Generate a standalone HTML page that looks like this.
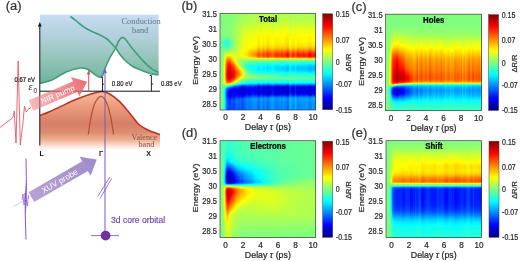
<!DOCTYPE html>
<html><head><meta charset="utf-8"><title>Figure</title>
<style>
html,body{margin:0;padding:0;background:#fff;width:520px;height:261px;overflow:hidden;position:relative}
.hm{position:absolute;overflow:hidden}
.hm i{position:absolute;left:0;width:100%;height:1px;display:block}
svg{position:absolute;left:0;top:0;display:block}
</style></head>
<body>
<div class="hm" style="left:220px;top:13px;width:96px;height:97px;filter:blur(0.45px)"><i style="top:0px;background:linear-gradient(90deg,#80ff7f 0.5px,#b1ff4e 38.5px,#acff53 95.5px)"></i><i style="top:1px;background:linear-gradient(90deg,#80ff7f 0.5px,#b2ff4d 38.5px,#adff52 95.5px)"></i><i style="top:2px;background:linear-gradient(90deg,#80ff7f 0.5px,#b3ff4c 38.5px,#aeff51 95.5px)"></i><i style="top:3px;background:linear-gradient(90deg,#80ff7f 0.5px,#86ff79 11.5px,#a4ff5b 23.5px,#b4ff4b 38.5px,#b0ff4f 95.5px)"></i><i style="top:4px;background:linear-gradient(90deg,#80ff7f 0.5px,#86ff79 11.5px,#a5ff5a 23.5px,#b6ff49 38.5px,#adff52 41.5px,#b8ff47 47.5px,#adff52 52.5px,#b9ff46 67.5px,#abff54 70.5px,#b2ff4d 95.5px)"></i><i style="top:5px;background:linear-gradient(90deg,#80ff7f 0.5px,#86ff79 11.5px,#a7ff58 23.5px,#b9ff46 38.5px,#afff50 41.5px,#baff45 47.5px,#afff50 52.5px,#bbff44 67.5px,#adff52 70.5px,#b6ff49 73.5px,#adff52 75.5px,#b4ff4b 95.5px)"></i><i style="top:6px;background:linear-gradient(90deg,#80ff7f 0.5px,#87ff78 11.5px,#a9ff56 23.5px,#bcff43 38.5px,#b1ff4e 41.5px,#bdff42 47.5px,#b1ff4e 52.5px,#beff41 67.5px,#afff50 70.5px,#b9ff46 73.5px,#afff50 75.5px,#b6ff49 95.5px)"></i><i style="top:7px;background:linear-gradient(90deg,#80ff7f 0.5px,#87ff78 11.5px,#abff54 23.5px,#bfff40 38.5px,#b4ff4b 41.5px,#c0ff3f 47.5px,#b4ff4b 52.5px,#c2ff3d 67.5px,#b1ff4e 70.5px,#bcff43 73.5px,#b2ff4d 75.5px,#bcff43 77.5px,#b9ff46 95.5px)"></i><i style="top:8px;background:linear-gradient(90deg,#80ff7f 0.5px,#88ff77 11.5px,#aeff51 23.5px,#c3ff3c 38.5px,#b7ff48 41.5px,#c4ff3b 47.5px,#b7ff48 52.5px,#c6ff39 67.5px,#b4ff4b 70.5px,#c0ff3f 73.5px,#b5ff4a 75.5px,#bfff40 77.5px,#bdff42 95.5px)"></i><i style="top:9px;background:linear-gradient(90deg,#80ff7f 0.5px,#88ff77 11.5px,#b1ff4e 23.5px,#bbff44 36.5px,#c7ff38 38.5px,#bbff44 41.5px,#c9ff36 47.5px,#bbff44 52.5px,#cbff34 67.5px,#b8ff47 70.5px,#c4ff3b 73.5px,#b8ff47 75.5px,#c3ff3c 77.5px,#c1ff3e 95.5px)"></i><i style="top:10px;background:linear-gradient(90deg,#80ff7f 0.5px,#89ff76 11.5px,#b4ff4b 23.5px,#bfff40 36.5px,#ccff33 38.5px,#bfff40 41.5px,#ceff31 47.5px,#bfff40 52.5px,#d0ff2f 67.5px,#bcff43 70.5px,#c9ff36 73.5px,#bcff43 75.5px,#c8ff37 77.5px,#c6ff39 95.5px)"></i><i style="top:11px;background:linear-gradient(90deg,#80ff7f 0.5px,#89ff76 11.5px,#b8ff47 23.5px,#c3ff3c 36.5px,#d1ff2e 38.5px,#c3ff3c 41.5px,#d3ff2c 47.5px,#c3ff3c 52.5px,#d5ff2a 67.5px,#c0ff3f 70.5px,#ceff31 73.5px,#c0ff3f 75.5px,#cdff32 77.5px,#caff35 95.5px)"></i><i style="top:12px;background:linear-gradient(90deg,#80ff7f 0.5px,#8aff75 11.5px,#bcff43 23.5px,#c8ff37 36.5px,#d7ff28 38.5px,#c8ff37 41.5px,#d9ff26 47.5px,#c8ff37 52.5px,#dbff24 67.5px,#c4ff3b 70.5px,#d3ff2c 73.5px,#c5ff3a 75.5px,#d2ff2d 77.5px,#cfff30 95.5px)"></i><i style="top:13px;background:linear-gradient(90deg,#80ff7f 0.5px,#8bff74 11.5px,#c0ff3f 23.5px,#cdff32 36.5px,#ddff22 38.5px,#cdff32 41.5px,#dfff20 47.5px,#ccff33 52.5px,#e1ff1e 67.5px,#c9ff36 70.5px,#d9ff26 73.5px,#c9ff36 75.5px,#d8ff27 77.5px,#d5ff2a 95.5px)"></i><i style="top:14px;background:linear-gradient(90deg,#80ff7f 0.5px,#8bff74 11.5px,#c4ff3b 23.5px,#d2ff2d 36.5px,#e3ff1c 38.5px,#d2ff2d 41.5px,#e5ff1a 47.5px,#d1ff2e 52.5px,#e0ff1f 56.5px,#d9ff26 63.5px,#e7ff18 67.5px,#cdff32 70.5px,#dfff20 73.5px,#ceff31 75.5px,#ddff22 77.5px,#daff25 95.5px)"></i><i style="top:15px;background:linear-gradient(90deg,#80ff7f 0.5px,#8cff73 11.5px,#c8ff37 23.5px,#d6ff29 36.5px,#e8ff17 38.5px,#d7ff28 41.5px,#e6ff19 43.5px,#dbff24 45.5px,#ebff14 47.5px,#d6ff29 52.5px,#e6ff19 56.5px,#deff21 63.5px,#eeff11 67.5px,#d2ff2d 70.5px,#e4ff1b 73.5px,#d2ff2d 75.5px,#e3ff1c 77.5px,#e0ff1f 95.5px)"></i><i style="top:16px;background:linear-gradient(90deg,#7fff80 0.5px,#8dff72 11.5px,#ccff33 23.5px,#dbff24 36.5px,#eeff11 38.5px,#dbff24 41.5px,#ecff13 43.5px,#e0ff1f 45.5px,#f1ff0e 47.5px,#dbff24 52.5px,#ecff13 56.5px,#e4ff1b 63.5px,#f4ff0b 67.5px,#d7ff28 70.5px,#eaff15 73.5px,#d7ff28 75.5px,#e8ff17 77.5px,#e5ff1a 95.5px)"></i><i style="top:17px;background:linear-gradient(90deg,#7fff80 0.5px,#8dff72 11.5px,#cfff30 23.5px,#e0ff1f 29.5px,#e0ff1f 36.5px,#f4ff0b 38.5px,#e0ff1f 41.5px,#f1ff0e 43.5px,#e5ff1a 45.5px,#f6ff09 47.5px,#dfff20 52.5px,#f1ff0e 56.5px,#e9ff16 63.5px,#f9ff06 67.5px,#dbff24 70.5px,#efff10 73.5px,#dbff24 75.5px,#eeff11 77.5px,#eaff15 95.5px)"></i><i style="top:18px;background:linear-gradient(90deg,#7fff80 0.5px,#8eff71 11.5px,#d3ff2c 23.5px,#e4ff1b 29.5px,#e4ff1b 36.5px,#f9ff06 38.5px,#e4ff1b 41.5px,#f6ff09 43.5px,#e9ff16 45.5px,#fcff03 47.5px,#e4ff1b 52.5px,#f6ff09 56.5px,#edff12 63.5px,#ffff00 67.5px,#dfff20 70.5px,#f4ff0b 73.5px,#dfff20 75.5px,#f2ff0d 77.5px,#eeff11 95.5px)"></i><i style="top:19px;background:linear-gradient(90deg,#7fff80 0.5px,#8eff71 11.5px,#d6ff29 23.5px,#e8ff17 29.5px,#e8ff17 36.5px,#feff01 38.5px,#e8ff17 41.5px,#fbff04 43.5px,#edff12 45.5px,#fffd00 47.5px,#e8ff17 52.5px,#fbff04 56.5px,#f2ff0d 63.5px,#fffd00 68.5px,#e3ff1c 70.5px,#f9ff06 73.5px,#e3ff1c 75.5px,#f7ff08 77.5px,#f3ff0c 95.5px)"></i><i style="top:20px;background:linear-gradient(90deg,#7fff80 0.5px,#8eff71 11.5px,#d9ff26 23.5px,#ecff13 29.5px,#ebff14 36.5px,#fffc00 38.5px,#ecff13 41.5px,#ffff00 43.5px,#f1ff0e 45.5px,#fff900 47.5px,#ebff14 52.5px,#ffff00 56.5px,#f5ff0a 60.5px,#fff900 68.5px,#e6ff19 70.5px,#fdff02 73.5px,#e6ff19 75.5px,#fbff04 77.5px,#f7ff08 95.5px)"></i><i style="top:21px;background:linear-gradient(90deg,#7fff80 0.5px,#82ff7d 8.5px,#acff53 17.5px,#e0ff1f 24.5px,#eeff11 36.5px,#fff900 38.5px,#efff10 41.5px,#fffb00 43.5px,#f4ff0b 45.5px,#fff500 47.5px,#fffe00 48.5px,#eeff11 52.5px,#feff01 55.5px,#fff500 68.5px,#e9ff16 70.5px,#fffe00 73.5px,#e9ff16 75.5px,#feff01 77.5px,#faff05 95.5px)"></i><i style="top:22px;background:linear-gradient(90deg,#7fff80 0.5px,#7eff81 8.5px,#adff52 17.5px,#e2ff1d 24.5px,#f1ff0e 36.5px,#fff500 38.5px,#f1ff0e 41.5px,#fffe00 46.5px,#fff200 47.5px,#feff01 50.5px,#f1ff0e 52.5px,#fffd00 55.5px,#ffff00 65.5px,#fff200 68.5px,#ebff14 70.5px,#fffb00 73.5px,#ecff13 75.5px,#fffd00 77.5px,#fdff02 95.5px)"></i><i style="top:23px;background:linear-gradient(90deg,#7eff81 0.5px,#73ff8c 7.5px,#aeff51 17.5px,#e0ff1f 23.5px,#f3ff0c 29.5px,#f3ff0c 36.5px,#ffff00 37.5px,#fff300 38.5px,#f9ff06 45.5px,#ffef00 47.5px,#f3ff0c 52.5px,#fffa00 55.5px,#feff01 63.5px,#ffec00 67.5px,#f5ff0a 69.5px,#edff12 70.5px,#fff800 73.5px,#eeff11 75.5px,#fffa00 77.5px,#ffff00 87.5px,#fff400 90.5px,#ffff00 95.5px)"></i><i style="top:24px;background:linear-gradient(90deg,#7dff82 0.5px,#69ff96 7.5px,#dcff23 22.5px,#f5ff0a 29.5px,#f5ff0a 36.5px,#fff100 38.5px,#fdff02 40.5px,#fff300 43.5px,#fbff04 45.5px,#ffed00 47.5px,#fbff04 51.5px,#fff400 56.5px,#fffe00 63.5px,#ffea00 67.5px,#f7ff08 69.5px,#fcff03 86.5px,#fff100 90.5px,#fbff04 92.5px,#fffd00 95.5px)"></i><i style="top:25px;background:linear-gradient(90deg,#7cff83 0.5px,#5bffa4 7.5px,#ddff22 22.5px,#f7ff08 29.5px,#f7ff08 36.5px,#ffef00 38.5px,#feff01 40.5px,#fff200 43.5px,#fdff02 45.5px,#ffeb00 47.5px,#fcff03 51.5px,#fff200 56.5px,#fffc00 63.5px,#ffe800 67.5px,#f8ff07 69.5px,#f1ff0e 70.5px,#fff400 73.5px,#f1ff0e 75.5px,#fff600 77.5px,#fdff02 86.5px,#ffef00 90.5px,#fdff02 92.5px,#fffb00 95.5px)"></i><i style="top:26px;background:linear-gradient(90deg,#7aff85 0.5px,#4bffb4 7.5px,#9cff63 14.5px,#deff21 22.5px,#f8ff07 29.5px,#f8ff07 36.5px,#ffed00 38.5px,#fffe00 40.5px,#feff01 42.5px,#fff000 43.5px,#feff01 45.5px,#ffea00 47.5px,#feff01 51.5px,#fff000 56.5px,#fffb00 63.5px,#ffe600 67.5px,#ffe900 68.5px,#faff05 69.5px,#fff300 73.5px,#f3ff0c 75.5px,#fff500 77.5px,#ffff00 86.5px,#ffee00 90.5px,#ffff00 92.5px,#fff900 95.5px)"></i><i style="top:27px;background:linear-gradient(90deg,#79ff86 0.5px,#42ffbd 5.5px,#3bffc4 7.5px,#9cff63 14.5px,#dfff20 22.5px,#f9ff06 29.5px,#f9ff06 36.5px,#ffeb00 38.5px,#fffd00 40.5px,#fffe00 42.5px,#ffee00 43.5px,#ffff00 45.5px,#ffe800 47.5px,#ffff00 51.5px,#ffef00 56.5px,#fff900 63.5px,#ffe400 67.5px,#ffe700 68.5px,#fbff04 69.5px,#fff100 73.5px,#f4ff0b 75.5px,#fff300 77.5px,#fffe00 86.5px,#ffec00 90.5px,#fffe00 92.5px,#fff800 95.5px)"></i><i style="top:28px;background:linear-gradient(90deg,#77ff88 0.5px,#35ffca 5.5px,#2bffd4 7.5px,#9bff64 14.5px,#e0ff1f 22.5px,#faff05 29.5px,#faff05 36.5px,#ffea00 38.5px,#fbff04 41.5px,#ffed00 43.5px,#fffd00 45.5px,#ffe600 47.5px,#fbff04 52.5px,#ffed00 56.5px,#fff800 63.5px,#ffe200 67.5px,#ffe500 68.5px,#fdff02 69.5px,#ffef00 73.5px,#f5ff0a 75.5px,#fff100 77.5px,#fffc00 86.5px,#ffea00 90.5px,#fffc00 92.5px,#fff600 95.5px)"></i><i style="top:29px;background:linear-gradient(90deg,#76ff89 0.5px,#2bffd4 5.5px,#20ffdf 7.5px,#9bff64 14.5px,#e1ff1e 22.5px,#fcff03 29.5px,#fcff03 36.5px,#ffe800 38.5px,#fdff02 41.5px,#ffea00 43.5px,#fffb00 45.5px,#ffe400 47.5px,#fcff03 52.5px,#ffeb00 56.5px,#fff200 65.5px,#ffdf00 67.5px,#ffe300 68.5px,#ffff00 69.5px,#ffed00 73.5px,#f7ff08 75.5px,#ffef00 77.5px,#fffa00 86.5px,#ffe700 90.5px,#fffa00 92.5px,#fff300 95.5px)"></i><i style="top:30px;background:linear-gradient(90deg,#76ff89 0.5px,#27ffd8 5.5px,#1bffe4 7.5px,#9bff64 14.5px,#e2ff1d 22.5px,#fdff02 29.5px,#feff01 36.5px,#ffe500 38.5px,#ffff00 41.5px,#ffe800 43.5px,#fff800 45.5px,#ffe100 47.5px,#ffff00 52.5px,#ffe700 56.5px,#fff200 63.5px,#ffdc00 67.5px,#ffdf00 68.5px,#fffc00 69.5px,#faff05 70.5px,#ffe900 73.5px,#faff05 75.5px,#ffeb00 77.5px,#fff600 86.5px,#ffe300 90.5px,#fff600 92.5px,#fff000 95.5px)"></i><i style="top:31px;background:linear-gradient(90deg,#76ff89 0.5px,#28ffd7 5.5px,#1cffe3 7.5px,#9bff64 14.5px,#e3ff1c 22.5px,#ffff00 29.5px,#fffd00 36.5px,#ffe100 38.5px,#fffb00 41.5px,#ffe300 43.5px,#fff500 45.5px,#ffdc00 47.5px,#fffb00 52.5px,#ffe300 56.5px,#ffee00 63.5px,#ffd600 67.5px,#ffda00 68.5px,#fff800 69.5px,#feff01 70.5px,#ffe400 73.5px,#ffff00 75.5px,#ffe600 77.5px,#fff100 86.5px,#ffde00 90.5px,#fff100 92.5px,#ffea00 95.5px)"></i><i style="top:32px;background:linear-gradient(90deg,#77ff88 0.5px,#2fffd0 5.5px,#25ffda 7.5px,#9cff63 14.5px,#e4ff1b 22.5px,#fffc00 29.5px,#fff800 36.5px,#ffdb00 38.5px,#fff600 41.5px,#ffdd00 43.5px,#ffef00 45.5px,#ffd500 47.5px,#fff500 52.5px,#ffdc00 56.5px,#ffe700 63.5px,#ffce00 67.5px,#ffd200 68.5px,#fff200 69.5px,#fffa00 70.5px,#ffdd00 73.5px,#fff900 75.5px,#ffde00 77.5px,#ffea00 86.5px,#ffd500 90.5px,#ffe900 92.5px,#ffe200 95.5px)"></i><i style="top:33px;background:linear-gradient(90deg,#78ff87 0.5px,#3bffc4 5.5px,#33ffcc 7.5px,#9fff60 14.5px,#e7ff18 22.5px,#fff800 29.5px,#fff100 36.5px,#ffd300 38.5px,#ffef00 41.5px,#ffd400 43.5px,#ffe700 45.5px,#ffcb00 47.5px,#ffed00 52.5px,#ffd200 56.5px,#ffdf00 60.5px,#ffd300 61.5px,#ffd900 65.5px,#ffc300 67.5px,#ffc700 68.5px,#ffe800 69.5px,#fff100 70.5px,#ffd200 73.5px,#fff000 75.5px,#ffd400 77.5px,#ffdf00 86.5px,#ffc900 90.5px,#ffdf00 92.5px,#ffd600 95.5px)"></i><i style="top:34px;background:linear-gradient(90deg,#79ff86 0.5px,#4affb5 5.5px,#45ffba 7.5px,#a1ff5e 14.5px,#eaff15 22.5px,#fffd00 28.5px,#ffe900 36.5px,#ffc700 38.5px,#ffe500 41.5px,#ffc800 43.5px,#ffdc00 45.5px,#ffbe00 47.5px,#ffe200 52.5px,#ffc400 56.5px,#ffd200 60.5px,#ffc500 61.5px,#ffcb00 65.5px,#ffb400 67.5px,#ffb800 68.5px,#ffdc00 69.5px,#ffe600 70.5px,#ffc300 73.5px,#ffe400 75.5px,#ffc500 77.5px,#ffd100 86.5px,#ffb800 90.5px,#ffd000 92.5px,#ffc700 95.5px)"></i><i style="top:35px;background:linear-gradient(90deg,#7bff84 0.5px,#5affa5 5.5px,#5affa5 7.5px,#edff12 22.5px,#fff700 28.5px,#ffdd00 36.5px,#ffb800 38.5px,#ffd700 41.5px,#ffb800 43.5px,#ffcd00 45.5px,#ffad00 47.5px,#ffd400 52.5px,#ffb300 56.5px,#ffc100 60.5px,#ffb300 61.5px,#ffbf00 63.5px,#ffba00 65.5px,#ff9f00 67.5px,#ffa400 68.5px,#ffcb00 69.5px,#ffd600 70.5px,#ffb000 73.5px,#ffd400 75.5px,#ffb100 77.5px,#ffbe00 86.5px,#ffa200 90.5px,#ffbc00 92.5px,#ffb200 95.5px)"></i><i style="top:36px;background:linear-gradient(90deg,#7cff83 0.5px,#6fff90 7.5px,#feff01 24.5px,#ffcf00 36.5px,#ffa600 38.5px,#ffc700 41.5px,#ffa400 43.5px,#ffbc00 45.5px,#ff9800 47.5px,#ffc200 52.5px,#ff9d00 56.5px,#ffad00 60.5px,#ff9d00 61.5px,#ffaa00 63.5px,#ffa400 65.5px,#ff8600 67.5px,#ff8b00 68.5px,#ffb700 69.5px,#ffc300 70.5px,#ff9800 73.5px,#ffc000 75.5px,#ff9900 77.5px,#ffa700 86.5px,#ff8700 90.5px,#ffa400 92.5px,#ff9800 95.5px)"></i><i style="top:37px;background:linear-gradient(90deg,#7eff81 0.5px,#78ff87 4.5px,#8bff74 8.5px,#c2ff3d 17.5px,#f8ff07 22.5px,#fffa00 24.5px,#fff500 27.5px,#ffda00 29.5px,#ffbf00 36.5px,#ff9100 38.5px,#ffb500 41.5px,#ff8e00 43.5px,#ffa700 45.5px,#ff7f00 47.5px,#ffad00 52.5px,#ff8400 56.5px,#ff9500 60.5px,#ff8300 61.5px,#ff9200 63.5px,#ff8b00 65.5px,#ff6a00 67.5px,#ff6f00 68.5px,#ffa000 69.5px,#ffad00 70.5px,#ff7d00 73.5px,#ffa900 75.5px,#ff7e00 77.5px,#ff8b00 81.5px,#ff7e00 83.5px,#ff8c00 86.5px,#ff6800 90.5px,#ff8900 92.5px,#ff7b00 95.5px)"></i><i style="top:38px;background:linear-gradient(90deg,#7fff80 0.5px,#7fff80 3.5px,#9dff62 7.5px,#bbff44 15.5px,#fffb00 23.5px,#ffee00 27.5px,#ffd000 29.5px,#ffae00 36.5px,#ff7b00 38.5px,#ffa100 41.5px,#ff9500 42.5px,#ff7600 43.5px,#ff9100 45.5px,#ff6500 47.5px,#ff9700 52.5px,#ff6900 56.5px,#ff7c00 60.5px,#ff6800 61.5px,#ff7800 63.5px,#ff7000 65.5px,#ff4b00 67.5px,#ff5000 68.5px,#ff8700 69.5px,#ff9600 70.5px,#ff6000 73.5px,#ff9100 75.5px,#ff6000 77.5px,#ff6e00 81.5px,#ff6000 83.5px,#ff6f00 86.5px,#ff4700 90.5px,#ff6b00 92.5px,#ff5b00 95.5px)"></i><i style="top:39px;background:linear-gradient(90deg,#7fff80 0.5px,#85ff7a 3.5px,#bbff44 8.5px,#ccff33 17.5px,#fffb00 22.5px,#ffe700 27.5px,#ffc600 29.5px,#ff9d00 36.5px,#ff6500 38.5px,#ff8e00 41.5px,#ff8000 42.5px,#ff5e00 43.5px,#ff7c00 45.5px,#ff4b00 47.5px,#ff8200 52.5px,#ff4f00 56.5px,#ff6300 60.5px,#ff4d00 61.5px,#ff5f00 63.5px,#ff5500 65.5px,#ff2d00 67.5px,#ff3300 68.5px,#ff6e00 69.5px,#ff7e00 70.5px,#ff4300 73.5px,#ff7900 75.5px,#ff4300 77.5px,#ff5200 81.5px,#ff4200 83.5px,#ff5300 86.5px,#ff2600 90.5px,#ff4e00 92.5px,#ff3c00 95.5px)"></i><i style="top:40px;background:linear-gradient(90deg,#80ff7f 0.5px,#8bff74 3.5px,#d1ff2e 7.5px,#caff35 15.5px,#fff800 22.5px,#ffe200 27.5px,#ffbf00 29.5px,#ff8f00 36.5px,#ff5300 38.5px,#ff7d00 41.5px,#ff6e00 42.5px,#ff4a00 43.5px,#ff6a00 45.5px,#ff3600 47.5px,#ff7000 52.5px,#ff3900 56.5px,#ff4e00 60.5px,#ff3600 61.5px,#ff4900 63.5px,#ff3f00 65.5px,#ff1300 67.5px,#ff1900 68.5px,#ff5900 69.5px,#ff6b00 70.5px,#ff2a00 73.5px,#ff6500 75.5px,#ff2a00 77.5px,#ff2800 79.5px,#ff3a00 81.5px,#ff2800 83.5px,#ff3b00 86.5px,#ff0c00 89.5px,#ff0900 90.5px,#ff3400 92.5px,#ff2100 95.5px)"></i><i style="top:41px;background:linear-gradient(90deg,#80ff7f 0.5px,#90ff6f 3.5px,#deff21 6.5px,#f4ff0b 8.5px,#d1ff2e 15.5px,#eaff15 20.5px,#fcff03 21.5px,#ffec00 25.5px,#ffe000 27.5px,#ffbc00 29.5px,#ff8600 36.5px,#ff4700 38.5px,#ff7300 41.5px,#ff6300 42.5px,#ff3d00 43.5px,#ff5e00 45.5px,#ff2700 47.5px,#ff6300 52.5px,#ff2a00 56.5px,#ff4000 60.5px,#ff2700 61.5px,#ff3b00 63.5px,#ff2f00 65.5px,#ff0100 67.5px,#ff0800 68.5px,#ff4b00 69.5px,#ff5d00 70.5px,#ff1a00 73.5px,#ff5700 75.5px,#ff1900 77.5px,#ff1700 79.5px,#ff2a00 81.5px,#ff1700 83.5px,#ff2a00 86.5px,#f80000 89.5px,#f50000 90.5px,#ff2300 92.5px,#ff0f00 95.5px)"></i><i style="top:42px;background:linear-gradient(90deg,#81ff7e 0.5px,#96ff69 3.5px,#f8ff07 6.5px,#fff200 7.5px,#fff600 10.5px,#d7ff28 16.5px,#e8ff17 20.5px,#fff900 22.5px,#fff000 25.5px,#ffe300 27.5px,#ffbe00 29.5px,#ff8500 36.5px,#ff4600 38.5px,#ff7100 41.5px,#ff6100 42.5px,#ff3b00 43.5px,#ff5c00 45.5px,#ff2400 47.5px,#ff6100 52.5px,#ff2700 56.5px,#ff3d00 60.5px,#ff2300 61.5px,#ff3700 63.5px,#ff2c00 65.5px,#fc0000 67.5px,#ff0400 68.5px,#ff4800 69.5px,#ff5a00 70.5px,#ff1500 73.5px,#ff2b00 74.5px,#ff5300 75.5px,#ff1500 77.5px,#ff1300 79.5px,#ff2500 81.5px,#ff1200 83.5px,#ff2500 86.5px,#f20000 89.5px,#ef0000 90.5px,#ff0900 91.5px,#ff1e00 92.5px,#ff0900 95.5px)"></i><i style="top:43px;background:linear-gradient(90deg,#81ff7e 0.5px,#9bff64 3.5px,#e6ff19 5.5px,#ffec00 6.5px,#ffce00 8.5px,#ffdc00 10.5px,#feff01 12.5px,#ddff22 15.5px,#d7ff28 17.5px,#e3ff1c 20.5px,#fcff03 22.5px,#fffa00 25.5px,#ffee00 27.5px,#ffca00 29.5px,#ff9000 36.5px,#ff5200 38.5px,#ff7b00 41.5px,#ff6c00 42.5px,#ff4700 43.5px,#ff6700 45.5px,#ff3100 47.5px,#ff6b00 52.5px,#ff3300 56.5px,#ff4800 60.5px,#ff2f00 61.5px,#ff4200 63.5px,#ff3700 65.5px,#ff0a00 67.5px,#ff1000 68.5px,#ff5200 69.5px,#ff6400 70.5px,#ff2100 73.5px,#ff5d00 75.5px,#ff2100 77.5px,#ff1f00 79.5px,#ff3000 81.5px,#ff1e00 83.5px,#ff3000 86.5px,#ff0000 89.5px,#fc0000 90.5px,#ff2900 92.5px,#ff1500 95.5px)"></i><i style="top:44px;background:linear-gradient(90deg,#82ff7d 0.5px,#a0ff5f 3.5px,#f8ff07 5.5px,#ffd300 6.5px,#ffb800 7.5px,#ffb100 8.5px,#ffc200 10.5px,#fffe00 13.5px,#d3ff2c 17.5px,#f5ff0a 27.5px,#ffc000 36.5px,#ff8e00 38.5px,#ffaf00 41.5px,#ff8600 43.5px,#ff9f00 45.5px,#ff7500 47.5px,#ffa300 52.5px,#ff7600 56.5px,#ff8700 60.5px,#ff7400 61.5px,#ff8300 63.5px,#ff7a00 65.5px,#ff5600 67.5px,#ff5c00 68.5px,#ff9000 69.5px,#ff9e00 70.5px,#ff6900 73.5px,#ff9900 75.5px,#ff6900 77.5px,#ff7500 81.5px,#ff6700 83.5px,#ff7600 86.5px,#ff4d00 90.5px,#ff7000 92.5px,#ff6000 95.5px)"></i><i style="top:45px;background:linear-gradient(90deg,#82ff7d 0.5px,#8fff70 2.5px,#a4ff5b 3.5px,#fff600 5.5px,#ffbc00 6.5px,#ff9d00 7.5px,#ff9500 8.5px,#ffa900 10.5px,#ffdf00 12.5px,#fbff04 14.5px,#cdff32 17.5px,#c5ff3a 20.5px,#ccff33 27.5px,#ffff00 37.5px,#fff000 38.5px,#fffd00 42.5px,#ffec00 43.5px,#fffb00 45.5px,#ffe200 47.5px,#fffe00 52.5px,#ffe500 56.5px,#ffe800 65.5px,#ffd400 67.5px,#ffd700 68.5px,#fff500 69.5px,#fffd00 70.5px,#ffdf00 73.5px,#fffb00 75.5px,#ffe000 77.5px,#ffe800 86.5px,#ffd100 90.5px,#ffe600 92.5px,#ffdd00 95.5px)"></i><i style="top:46px;background:linear-gradient(90deg,#82ff7d 0.5px,#90ff6f 2.5px,#a8ff57 3.5px,#d5ff2a 4.5px,#ffe700 5.5px,#ffa700 6.5px,#ff8400 7.5px,#ff7b00 8.5px,#ff9100 10.5px,#ffb500 11.5px,#fffa00 14.5px,#e6ff19 15.5px,#c6ff39 17.5px,#b3ff4c 20.5px,#a5ff5a 27.5px,#bcff43 47.5px,#b0ff4f 52.5px,#bdff42 67.5px,#aeff51 70.5px,#b8ff47 73.5px,#aeff51 75.5px,#b5ff4a 95.5px)"></i><i style="top:47px;background:linear-gradient(90deg,#82ff7d 0.5px,#92ff6d 2.5px,#abff54 3.5px,#dcff23 4.5px,#ffdb00 5.5px,#ff9500 6.5px,#ff6e00 7.5px,#ff6300 8.5px,#ff7800 10.5px,#ff9f00 11.5px,#ffee00 14.5px,#ecff13 15.5px,#c3ff3c 17.5px,#a3ff5c 20.5px,#84ff7b 28.5px,#70ff8f 95.5px)"></i><i style="top:48px;background:linear-gradient(90deg,#82ff7d 0.5px,#93ff6c 2.5px,#aeff51 3.5px,#e2ff1d 4.5px,#ffd000 5.5px,#ff8500 6.5px,#ff5a00 7.5px,#ff4d00 8.5px,#ff6000 10.5px,#f9ff06 15.5px,#c5ff3a 17.5px,#98ff67 20.5px,#66ff99 29.5px,#49ffb6 67.5px,#56ffa9 70.5px,#44ffbb 95.5px)"></i><i style="top:49px;background:linear-gradient(90deg,#83ff7c 0.5px,#94ff6b 2.5px,#b0ff4f 3.5px,#e7ff18 4.5px,#ffc700 5.5px,#ff7700 6.5px,#ff4900 7.5px,#ff3900 8.5px,#ff4800 10.5px,#ffc500 14.5px,#fff300 15.5px,#eaff15 16.5px,#a4ff5b 19.5px,#79ff86 22.5px,#50ffaf 29.5px,#3dffc2 38.5px,#42ffbd 45.5px,#36ffc9 47.5px,#42ffbd 52.5px,#27ffd8 67.5px,#3cffc3 70.5px,#2bffd4 73.5px,#39ffc6 75.5px,#2affd5 77.5px,#23ffdc 95.5px)"></i><i style="top:50px;background:linear-gradient(90deg,#83ff7c 0.5px,#95ff6a 2.5px,#b2ff4d 3.5px,#ebff14 4.5px,#ffbf00 5.5px,#ff6b00 6.5px,#ff3a00 7.5px,#ff2800 8.5px,#ff2800 9.5px,#ff3300 10.5px,#ff5a00 11.5px,#ffaa00 14.5px,#feff01 16.5px,#a9ff56 19.5px,#71ff8e 22.5px,#3dffc2 29.5px,#36ffc9 36.5px,#25ffda 38.5px,#33ffcc 41.5px,#23ffdc 43.5px,#2dffd2 45.5px,#1cffe3 47.5px,#2cffd3 52.5px,#1affe5 56.5px,#19ffe6 65.5px,#0afff5 67.5px,#26ffd9 70.5px,#10ffef 73.5px,#22ffdd 75.5px,#0efff1 77.5px,#06fff9 95.5px)"></i><i style="top:51px;background:linear-gradient(90deg,#83ff7c 0.5px,#95ff6a 2.5px,#b3ff4c 3.5px,#efff10 4.5px,#ff6200 6.5px,#ff2e00 7.5px,#ff1900 8.5px,#ff1700 9.5px,#ff2000 10.5px,#ff4500 11.5px,#ff8d00 14.5px,#ffe700 16.5px,#f2ff0d 17.5px,#9aff65 20.5px,#50ffaf 24.5px,#2dffd2 29.5px,#25ffda 36.5px,#10ffef 38.5px,#21ffde 41.5px,#0efff1 43.5px,#1affe5 45.5px,#06fff9 47.5px,#1affe5 52.5px,#03fffc 56.5px,#0afff5 60.5px,#00ffff 61.5px,#02fffd 65.5px,#00efff 67.5px,#12ffed 70.5px,#00fdff 72.5px,#00feff 74.5px,#0efff1 75.5px,#00f4ff 77.5px,#00f8ff 86.5px,#00e2ff 90.5px,#00f3ff 92.5px,#00eaff 95.5px)"></i><i style="top:52px;background:linear-gradient(90deg,#83ff7c 0.5px,#96ff69 2.5px,#b5ff4a 3.5px,#f2ff0d 4.5px,#ff5a00 6.5px,#ff2400 7.5px,#ff0d00 8.5px,#ff0900 9.5px,#ff1000 10.5px,#ff3400 11.5px,#ff7200 14.5px,#fff100 17.5px,#eeff11 18.5px,#a9ff56 20.5px,#4dffb2 24.5px,#20ffdf 29.5px,#17ffe8 36.5px,#00feff 38.5px,#12ffed 41.5px,#00fbff 43.5px,#0afff5 45.5px,#00feff 46.5px,#00f2ff 47.5px,#0afff5 52.5px,#00efff 56.5px,#00f3ff 63.5px,#00d9ff 67.5px,#00dbff 68.5px,#00f8ff 69.5px,#01fffe 70.5px,#00e1ff 73.5px,#00fbff 75.5px,#00dfff 77.5px,#00e3ff 86.5px,#00caff 90.5px,#00deff 92.5px,#00d4ff 95.5px)"></i><i style="top:53px;background:linear-gradient(90deg,#83ff7c 0.5px,#96ff69 2.5px,#b6ff49 3.5px,#f4ff0b 4.5px,#ff5300 6.5px,#ff1b00 7.5px,#ff0300 8.5px,#fc0000 9.5px,#ff0200 10.5px,#ff2600 11.5px,#ff5b00 14.5px,#ff8d00 15.5px,#ffd500 17.5px,#fff300 18.5px,#e7ff18 19.5px,#82ff7d 22.5px,#50ffaf 24.5px,#18ffe7 29.5px,#00feff 37.5px,#00f0ff 38.5px,#00ffff 42.5px,#00eeff 43.5px,#00fcff 45.5px,#00e3ff 47.5px,#00fdff 52.5px,#00e0ff 56.5px,#00e9ff 60.5px,#00dcff 61.5px,#00dfff 65.5px,#00c8ff 67.5px,#00caff 68.5px,#00eaff 69.5px,#00f3ff 70.5px,#00d1ff 73.5px,#00eeff 75.5px,#00cfff 77.5px,#00d3ff 86.5px,#00b8ff 90.5px,#00ceff 92.5px,#00c2ff 95.5px)"></i><i style="top:54px;background:linear-gradient(90deg,#83ff7c 0.5px,#97ff68 2.5px,#b7ff48 3.5px,#f6ff09 4.5px,#ff4c00 6.5px,#ff1300 7.5px,#f80000 8.5px,#f60000 10.5px,#ff4800 14.5px,#ff7900 15.5px,#fff900 19.5px,#dbff24 20.5px,#5cffa3 24.5px,#15ffea 29.5px,#05fffa 36.5px,#00e8ff 38.5px,#00ffff 41.5px,#00e5ff 43.5px,#00f5ff 45.5px,#00daff 47.5px,#00f5ff 52.5px,#00d7ff 56.5px,#00e0ff 60.5px,#00d3ff 61.5px,#00d6ff 65.5px,#00bdff 67.5px,#00c0ff 68.5px,#00e2ff 69.5px,#00ebff 70.5px,#00c7ff 73.5px,#00e5ff 75.5px,#00c5ff 77.5px,#00caff 86.5px,#00acff 90.5px,#00c4ff 92.5px,#00b7ff 95.5px)"></i><i style="top:55px;background:linear-gradient(90deg,#83ff7c 0.5px,#97ff68 2.5px,#b8ff47 3.5px,#f9ff06 4.5px,#ff4600 6.5px,#ff0b00 7.5px,#f00000 8.5px,#ec0000 10.5px,#ff1000 11.5px,#ff3900 14.5px,#ff6800 15.5px,#f7ff08 20.5px,#6fff90 24.5px,#43ffbc 26.5px,#17ffe8 29.5px,#02fffd 35.5px,#00e6ff 38.5px,#00fdff 41.5px,#00e3ff 43.5px,#00f2ff 45.5px,#00d7ff 47.5px,#00f3ff 52.5px,#00d4ff 56.5px,#00ddff 60.5px,#00d0ff 61.5px,#00d3ff 65.5px,#00baff 67.5px,#00bdff 68.5px,#00dfff 69.5px,#00e8ff 70.5px,#00c4ff 73.5px,#00e3ff 75.5px,#00c1ff 77.5px,#00c7ff 86.5px,#00a9ff 90.5px,#00c0ff 92.5px,#00b4ff 95.5px)"></i><i style="top:56px;background:linear-gradient(90deg,#83ff7c 0.5px,#97ff68 2.5px,#b9ff46 3.5px,#fbff04 4.5px,#ff4000 6.5px,#ff0300 7.5px,#e80000 8.5px,#e30000 10.5px,#ff0700 11.5px,#ff2d00 14.5px,#ff5b00 15.5px,#ffc500 19.5px,#ffee00 20.5px,#f7ff08 21.5px,#69ff96 25.5px,#2fffd0 28.5px,#1fffe0 29.5px,#05fffa 35.5px,#00e9ff 38.5px,#01fffe 41.5px,#00e6ff 43.5px,#00f6ff 45.5px,#00dbff 47.5px,#00f6ff 52.5px,#00d8ff 56.5px,#00e1ff 60.5px,#00d4ff 61.5px,#00d6ff 65.5px,#00beff 67.5px,#00c1ff 68.5px,#00e3ff 69.5px,#00ebff 70.5px,#00c8ff 73.5px,#00e6ff 75.5px,#00c6ff 77.5px,#00cbff 86.5px,#00adff 90.5px,#00c5ff 92.5px,#00b9ff 95.5px)"></i><i style="top:57px;background:linear-gradient(90deg,#83ff7c 0.5px,#98ff67 2.5px,#baff45 3.5px,#fdff02 4.5px,#ff3900 6.5px,#fb0000 7.5px,#e00000 8.5px,#d80000 9.5px,#da0000 10.5px,#fd0000 11.5px,#ff2200 14.5px,#ff5000 15.5px,#ffed00 21.5px,#edff12 22.5px,#7eff81 25.5px,#2cffd3 29.5px,#02fffd 37.5px,#00f3ff 38.5px,#01fffe 42.5px,#00f0ff 43.5px,#00feff 45.5px,#00e5ff 47.5px,#00feff 52.5px,#00e2ff 56.5px,#00e1ff 65.5px,#00caff 67.5px,#00ccff 68.5px,#00ecff 69.5px,#00f4ff 70.5px,#00d3ff 73.5px,#00efff 75.5px,#00d1ff 77.5px,#00d5ff 86.5px,#00baff 90.5px,#00d0ff 92.5px,#00c4ff 95.5px)"></i><i style="top:58px;background:linear-gradient(90deg,#83ff7c 0.5px,#98ff67 2.5px,#bbff44 3.5px,#fffe00 4.5px,#ff3400 6.5px,#f40000 7.5px,#d80000 8.5px,#d00000 9.5px,#d20000 10.5px,#f60000 11.5px,#ff1900 14.5px,#ff4700 15.5px,#ffa200 19.5px,#ffc900 20.5px,#fffb00 22.5px,#dbff24 23.5px,#76ff89 26.5px,#3bffc4 29.5px,#1bffe4 36.5px,#02fffd 38.5px,#15ffea 41.5px,#00feff 43.5px,#0cfff3 45.5px,#00f4ff 47.5px,#0cfff3 52.5px,#00f1ff 56.5px,#00f5ff 63.5px,#00dbff 67.5px,#00ddff 68.5px,#00faff 69.5px,#02fffd 70.5px,#00e3ff 73.5px,#00fdff 75.5px,#00e1ff 77.5px,#00e5ff 86.5px,#00cdff 90.5px,#00e0ff 92.5px,#00d6ff 95.5px)"></i><i style="top:59px;background:linear-gradient(90deg,#83ff7c 0.5px,#99ff66 2.5px,#bcff43 3.5px,#fffc00 4.5px,#ff2f00 6.5px,#ee0000 7.5px,#d10000 8.5px,#cb0000 10.5px,#ef0000 11.5px,#fc0000 12.5px,#ff1100 14.5px,#ff3f00 15.5px,#ff9700 19.5px,#ffbd00 20.5px,#ffcb00 21.5px,#ffeb00 22.5px,#ebff14 23.5px,#86ff79 26.5px,#4cffb3 29.5px,#16ffe9 38.5px,#25ffda 41.5px,#12ffed 43.5px,#1dffe2 45.5px,#09fff6 47.5px,#1cffe3 52.5px,#06fff9 56.5px,#02fffd 61.5px,#00f3ff 68.5px,#13ffec 70.5px,#00feff 72.5px,#00ffff 74.5px,#0ffff0 75.5px,#00f6ff 77.5px,#00f9ff 86.5px,#00e4ff 90.5px,#00f5ff 92.5px,#00ecff 95.5px)"></i><i style="top:60px;background:linear-gradient(90deg,#83ff7c 0.5px,#99ff66 2.5px,#bdff42 3.5px,#fffb00 4.5px,#ff2a00 6.5px,#e90000 7.5px,#cc0000 8.5px,#c50000 10.5px,#e90000 11.5px,#ff0b00 14.5px,#ff3900 15.5px,#ff9000 19.5px,#ffb600 20.5px,#ffc300 21.5px,#f5ff0a 23.5px,#93ff6c 26.5px,#5effa1 29.5px,#2effd1 38.5px,#38ffc7 41.5px,#21ffde 47.5px,#2fffd0 52.5px,#1cffe3 56.5px,#19ffe6 65.5px,#0afff5 67.5px,#25ffda 70.5px,#0ffff0 73.5px,#21ffde 75.5px,#0dfff2 77.5px,#05fffa 95.5px)"></i><i style="top:61px;background:linear-gradient(90deg,#84ff7b 0.5px,#9aff65 2.5px,#beff41 3.5px,#fff900 4.5px,#ff2800 6.5px,#e60000 7.5px,#c80000 8.5px,#c10000 10.5px,#e60000 11.5px,#ff0800 14.5px,#ff3600 15.5px,#ff8e00 19.5px,#ffb400 20.5px,#ffc200 21.5px,#f8ff07 23.5px,#9dff62 26.5px,#70ff8f 29.5px,#48ffb7 38.5px,#4fffb0 41.5px,#3bffc4 47.5px,#43ffbc 52.5px,#22ffdd 67.5px,#37ffc8 70.5px,#25ffda 73.5px,#34ffcb 75.5px,#24ffdb 77.5px,#1cffe3 95.5px)"></i><i style="top:62px;background:linear-gradient(90deg,#84ff7b 0.5px,#9aff65 2.5px,#beff41 3.5px,#fff900 4.5px,#ff2700 6.5px,#e50000 7.5px,#c80000 8.5px,#c10000 10.5px,#e50000 11.5px,#ff0900 14.5px,#ff3800 15.5px,#ffe900 22.5px,#f2ff0d 23.5px,#b6ff49 25.5px,#94ff6b 27.5px,#72ff8d 32.5px,#39ffc6 67.5px,#48ffb7 70.5px,#3affc5 73.5px,#45ffba 75.5px,#39ffc6 77.5px,#32ffcd 95.5px)"></i><i style="top:63px;background:linear-gradient(90deg,#84ff7b 0.5px,#9aff65 2.5px,#bdff42 3.5px,#fffa00 4.5px,#ff2900 6.5px,#e70000 7.5px,#cb0000 8.5px,#c50000 10.5px,#e90000 11.5px,#f80000 12.5px,#ff1000 14.5px,#ff4100 15.5px,#fffd00 22.5px,#a3ff5c 26.5px,#80ff7f 32.5px,#4affb5 67.5px,#56ffa9 70.5px,#44ffbb 95.5px)"></i><i style="top:64px;background:linear-gradient(90deg,#84ff7b 0.5px,#99ff66 2.5px,#bdff42 3.5px,#fffc00 4.5px,#ff2f00 6.5px,#ef0000 7.5px,#d30000 8.5px,#cb0000 9.5px,#cf0000 10.5px,#f40000 11.5px,#ff0500 12.5px,#ff2200 14.5px,#ff5400 15.5px,#ff9500 17.5px,#ffef00 20.5px,#fdff02 21.5px,#a4ff5b 25.5px,#83ff7c 31.5px,#54ffab 67.5px,#5dffa2 70.5px,#4fffb0 95.5px)"></i><i style="top:65px;background:linear-gradient(90deg,#83ff7c 0.5px,#98ff67 2.5px,#bbff44 3.5px,#feff01 4.5px,#ff3900 6.5px,#fb0000 7.5px,#e10000 8.5px,#db0000 9.5px,#e00000 10.5px,#ff0800 11.5px,#ff2900 13.5px,#ff3f00 14.5px,#ff7300 15.5px,#ffba00 17.5px,#fff400 19.5px,#e6ff19 20.5px,#9aff65 24.5px,#7aff85 29.5px,#50ffaf 67.5px,#5affa5 70.5px,#4effb1 95.5px)"></i><i style="top:66px;background:linear-gradient(90deg,#83ff7c 0.5px,#97ff68 2.5px,#b8ff47 3.5px,#f9ff06 4.5px,#ff4800 6.5px,#ff0f00 7.5px,#f70000 8.5px,#fa0000 10.5px,#ff2300 11.5px,#ff4c00 13.5px,#ff6600 14.5px,#ff9b00 15.5px,#ffe700 17.5px,#faff05 18.5px,#bcff43 20.5px,#86ff79 23.5px,#60ff9f 29.5px,#3effc1 67.5px,#4effb1 70.5px,#42ffbd 73.5px,#4dffb2 75.5px,#42ffbd 77.5px,#42ffbd 95.5px)"></i><i style="top:67px;background:linear-gradient(90deg,#83ff7c 0.5px,#96ff69 2.5px,#b4ff4b 3.5px,#f1ff0e 4.5px,#ff5d00 6.5px,#ff2900 7.5px,#ff1500 8.5px,#ff1400 9.5px,#ff1e00 10.5px,#ff4600 11.5px,#ff9500 14.5px,#fff000 16.5px,#eaff15 17.5px,#98ff67 20.5px,#74ff8b 22.5px,#5dffa2 24.5px,#45ffba 29.5px,#42ffbd 36.5px,#35ffca 38.5px,#3dffc2 45.5px,#30ffcf 47.5px,#3effc1 52.5px,#29ffd6 67.5px,#3effc1 70.5px,#2fffd0 73.5px,#3dffc2 75.5px,#30ffcf 77.5px,#31ffce 95.5px)"></i><i style="top:68px;background:linear-gradient(90deg,#83ff7c 0.5px,#94ff6b 2.5px,#b0ff4f 3.5px,#e7ff18 4.5px,#ffc800 5.5px,#ff7800 6.5px,#ff4b00 7.5px,#ff3b00 8.5px,#ff4a00 10.5px,#ffc800 14.5px,#fff900 15.5px,#e1ff1e 16.5px,#8fff70 19.5px,#59ffa6 22.5px,#31ffce 29.5px,#2fffd0 36.5px,#1effe1 38.5px,#2effd1 41.5px,#1fffe0 43.5px,#29ffd6 45.5px,#1affe5 47.5px,#2dffd2 52.5px,#1dffe2 56.5px,#23ffdc 63.5px,#14ffeb 67.5px,#2fffd0 70.5px,#1dffe2 73.5px,#2effd1 75.5px,#1effe1 77.5px,#21ffde 95.5px)"></i><i style="top:69px;background:linear-gradient(90deg,#82ff7d 0.5px,#91ff6e 2.5px,#a9ff56 3.5px,#d9ff26 4.5px,#ffe000 5.5px,#ff9d00 6.5px,#ff7800 7.5px,#ff6e00 8.5px,#ff8500 10.5px,#f8ff07 14.5px,#93ff6c 17.5px,#47ffb8 21.5px,#2bffd4 24.5px,#19ffe6 29.5px,#17ffe8 36.5px,#01fffe 38.5px,#16ffe9 41.5px,#02fffd 43.5px,#10ffef 45.5px,#00fbff 47.5px,#15ffea 52.5px,#00ffff 56.5px,#0afff5 60.5px,#00f8ff 68.5px,#19ffe6 70.5px,#02fffd 73.5px,#18ffe7 75.5px,#03fffc 77.5px,#07fff8 95.5px)"></i><i style="top:70px;background:linear-gradient(90deg,#82ff7d 0.5px,#a1ff5e 3.5px,#fcff03 5.5px,#ffd100 6.5px,#ffb900 7.5px,#ffb700 8.5px,#ffd700 10.5px,#fffb00 11.5px,#69ff96 16.5px,#2cffd3 19.5px,#02fffd 22.5px,#00faff 27.5px,#00e8ff 29.5px,#00e9ff 36.5px,#00caff 38.5px,#00e7ff 41.5px,#00cbff 43.5px,#00dfff 45.5px,#00c2ff 47.5px,#00e6ff 52.5px,#00c9ff 56.5px,#00d6ff 63.5px,#00d1ff 65.5px,#00bbff 67.5px,#00bfff 68.5px,#00e2ff 69.5px,#00ebff 70.5px,#00cbff 73.5px,#00ebff 75.5px,#00cdff 77.5px,#00dbff 86.5px,#00c4ff 90.5px,#00dbff 92.5px,#00d3ff 95.5px)"></i><i style="top:71px;background:linear-gradient(90deg,#81ff7e 0.5px,#94ff6b 3.5px,#e5ff1a 6.5px,#ebff14 7.5px,#d1ff2e 9.5px,#3dffc2 14.5px,#00fdff 17.5px,#00afff 22.5px,#00b7ff 27.5px,#00a0ff 29.5px,#00aeff 33.5px,#00a7ff 36.5px,#0079ff 38.5px,#00a5ff 41.5px,#007dff 43.5px,#0099ff 45.5px,#0070ff 47.5px,#00a3ff 52.5px,#007aff 56.5px,#008eff 60.5px,#007cff 61.5px,#008dff 63.5px,#0086ff 65.5px,#0066ff 67.5px,#006cff 68.5px,#009eff 69.5px,#00acff 70.5px,#007dff 73.5px,#00abff 75.5px,#0081ff 77.5px,#0090ff 81.5px,#0084ff 83.5px,#0094ff 86.5px,#0074ff 90.5px,#0094ff 92.5px,#0089ff 95.5px)"></i><i style="top:72px;background:linear-gradient(90deg,#80ff7f 0.5px,#8cff73 6.5px,#6cff93 8.5px,#0bfff4 12.5px,#00ebff 13.5px,#00ccff 14.5px,#007eff 19.5px,#0081ff 20.5px,#0061ff 21.5px,#0055ff 22.5px,#0056ff 24.5px,#0069ff 25.5px,#006fff 27.5px,#0053ff 29.5px,#0069ff 33.5px,#005aff 35.5px,#0061ff 36.5px,#0026ff 38.5px,#0061ff 41.5px,#0052ff 42.5px,#002dff 43.5px,#0053ff 45.5px,#001dff 47.5px,#0060ff 52.5px,#002bff 56.5px,#0045ff 60.5px,#002eff 61.5px,#0043ff 63.5px,#003bff 65.5px,#0011ff 67.5px,#0019ff 68.5px,#005aff 69.5px,#006cff 70.5px,#002fff 73.5px,#006bff 75.5px,#0034ff 77.5px,#0035ff 79.5px,#0048ff 81.5px,#0039ff 83.5px,#004dff 86.5px,#0025ff 89.5px,#0023ff 90.5px,#004eff 92.5px,#003fff 95.5px)"></i><i style="top:73px;background:linear-gradient(90deg,#7fff80 0.5px,#66ff99 4.5px,#00f7ff 8.5px,#00a4ff 12.5px,#006cff 14.5px,#0058ff 17.5px,#0034ff 19.5px,#003dff 20.5px,#0019ff 21.5px,#000dff 22.5px,#0013ff 24.5px,#002cff 25.5px,#0036ff 27.5px,#0018ff 29.5px,#0029ff 30.5px,#0035ff 33.5px,#0024ff 35.5px,#002dff 36.5px,#000cff 37.5px,#0000e7 38.5px,#0000f8 39.5px,#002eff 41.5px,#0000f1 43.5px,#001eff 45.5px,#0002ff 46.5px,#0000df 47.5px,#0000f9 48.5px,#0000ff 49.5px,#002fff 52.5px,#0000fd 55.5px,#0000f0 56.5px,#0000fe 59.5px,#0010ff 60.5px,#0000f4 61.5px,#000eff 63.5px,#0005ff 65.5px,#0000d2 67.5px,#0000db 68.5px,#0029ff 69.5px,#003eff 70.5px,#0008ff 72.5px,#0000f6 73.5px,#0010ff 74.5px,#003dff 75.5px,#0000fc 77.5px,#0000fc 79.5px,#0013ff 81.5px,#0002ff 83.5px,#001aff 86.5px,#0000ff 88.5px,#0000ea 89.5px,#0000e8 90.5px,#0004ff 91.5px,#001bff 92.5px,#001dff 93.5px,#0009ff 94.5px,#000aff 95.5px)"></i><i style="top:74px;background:linear-gradient(90deg,#7eff81 0.5px,#65ff9a 3.5px,#19ffe6 5.5px,#00e0ff 6.5px,#0097ff 8.5px,#006bff 10.5px,#006aff 11.5px,#0028ff 14.5px,#0032ff 15.5px,#0026ff 17.5px,#0005ff 19.5px,#0012ff 20.5px,#0000eb 21.5px,#0000df 22.5px,#0000ea 24.5px,#0007ff 25.5px,#0015ff 27.5px,#0000f4 29.5px,#0017ff 33.5px,#0005ff 35.5px,#0010ff 36.5px,#0000eb 37.5px,#0000c5 38.5px,#0000fa 40.5px,#0012ff 41.5px,#0000ff 42.5px,#0000d0 43.5px,#0002ff 45.5px,#0000bd 47.5px,#0000da 48.5px,#0000e9 50.5px,#0003ff 51.5px,#0015ff 52.5px,#0000f6 54.5px,#0000d2 56.5px,#0000e0 59.5px,#0000f3 60.5px,#0000d6 61.5px,#0000f1 63.5px,#0000e7 65.5px,#0000b2 67.5px,#0000bc 68.5px,#000fff 69.5px,#0026ff 70.5px,#000aff 71.5px,#0000d9 73.5px,#0000f3 74.5px,#0024ff 75.5px,#0004ff 76.5px,#0000de 77.5px,#0000df 79.5px,#0000f7 81.5px,#0000e5 83.5px,#0000fe 86.5px,#0000cb 89.5px,#0000ca 90.5px,#0000ff 92.5px,#0000ec 95.5px)"></i><i style="top:75px;background:linear-gradient(90deg,#7dff82 0.5px,#70ff8f 2.5px,#5affa5 3.5px,#00eeff 5.5px,#00a6ff 6.5px,#0073ff 7.5px,#0054ff 8.5px,#002eff 10.5px,#0035ff 11.5px,#0029ff 12.5px,#0000ff 14.5px,#0010ff 15.5px,#000cff 17.5px,#0000ed 19.5px,#0000fc 20.5px,#0000d5 21.5px,#0000ca 22.5px,#0000d7 24.5px,#0000f6 25.5px,#0000fb 26.5px,#0006ff 27.5px,#0000e5 29.5px,#0000ff 31.5px,#0004ff 36.5px,#0000b7 38.5px,#0007ff 41.5px,#0000f4 42.5px,#0000c4 43.5px,#0000f6 45.5px,#0000b1 47.5px,#0000ce 48.5px,#000bff 52.5px,#0000fc 53.5px,#0000c6 56.5px,#0000d5 59.5px,#0000e9 60.5px,#0000ca 61.5px,#0000e7 63.5px,#0000dc 65.5px,#0000a6 67.5px,#0000b0 68.5px,#0005ff 69.5px,#001dff 70.5px,#0000ff 71.5px,#0000ce 73.5px,#0000e9 74.5px,#001bff 75.5px,#0000f9 76.5px,#0000d3 77.5px,#0000d4 79.5px,#0000ed 81.5px,#0000da 83.5px,#0000f4 86.5px,#0000c0 89.5px,#0000bf 90.5px,#0000f5 92.5px,#0000e2 95.5px)"></i><i style="top:76px;background:linear-gradient(90deg,#7dff82 0.5px,#6dff92 2.5px,#53ffac 3.5px,#20ffdf 4.5px,#00d3ff 5.5px,#0081ff 6.5px,#004aff 7.5px,#002aff 8.5px,#000aff 10.5px,#0018ff 11.5px,#0000fc 13.5px,#0000eb 14.5px,#0001ff 15.5px,#0001ff 17.5px,#0000e4 19.5px,#0000f5 20.5px,#0000cd 21.5px,#0000c3 22.5px,#0000d2 24.5px,#0000f1 25.5px,#0002ff 27.5px,#0000e1 29.5px,#0000fb 31.5px,#0000f5 35.5px,#0001ff 36.5px,#0000b4 38.5px,#0005ff 41.5px,#0000f2 42.5px,#0000c1 43.5px,#0000f4 45.5px,#0000ae 47.5px,#0000cc 48.5px,#0000dc 50.5px,#0009ff 52.5px,#0000fa 53.5px,#0000c4 56.5px,#0000d3 59.5px,#0000e7 60.5px,#0000c8 61.5px,#0000e5 63.5px,#0000da 65.5px,#0000a3 67.5px,#0000ad 68.5px,#0003ff 69.5px,#001bff 70.5px,#0000fd 71.5px,#0000cc 73.5px,#0000e7 74.5px,#0019ff 75.5px,#0000f7 76.5px,#0000d1 77.5px,#0000d2 79.5px,#0000eb 81.5px,#0000d8 83.5px,#0000f2 86.5px,#0000be 89.5px,#0000bc 90.5px,#0000f3 92.5px,#0000e0 95.5px)"></i><i style="top:77px;background:linear-gradient(90deg,#7cff83 0.5px,#6bff94 2.5px,#4fffb0 3.5px,#17ffe8 4.5px,#00c3ff 5.5px,#006cff 6.5px,#0033ff 7.5px,#0014ff 8.5px,#0000f7 10.5px,#0002ff 12.5px,#0000e3 14.5px,#0000fa 15.5px,#0000fc 17.5px,#0000e1 19.5px,#0000f3 20.5px,#0000cc 21.5px,#0000c2 22.5px,#0000d1 24.5px,#0000f0 25.5px,#0001ff 27.5px,#0000e0 29.5px,#0000fb 31.5px,#0000f5 35.5px,#0001ff 36.5px,#0000b4 38.5px,#0005ff 41.5px,#0000f2 42.5px,#0000c1 43.5px,#0000f3 45.5px,#0000ae 47.5px,#0000cc 48.5px,#0000dc 50.5px,#0009ff 52.5px,#0000fa 53.5px,#0000c4 56.5px,#0000d3 59.5px,#0000e7 60.5px,#0000c8 61.5px,#0000e5 63.5px,#0000da 65.5px,#0000a3 67.5px,#0000ad 68.5px,#0003ff 69.5px,#001bff 70.5px,#0000fd 71.5px,#0000cb 73.5px,#0000e7 74.5px,#0019ff 75.5px,#0000f7 76.5px,#0000d1 77.5px,#0000d2 79.5px,#0000eb 81.5px,#0000d8 83.5px,#0000f2 86.5px,#0000be 89.5px,#0000bc 90.5px,#0000f3 92.5px,#0000e0 95.5px)"></i><i style="top:78px;background:linear-gradient(90deg,#7cff83 0.5px,#6aff95 2.5px,#4dffb2 3.5px,#12ffed 4.5px,#00bbff 5.5px,#0061ff 6.5px,#0027ff 7.5px,#0009ff 8.5px,#0000f8 9.5px,#0000ee 10.5px,#0001ff 11.5px,#0000fb 12.5px,#0000df 14.5px,#0000f7 15.5px,#0000fb 17.5px,#0000e1 19.5px,#0000f3 20.5px,#0000cc 21.5px,#0000c2 22.5px,#0000d1 24.5px,#0000f0 25.5px,#0001ff 27.5px,#0000e0 29.5px,#0000fb 31.5px,#0000f5 35.5px,#0001ff 36.5px,#0000b4 38.5px,#0005ff 41.5px,#0000f2 42.5px,#0000c1 43.5px,#0000f4 45.5px,#0000ae 47.5px,#0000cc 48.5px,#0000dc 50.5px,#0009ff 52.5px,#0000fa 53.5px,#0000c4 56.5px,#0000d3 59.5px,#0000e7 60.5px,#0000c8 61.5px,#0000e5 63.5px,#0000da 65.5px,#0000a4 67.5px,#0000ae 68.5px,#0004ff 69.5px,#001bff 70.5px,#0000fd 71.5px,#0000cc 73.5px,#0000e8 74.5px,#001aff 75.5px,#0000f8 76.5px,#0000d2 77.5px,#0000d3 79.5px,#0000eb 81.5px,#0000d8 83.5px,#0000f3 86.5px,#0000be 89.5px,#0000bd 90.5px,#0000f3 92.5px,#0000e0 95.5px)"></i><i style="top:79px;background:linear-gradient(90deg,#7cff83 0.5px,#6aff95 2.5px,#4cffb3 3.5px,#10ffef 4.5px,#00b7ff 5.5px,#005cff 6.5px,#0021ff 7.5px,#0003ff 8.5px,#0000e8 10.5px,#0000fc 11.5px,#0000f8 12.5px,#0000dd 14.5px,#0000f6 15.5px,#0000fb 17.5px,#0000e1 19.5px,#0000f3 20.5px,#0000cc 21.5px,#0000c3 22.5px,#0000d1 24.5px,#0000f1 25.5px,#0002ff 27.5px,#0000e2 29.5px,#0000fd 31.5px,#0003ff 36.5px,#0000b6 38.5px,#0007ff 41.5px,#0000f4 42.5px,#0000c4 43.5px,#0000f6 45.5px,#0000b2 47.5px,#0000cf 48.5px,#0000df 50.5px,#0000f9 51.5px,#000cff 52.5px,#0000fd 53.5px,#0000c7 56.5px,#0000d7 59.5px,#0000ea 60.5px,#0000cc 61.5px,#0000e8 63.5px,#0000de 65.5px,#0000a8 67.5px,#0000b2 68.5px,#0007ff 69.5px,#001eff 70.5px,#0002ff 71.5px,#0000d0 73.5px,#0000eb 74.5px,#001dff 75.5px,#0000fb 76.5px,#0000d5 77.5px,#0000d6 79.5px,#0000ef 81.5px,#0000dc 83.5px,#0000f6 86.5px,#0000c2 89.5px,#0000c1 90.5px,#0000f7 92.5px,#0000e4 95.5px)"></i><i style="top:80px;background:linear-gradient(90deg,#7cff83 0.5px,#6aff95 2.5px,#4bffb4 3.5px,#0ffff0 4.5px,#00b5ff 5.5px,#0059ff 6.5px,#001eff 7.5px,#0000fe 8.5px,#0000e6 10.5px,#0000fa 11.5px,#0000f6 12.5px,#0000dd 14.5px,#0000f7 15.5px,#0000fc 17.5px,#0000e3 19.5px,#0000f6 20.5px,#0000d0 21.5px,#0000c7 22.5px,#0000d6 24.5px,#0000f6 25.5px,#0000fc 26.5px,#0008ff 27.5px,#0000e8 29.5px,#0000fe 30.5px,#0010ff 33.5px,#0000ff 35.5px,#000bff 36.5px,#0000c0 38.5px,#0000f7 40.5px,#0010ff 41.5px,#0000fe 42.5px,#0000ce 43.5px,#0001ff 45.5px,#0000bd 47.5px,#0000da 48.5px,#0004ff 51.5px,#0016ff 52.5px,#0000f7 54.5px,#0000d4 56.5px,#0000e3 59.5px,#0000f6 60.5px,#0000d8 61.5px,#0000f4 63.5px,#0000ea 65.5px,#0000b6 67.5px,#0000bf 68.5px,#0012ff 69.5px,#0029ff 70.5px,#000dff 71.5px,#0000dc 73.5px,#0000f7 74.5px,#0027ff 75.5px,#0008ff 76.5px,#0000e2 77.5px,#0000e3 79.5px,#0000fb 81.5px,#0000e9 83.5px,#0003ff 86.5px,#0000d0 89.5px,#0000ce 90.5px,#0004ff 92.5px,#0000f1 95.5px)"></i><i style="top:81px;background:linear-gradient(90deg,#7cff83 0.5px,#69ff96 2.5px,#4bffb4 3.5px,#0efff1 4.5px,#0058ff 6.5px,#001dff 7.5px,#0000fe 8.5px,#0000e7 10.5px,#0000fc 11.5px,#0000f9 12.5px,#0000e1 14.5px,#0000fb 15.5px,#0004ff 17.5px,#0000ec 19.5px,#0000ff 20.5px,#0000da 21.5px,#0000d3 22.5px,#0000e3 24.5px,#0004ff 25.5px,#0015ff 27.5px,#0000f8 29.5px,#0020ff 33.5px,#0012ff 35.5px,#001dff 36.5px,#0000fa 37.5px,#0000d7 38.5px,#000dff 40.5px,#0023ff 41.5px,#0013ff 42.5px,#0000e6 43.5px,#0000ff 44.5px,#0017ff 45.5px,#0000fa 46.5px,#0000d7 47.5px,#0000f3 48.5px,#0003ff 50.5px,#002cff 52.5px,#0000fa 55.5px,#0000ee 56.5px,#0000fd 59.5px,#000fff 60.5px,#0000f3 61.5px,#000eff 63.5px,#0005ff 65.5px,#0000d3 67.5px,#0000dc 68.5px,#002aff 69.5px,#003fff 70.5px,#0009ff 72.5px,#0000f7 73.5px,#0011ff 74.5px,#003eff 75.5px,#0000fd 77.5px,#0000fe 79.5px,#0015ff 81.5px,#0004ff 83.5px,#001cff 86.5px,#0003ff 88.5px,#0000ec 89.5px,#0000eb 90.5px,#0006ff 91.5px,#001dff 92.5px,#001fff 93.5px,#000bff 94.5px,#000cff 95.5px)"></i><i style="top:82px;background:linear-gradient(90deg,#7cff83 0.5px,#6aff95 2.5px,#4bffb4 3.5px,#0ffff0 4.5px,#005aff 6.5px,#0020ff 7.5px,#0002ff 8.5px,#0000f4 9.5px,#0000ed 10.5px,#0003ff 11.5px,#0002ff 12.5px,#0000ec 14.5px,#0008ff 15.5px,#0012ff 17.5px,#0000fd 19.5px,#0011ff 20.5px,#0000e9 22.5px,#0000fb 24.5px,#001bff 25.5px,#002dff 27.5px,#0014ff 29.5px,#0029ff 30.5px,#003cff 33.5px,#002fff 35.5px,#003aff 36.5px,#0000fb 38.5px,#000dff 39.5px,#0043ff 41.5px,#0034ff 42.5px,#000dff 43.5px,#0038ff 45.5px,#0000ff 47.5px,#001aff 48.5px,#0028ff 50.5px,#004dff 52.5px,#0017ff 56.5px,#0035ff 60.5px,#001dff 61.5px,#0034ff 63.5px,#002cff 65.5px,#0001ff 67.5px,#0009ff 68.5px,#004eff 69.5px,#0060ff 70.5px,#0022ff 73.5px,#0060ff 75.5px,#0027ff 77.5px,#0028ff 79.5px,#003cff 81.5px,#002dff 83.5px,#0042ff 86.5px,#0019ff 89.5px,#0017ff 90.5px,#0043ff 92.5px,#0034ff 95.5px)"></i><i style="top:83px;background:linear-gradient(90deg,#7cff83 0.5px,#6aff95 2.5px,#4cffb3 3.5px,#10ffef 4.5px,#005eff 6.5px,#0026ff 7.5px,#0000fe 9.5px,#0010ff 12.5px,#0000ff 14.5px,#001bff 15.5px,#0027ff 17.5px,#0018ff 19.5px,#002bff 20.5px,#000dff 21.5px,#0009ff 22.5px,#004cff 27.5px,#0038ff 29.5px,#004bff 30.5px,#005eff 33.5px,#0054ff 35.5px,#005eff 36.5px,#0028ff 38.5px,#0068ff 41.5px,#005cff 42.5px,#0039ff 43.5px,#0061ff 45.5px,#0030ff 47.5px,#0075ff 52.5px,#0046ff 56.5px,#0061ff 60.5px,#004cff 61.5px,#0060ff 63.5px,#005aff 65.5px,#0034ff 67.5px,#003bff 68.5px,#0077ff 69.5px,#0087ff 70.5px,#0051ff 73.5px,#0087ff 75.5px,#0056ff 77.5px,#0068ff 81.5px,#005bff 83.5px,#006eff 86.5px,#0049ff 90.5px,#006eff 92.5px,#0062ff 95.5px)"></i><i style="top:84px;background:linear-gradient(90deg,#7cff83 0.5px,#6aff95 2.5px,#4dffb2 3.5px,#12ffed 4.5px,#00bbff 5.5px,#0065ff 6.5px,#0030ff 7.5px,#0017ff 8.5px,#000aff 10.5px,#0022ff 11.5px,#0017ff 14.5px,#0033ff 15.5px,#0041ff 17.5px,#0035ff 19.5px,#0048ff 20.5px,#002eff 21.5px,#002bff 22.5px,#006cff 27.5px,#005bff 29.5px,#007fff 33.5px,#0080ff 36.5px,#0051ff 38.5px,#008aff 41.5px,#007fff 42.5px,#0061ff 43.5px,#0084ff 45.5px,#005aff 47.5px,#0096ff 52.5px,#006eff 56.5px,#0086ff 60.5px,#0073ff 61.5px,#0086ff 63.5px,#0080ff 65.5px,#005fff 67.5px,#0066ff 68.5px,#0099ff 69.5px,#00a8ff 70.5px,#0079ff 73.5px,#00a8ff 75.5px,#007dff 77.5px,#008dff 81.5px,#0082ff 83.5px,#0092ff 86.5px,#0072ff 90.5px,#0093ff 92.5px,#0088ff 95.5px)"></i><i style="top:85px;background:linear-gradient(90deg,#7cff83 0.5px,#6bff94 2.5px,#4effb1 3.5px,#15ffea 4.5px,#00c0ff 5.5px,#006dff 6.5px,#003cff 7.5px,#0026ff 8.5px,#001dff 10.5px,#0035ff 11.5px,#002fff 14.5px,#004aff 15.5px,#0058ff 17.5px,#004fff 19.5px,#0061ff 20.5px,#004aff 21.5px,#0047ff 22.5px,#0083ff 27.5px,#0074ff 29.5px,#0095ff 33.5px,#0096ff 36.5px,#006bff 38.5px,#009fff 41.5px,#0079ff 43.5px,#0099ff 45.5px,#0072ff 47.5px,#00aaff 52.5px,#0085ff 56.5px,#009aff 60.5px,#008aff 61.5px,#009aff 63.5px,#0095ff 65.5px,#0077ff 67.5px,#007dff 68.5px,#00acff 69.5px,#00b9ff 70.5px,#008fff 73.5px,#00b9ff 75.5px,#0092ff 77.5px,#00a5ff 86.5px,#0088ff 90.5px,#00a6ff 92.5px,#009cff 95.5px)"></i><i style="top:86px;background:linear-gradient(90deg,#7cff83 0.5px,#6bff94 2.5px,#50ffaf 3.5px,#18ffe7 4.5px,#00c6ff 5.5px,#0077ff 6.5px,#0048ff 7.5px,#002eff 9.5px,#002eff 10.5px,#0045ff 11.5px,#0042ff 14.5px,#005bff 15.5px,#0068ff 17.5px,#005fff 19.5px,#0070ff 20.5px,#0059ff 21.5px,#0057ff 22.5px,#008eff 27.5px,#007fff 29.5px,#009dff 33.5px,#009dff 36.5px,#0073ff 38.5px,#00a5ff 41.5px,#0080ff 43.5px,#009fff 45.5px,#0079ff 47.5px,#00afff 52.5px,#008aff 56.5px,#009fff 60.5px,#008eff 61.5px,#009fff 63.5px,#0099ff 65.5px,#007cff 67.5px,#0082ff 68.5px,#00b0ff 69.5px,#00bdff 70.5px,#0093ff 73.5px,#00bdff 75.5px,#0097ff 77.5px,#00a9ff 86.5px,#008dff 90.5px,#00aaff 92.5px,#00a0ff 95.5px)"></i><i style="top:87px;background:linear-gradient(90deg,#7cff83 0.5px,#6cff93 2.5px,#51ffae 3.5px,#1bffe4 4.5px,#00cbff 5.5px,#007fff 6.5px,#0052ff 7.5px,#003aff 9.5px,#003aff 10.5px,#0050ff 11.5px,#004bff 14.5px,#0063ff 15.5px,#006fff 17.5px,#0065ff 19.5px,#0074ff 20.5px,#005eff 21.5px,#005aff 22.5px,#008fff 27.5px,#007fff 29.5px,#009cff 33.5px,#009cff 36.5px,#0071ff 38.5px,#00a3ff 41.5px,#007eff 43.5px,#009cff 45.5px,#0076ff 47.5px,#00acff 52.5px,#0087ff 56.5px,#009cff 60.5px,#008bff 61.5px,#009bff 63.5px,#0096ff 65.5px,#0078ff 67.5px,#007eff 68.5px,#00adff 69.5px,#00baff 70.5px,#008fff 73.5px,#00baff 75.5px,#0093ff 77.5px,#00a6ff 86.5px,#0089ff 90.5px,#00a6ff 92.5px,#009cff 95.5px)"></i><i style="top:88px;background:linear-gradient(90deg,#7cff83 0.5px,#6cff93 2.5px,#52ffad 3.5px,#1dffe2 4.5px,#00cfff 5.5px,#0084ff 6.5px,#0058ff 7.5px,#003fff 9.5px,#003eff 10.5px,#0054ff 11.5px,#004cff 14.5px,#0063ff 15.5px,#006fff 17.5px,#0063ff 19.5px,#0073ff 20.5px,#005bff 21.5px,#0058ff 22.5px,#008cff 27.5px,#007bff 29.5px,#0098ff 33.5px,#0098ff 36.5px,#006cff 38.5px,#009fff 41.5px,#0095ff 42.5px,#0079ff 43.5px,#0098ff 45.5px,#0071ff 47.5px,#00a7ff 52.5px,#0082ff 56.5px,#0097ff 60.5px,#0086ff 61.5px,#0097ff 63.5px,#0091ff 65.5px,#0073ff 67.5px,#0079ff 68.5px,#00a9ff 69.5px,#00b6ff 70.5px,#008aff 73.5px,#00b6ff 75.5px,#008eff 77.5px,#00a1ff 86.5px,#0083ff 90.5px,#00a2ff 92.5px,#0098ff 95.5px)"></i><i style="top:89px;background:linear-gradient(90deg,#7dff82 0.5px,#6cff93 2.5px,#52ffad 3.5px,#1effe1 4.5px,#00d0ff 5.5px,#0086ff 6.5px,#005aff 7.5px,#0046ff 8.5px,#003eff 10.5px,#0053ff 11.5px,#004aff 14.5px,#0061ff 15.5px,#006cff 17.5px,#0060ff 19.5px,#006fff 20.5px,#0058ff 21.5px,#0054ff 22.5px,#0088ff 27.5px,#0077ff 29.5px,#0095ff 33.5px,#0094ff 36.5px,#0068ff 38.5px,#009bff 41.5px,#0091ff 42.5px,#0075ff 43.5px,#0094ff 45.5px,#006cff 47.5px,#00a4ff 52.5px,#007eff 56.5px,#0093ff 60.5px,#0082ff 61.5px,#0093ff 63.5px,#008dff 65.5px,#006eff 67.5px,#0074ff 68.5px,#00a5ff 69.5px,#00b3ff 70.5px,#0087ff 73.5px,#00b3ff 75.5px,#008aff 77.5px,#009eff 86.5px,#007fff 90.5px,#009eff 92.5px,#0094ff 95.5px)"></i><i style="top:90px;background:linear-gradient(90deg,#7dff82 0.5px,#6cff93 2.5px,#52ffad 3.5px,#1effe1 4.5px,#00d0ff 5.5px,#0085ff 6.5px,#0059ff 7.5px,#0045ff 8.5px,#003cff 10.5px,#0051ff 11.5px,#0047ff 14.5px,#005eff 15.5px,#0069ff 17.5px,#005dff 19.5px,#006dff 20.5px,#0055ff 21.5px,#0051ff 22.5px,#0086ff 27.5px,#0074ff 29.5px,#0092ff 33.5px,#0092ff 36.5px,#0065ff 38.5px,#0099ff 41.5px,#008fff 42.5px,#0072ff 43.5px,#0092ff 45.5px,#006aff 47.5px,#00a2ff 52.5px,#007bff 56.5px,#0091ff 60.5px,#007fff 61.5px,#0091ff 63.5px,#008bff 65.5px,#006cff 67.5px,#0072ff 68.5px,#00a3ff 69.5px,#00b1ff 70.5px,#0084ff 73.5px,#00b1ff 75.5px,#0088ff 77.5px,#009cff 86.5px,#007dff 90.5px,#009cff 92.5px,#0092ff 95.5px)"></i><i style="top:91px;background:linear-gradient(90deg,#7dff82 0.5px,#6cff93 2.5px,#52ffad 3.5px,#1dffe2 4.5px,#00cfff 5.5px,#0084ff 6.5px,#0057ff 7.5px,#0043ff 8.5px,#003aff 10.5px,#004fff 11.5px,#0045ff 14.5px,#005cff 15.5px,#0067ff 17.5px,#005bff 19.5px,#006bff 20.5px,#0052ff 21.5px,#004fff 22.5px,#0084ff 27.5px,#0072ff 29.5px,#0091ff 33.5px,#0090ff 36.5px,#0063ff 38.5px,#0097ff 41.5px,#008dff 42.5px,#0070ff 43.5px,#0090ff 45.5px,#0068ff 47.5px,#00a0ff 52.5px,#0079ff 56.5px,#008fff 60.5px,#007eff 61.5px,#008fff 63.5px,#0089ff 65.5px,#006aff 67.5px,#0070ff 68.5px,#00a2ff 69.5px,#00afff 70.5px,#0082ff 73.5px,#00afff 75.5px,#0086ff 77.5px,#009aff 86.5px,#007bff 90.5px,#009bff 92.5px,#0090ff 95.5px)"></i><i style="top:92px;background:linear-gradient(90deg,#7cff83 0.5px,#6cff93 2.5px,#52ffad 3.5px,#1dffe2 4.5px,#00cfff 5.5px,#0083ff 6.5px,#0056ff 7.5px,#0042ff 8.5px,#0038ff 10.5px,#004dff 11.5px,#0044ff 14.5px,#005bff 15.5px,#0066ff 17.5px,#005aff 19.5px,#0069ff 20.5px,#0051ff 21.5px,#004dff 22.5px,#0083ff 27.5px,#0071ff 29.5px,#0090ff 33.5px,#008fff 36.5px,#0062ff 38.5px,#0096ff 41.5px,#008cff 42.5px,#006fff 43.5px,#008fff 45.5px,#0066ff 47.5px,#009fff 52.5px,#0078ff 56.5px,#008eff 60.5px,#007cff 61.5px,#008eff 63.5px,#0088ff 65.5px,#0068ff 67.5px,#006fff 68.5px,#00a1ff 69.5px,#00aeff 70.5px,#0081ff 73.5px,#00aeff 75.5px,#0085ff 77.5px,#0099ff 86.5px,#007aff 90.5px,#0099ff 92.5px,#008fff 95.5px)"></i><i style="top:93px;background:linear-gradient(90deg,#7cff83 0.5px,#6cff93 2.5px,#52ffad 3.5px,#1dffe2 4.5px,#00ceff 5.5px,#0082ff 6.5px,#0055ff 7.5px,#0041ff 8.5px,#0037ff 10.5px,#004cff 11.5px,#0043ff 14.5px,#005aff 15.5px,#0065ff 17.5px,#0059ff 19.5px,#0069ff 20.5px,#0050ff 21.5px,#004cff 22.5px,#0082ff 27.5px,#0070ff 29.5px,#008fff 33.5px,#008eff 36.5px,#0061ff 38.5px,#0095ff 41.5px,#008bff 42.5px,#006eff 43.5px,#008eff 45.5px,#0066ff 47.5px,#009fff 52.5px,#0077ff 56.5px,#008dff 60.5px,#007cff 61.5px,#008dff 63.5px,#0087ff 65.5px,#0068ff 67.5px,#006eff 68.5px,#00a0ff 69.5px,#00aeff 70.5px,#0080ff 73.5px,#00adff 75.5px,#0084ff 77.5px,#0098ff 86.5px,#0079ff 90.5px,#0099ff 92.5px,#008eff 95.5px)"></i><i style="top:94px;background:linear-gradient(90deg,#7cff83 0.5px,#6cff93 2.5px,#52ffad 3.5px,#1dffe2 4.5px,#00ceff 5.5px,#0082ff 6.5px,#0054ff 7.5px,#0040ff 8.5px,#0037ff 10.5px,#004cff 11.5px,#0042ff 14.5px,#005aff 15.5px,#0064ff 17.5px,#0058ff 19.5px,#0068ff 20.5px,#0050ff 21.5px,#004cff 22.5px,#0081ff 27.5px,#0070ff 29.5px,#008eff 33.5px,#008eff 36.5px,#0060ff 38.5px,#0095ff 41.5px,#008bff 42.5px,#006dff 43.5px,#008eff 45.5px,#0065ff 47.5px,#009eff 52.5px,#0077ff 56.5px,#008dff 60.5px,#007bff 61.5px,#008dff 63.5px,#0087ff 65.5px,#0067ff 67.5px,#006dff 68.5px,#009fff 69.5px,#00adff 70.5px,#0080ff 73.5px,#00adff 75.5px,#0084ff 77.5px,#0098ff 86.5px,#0078ff 90.5px,#0098ff 92.5px,#008eff 95.5px)"></i><i style="top:95px;background:linear-gradient(90deg,#7cff83 0.5px,#6cff93 2.5px,#51ffae 3.5px,#1cffe3 4.5px,#00cdff 5.5px,#0081ff 6.5px,#0054ff 7.5px,#0040ff 8.5px,#0036ff 10.5px,#004bff 11.5px,#0042ff 14.5px,#0059ff 15.5px,#0064ff 17.5px,#0058ff 19.5px,#0068ff 20.5px,#004fff 21.5px,#004bff 22.5px,#0081ff 27.5px,#0070ff 29.5px,#008eff 33.5px,#008eff 36.5px,#0060ff 38.5px,#0095ff 41.5px,#008aff 42.5px,#006dff 43.5px,#008eff 45.5px,#0065ff 47.5px,#009eff 52.5px,#0076ff 56.5px,#008dff 60.5px,#007bff 61.5px,#008cff 63.5px,#0086ff 65.5px,#0067ff 67.5px,#006dff 68.5px,#009fff 69.5px,#00adff 70.5px,#007fff 73.5px,#00adff 75.5px,#0083ff 77.5px,#0097ff 86.5px,#0078ff 90.5px,#0098ff 92.5px,#008dff 95.5px)"></i><i style="top:96px;background:linear-gradient(90deg,#7cff83 0.5px,#6cff93 2.5px,#51ffae 3.5px,#1cffe3 4.5px,#00cdff 5.5px,#0081ff 6.5px,#0054ff 7.5px,#003fff 8.5px,#0036ff 10.5px,#004bff 11.5px,#0042ff 14.5px,#0059ff 15.5px,#0064ff 17.5px,#0058ff 19.5px,#0067ff 20.5px,#004fff 21.5px,#004bff 22.5px,#0081ff 27.5px,#006fff 29.5px,#008eff 33.5px,#008dff 36.5px,#0060ff 38.5px,#0094ff 41.5px,#008aff 42.5px,#006dff 43.5px,#008dff 45.5px,#0064ff 47.5px,#009eff 52.5px,#0076ff 56.5px,#008cff 60.5px,#007bff 61.5px,#008cff 63.5px,#0086ff 65.5px,#0066ff 67.5px,#006dff 68.5px,#009fff 69.5px,#00adff 70.5px,#007fff 73.5px,#00adff 75.5px,#0083ff 77.5px,#0097ff 86.5px,#0078ff 90.5px,#0098ff 92.5px,#008dff 95.5px)"></i></div><div class="hm" style="left:386px;top:14px;width:96px;height:97px;filter:blur(0.45px)"><i style="top:0px;background:linear-gradient(90deg,#80ff7f 0.5px,#80ff7f 95.5px)"></i><i style="top:1px;background:linear-gradient(90deg,#80ff7f 0.5px,#80ff7f 95.5px)"></i><i style="top:2px;background:linear-gradient(90deg,#80ff7f 0.5px,#80ff7f 95.5px)"></i><i style="top:3px;background:linear-gradient(90deg,#80ff7f 0.5px,#80ff7f 95.5px)"></i><i style="top:4px;background:linear-gradient(90deg,#80ff7f 0.5px,#80ff7f 95.5px)"></i><i style="top:5px;background:linear-gradient(90deg,#80ff7f 0.5px,#80ff7f 95.5px)"></i><i style="top:6px;background:linear-gradient(90deg,#80ff7f 0.5px,#80ff7f 95.5px)"></i><i style="top:7px;background:linear-gradient(90deg,#80ff7f 0.5px,#80ff7f 95.5px)"></i><i style="top:8px;background:linear-gradient(90deg,#80ff7f 0.5px,#81ff7e 95.5px)"></i><i style="top:9px;background:linear-gradient(90deg,#80ff7f 0.5px,#81ff7e 95.5px)"></i><i style="top:10px;background:linear-gradient(90deg,#80ff7f 0.5px,#82ff7d 95.5px)"></i><i style="top:11px;background:linear-gradient(90deg,#80ff7f 0.5px,#82ff7d 95.5px)"></i><i style="top:12px;background:linear-gradient(90deg,#80ff7f 0.5px,#83ff7c 95.5px)"></i><i style="top:13px;background:linear-gradient(90deg,#80ff7f 0.5px,#89ff76 7.5px,#84ff7b 95.5px)"></i><i style="top:14px;background:linear-gradient(90deg,#80ff7f 0.5px,#8cff73 8.5px,#86ff79 95.5px)"></i><i style="top:15px;background:linear-gradient(90deg,#80ff7f 0.5px,#8fff70 8.5px,#88ff77 95.5px)"></i><i style="top:16px;background:linear-gradient(90deg,#80ff7f 0.5px,#93ff6c 8.5px,#8aff75 95.5px)"></i><i style="top:17px;background:linear-gradient(90deg,#80ff7f 0.5px,#99ff66 11.5px,#8dff72 95.5px)"></i><i style="top:18px;background:linear-gradient(90deg,#80ff7f 0.5px,#9bff64 6.5px,#9fff60 11.5px,#92ff6d 28.5px,#91ff6e 95.5px)"></i><i style="top:19px;background:linear-gradient(90deg,#80ff7f 0.5px,#87ff78 3.5px,#a1ff5e 6.5px,#a6ff59 11.5px,#96ff69 28.5px,#95ff6a 95.5px)"></i><i style="top:20px;background:linear-gradient(90deg,#80ff7f 0.5px,#89ff76 3.5px,#a7ff58 6.5px,#aeff51 11.5px,#9bff64 28.5px,#9aff65 95.5px)"></i><i style="top:21px;background:linear-gradient(90deg,#80ff7f 0.5px,#8aff75 3.5px,#aeff51 6.5px,#b6ff49 11.5px,#a1ff5e 28.5px,#a0ff5f 95.5px)"></i><i style="top:22px;background:linear-gradient(90deg,#80ff7f 0.5px,#8cff73 3.5px,#b5ff4a 6.5px,#bfff40 11.5px,#a8ff57 28.5px,#a7ff58 95.5px)"></i><i style="top:23px;background:linear-gradient(90deg,#80ff7f 0.5px,#8eff71 3.5px,#bcff43 6.5px,#c8ff37 11.5px,#afff50 28.5px,#b8ff47 31.5px,#aeff51 32.5px,#b6ff49 44.5px,#a9ff56 59.5px,#afff50 95.5px)"></i><i style="top:24px;background:linear-gradient(90deg,#81ff7e 0.5px,#8fff70 3.5px,#caff35 7.5px,#d2ff2d 11.5px,#b6ff49 28.5px,#c1ff3e 31.5px,#b5ff4a 32.5px,#bfff40 44.5px,#b0ff4f 59.5px,#b7ff48 95.5px)"></i><i style="top:25px;background:linear-gradient(90deg,#81ff7e 0.5px,#91ff6e 3.5px,#d2ff2d 7.5px,#dbff24 11.5px,#bdff42 28.5px,#c9ff36 31.5px,#bdff42 32.5px,#c9ff36 35.5px,#bdff42 42.5px,#c8ff37 44.5px,#b7ff48 59.5px,#bfff40 95.5px)"></i><i style="top:26px;background:linear-gradient(90deg,#81ff7e 0.5px,#92ff6d 3.5px,#daff25 7.5px,#e4ff1b 11.5px,#c4ff3b 28.5px,#d2ff2d 31.5px,#c4ff3b 32.5px,#d2ff2d 35.5px,#c4ff3b 42.5px,#d1ff2e 44.5px,#c4ff3b 48.5px,#ccff33 55.5px,#beff41 59.5px,#c8ff37 95.5px)"></i><i style="top:27px;background:linear-gradient(90deg,#81ff7e 0.5px,#94ff6b 3.5px,#d8ff27 6.5px,#e2ff1d 7.5px,#eeff11 11.5px,#e0ff1f 13.5px,#cbff34 28.5px,#daff25 31.5px,#cbff34 32.5px,#dbff24 35.5px,#cbff34 42.5px,#daff25 44.5px,#ccff33 48.5px,#d5ff2a 55.5px,#c5ff3a 59.5px,#d1ff2e 69.5px,#cfff30 75.5px,#c3ff3c 76.5px,#d4ff2b 83.5px,#c8ff37 85.5px,#d5ff2a 87.5px,#d0ff2f 95.5px)"></i><i style="top:28px;background:linear-gradient(90deg,#81ff7e 0.5px,#96ff69 3.5px,#dfff20 6.5px,#eaff15 7.5px,#f7ff08 11.5px,#e8ff17 13.5px,#d1ff2e 28.5px,#e2ff1d 31.5px,#d1ff2e 32.5px,#e3ff1c 35.5px,#d2ff2d 42.5px,#e2ff1d 44.5px,#d3ff2c 48.5px,#ddff22 55.5px,#ccff33 59.5px,#d9ff26 69.5px,#d7ff28 75.5px,#caff35 76.5px,#ddff22 83.5px,#d0ff2f 85.5px,#ddff22 87.5px,#d7ff28 95.5px)"></i><i style="top:29px;background:linear-gradient(90deg,#81ff7e 0.5px,#98ff67 3.5px,#e7ff18 6.5px,#f3ff0c 7.5px,#fffd00 11.5px,#f1ff0e 13.5px,#d8ff27 28.5px,#eaff15 31.5px,#d8ff27 32.5px,#ebff14 35.5px,#dcff23 37.5px,#d9ff26 42.5px,#eaff15 44.5px,#daff25 48.5px,#e5ff1a 55.5px,#d2ff2d 59.5px,#ddff22 62.5px,#d4ff2b 67.5px,#e1ff1e 69.5px,#dfff20 75.5px,#d0ff2f 76.5px,#e4ff1b 83.5px,#d6ff29 85.5px,#e5ff1a 87.5px,#dfff20 95.5px)"></i><i style="top:30px;background:linear-gradient(90deg,#81ff7e 0.5px,#9aff65 3.5px,#f0ff0f 6.5px,#fffd00 8.5px,#fff200 11.5px,#fbff04 17.5px,#deff21 28.5px,#f1ff0e 31.5px,#deff21 32.5px,#f2ff0d 35.5px,#e3ff1c 37.5px,#e0ff1f 42.5px,#f2ff0d 44.5px,#e0ff1f 48.5px,#ecff13 55.5px,#d8ff27 59.5px,#e4ff1b 62.5px,#dbff24 67.5px,#e8ff17 69.5px,#e6ff19 75.5px,#d6ff29 76.5px,#ecff13 83.5px,#ddff22 85.5px,#edff12 87.5px,#e9ff16 93.5px,#deff21 94.5px,#e6ff19 95.5px)"></i><i style="top:31px;background:linear-gradient(90deg,#81ff7e 0.5px,#9cff63 3.5px,#faff05 6.5px,#fff600 7.5px,#ffe700 11.5px,#fffe00 15.5px,#e4ff1b 28.5px,#f9ff06 31.5px,#e4ff1b 32.5px,#faff05 35.5px,#e9ff16 37.5px,#e6ff19 42.5px,#f9ff06 44.5px,#e7ff18 48.5px,#f3ff0c 55.5px,#deff21 59.5px,#ebff14 62.5px,#e1ff1e 67.5px,#efff10 69.5px,#edff12 75.5px,#dcff23 76.5px,#f3ff0c 83.5px,#e3ff1c 85.5px,#f4ff0b 87.5px,#f0ff0f 93.5px,#e4ff1b 94.5px,#edff12 95.5px)"></i><i style="top:32px;background:linear-gradient(90deg,#82ff7d 0.5px,#9eff61 3.5px,#fffa00 6.5px,#ffeb00 7.5px,#ffda00 11.5px,#fff000 13.5px,#fff100 17.5px,#feff01 19.5px,#eaff15 28.5px,#fffe00 31.5px,#eaff15 32.5px,#fffd00 35.5px,#f0ff0f 37.5px,#f7ff08 39.5px,#ecff13 42.5px,#ffff00 43.5px,#edff12 48.5px,#fbff04 55.5px,#e4ff1b 59.5px,#f2ff0d 62.5px,#e4ff1b 64.5px,#f6ff09 69.5px,#f3ff0c 75.5px,#e2ff1d 76.5px,#fbff04 83.5px,#e9ff16 85.5px,#fcff03 87.5px,#f1ff0e 88.5px,#f7ff08 93.5px,#eaff15 94.5px,#f4ff0b 95.5px)"></i><i style="top:33px;background:linear-gradient(90deg,#82ff7d 0.5px,#a1ff5e 3.5px,#edff12 5.5px,#ffee00 6.5px,#ffdd00 7.5px,#ffcd00 11.5px,#ffe500 13.5px,#ffe700 17.5px,#fffe00 20.5px,#f0ff0f 28.5px,#fff600 31.5px,#f0ff0f 32.5px,#fffb00 34.5px,#f3ff0c 42.5px,#fff800 43.5px,#f4ff0b 48.5px,#fffc00 55.5px,#eaff15 59.5px,#f9ff06 62.5px,#eaff15 64.5px,#edff12 67.5px,#fdff02 69.5px,#faff05 75.5px,#e8ff17 76.5px,#f8ff07 78.5px,#eaff15 79.5px,#fffd00 82.5px,#f0ff0f 85.5px,#fffd00 86.5px,#feff01 93.5px,#f1ff0e 94.5px,#fbff04 95.5px)"></i><i style="top:34px;background:linear-gradient(90deg,#82ff7d 0.5px,#8fff70 2.5px,#a4ff5b 3.5px,#f7ff08 5.5px,#ffe100 6.5px,#ffcf00 7.5px,#ffbd00 11.5px,#ffd800 13.5px,#ffff00 26.5px,#fffe00 29.5px,#ffee00 31.5px,#ffff00 33.5px,#ffed00 35.5px,#fdff02 37.5px,#f9ff06 42.5px,#ffed00 44.5px,#faff05 48.5px,#fffb00 57.5px,#f0ff0f 59.5px,#fffe00 62.5px,#f0ff0f 64.5px,#fffd00 68.5px,#fffc00 75.5px,#eeff11 76.5px,#ffff00 78.5px,#f0ff0f 79.5px,#fffe00 81.5px,#fff300 87.5px,#ffff00 88.5px,#fffc00 95.5px)"></i><i style="top:35px;background:linear-gradient(90deg,#82ff7d 0.5px,#91ff6e 2.5px,#a7ff58 3.5px,#fffd00 5.5px,#ffd400 6.5px,#ffc000 7.5px,#ffad00 11.5px,#ffcb00 13.5px,#ffd100 17.5px,#ffec00 20.5px,#ffff00 27.5px,#ffe600 31.5px,#feff01 32.5px,#ffe500 35.5px,#fff900 37.5px,#fff000 39.5px,#fffe00 42.5px,#ffe800 43.5px,#ffe500 44.5px,#fffc00 48.5px,#ffef00 50.5px,#fffb00 52.5px,#ffed00 55.5px,#f7ff08 59.5px,#faff05 67.5px,#fff200 69.5px,#fff500 75.5px,#f4ff0b 76.5px,#ffff00 80.5px,#ffec00 83.5px,#fdff02 85.5px,#ffeb00 87.5px,#fff700 88.5px,#fff100 93.5px,#feff01 94.5px,#fff400 95.5px)"></i><i style="top:36px;background:linear-gradient(90deg,#82ff7d 0.5px,#92ff6d 2.5px,#abff54 3.5px,#fff200 5.5px,#ffc500 6.5px,#ffaf00 7.5px,#ff9b00 11.5px,#ffbc00 13.5px,#fff800 27.5px,#ffdd00 31.5px,#fff900 32.5px,#ffdc00 35.5px,#fff200 37.5px,#ffe800 39.5px,#fff600 42.5px,#ffdf00 43.5px,#ffdc00 44.5px,#fff500 48.5px,#ffe600 50.5px,#fff300 52.5px,#ffe400 55.5px,#feff01 59.5px,#ffef00 62.5px,#feff01 64.5px,#fffd00 67.5px,#ffea00 69.5px,#ffed00 75.5px,#fbff04 76.5px,#fff000 78.5px,#feff01 79.5px,#ffe400 83.5px,#fff900 85.5px,#ffe500 86.5px,#ffe300 87.5px,#fff000 88.5px,#ffe800 93.5px,#fff800 94.5px,#ffec00 95.5px)"></i><i style="top:37px;background:linear-gradient(90deg,#83ff7c 0.5px,#94ff6b 2.5px,#aeff51 3.5px,#ddff22 4.5px,#ffe700 5.5px,#ffb600 6.5px,#ff9f00 7.5px,#ff8900 11.5px,#ffad00 13.5px,#ffb800 17.5px,#ffd900 20.5px,#fff000 27.5px,#ffd400 31.5px,#fff100 32.5px,#ffd300 35.5px,#ffea00 37.5px,#ffe000 39.5px,#ffee00 42.5px,#ffd600 43.5px,#ffd300 44.5px,#ffed00 48.5px,#ffde00 50.5px,#ffeb00 52.5px,#ffdb00 55.5px,#fff900 59.5px,#ffe700 62.5px,#fff900 64.5px,#fff500 67.5px,#ffe100 69.5px,#ffe500 75.5px,#fffc00 76.5px,#ffe800 78.5px,#fff900 79.5px,#ffdb00 83.5px,#fff200 85.5px,#ffdc00 86.5px,#ffda00 87.5px,#ffe700 88.5px,#ffe000 93.5px,#fff100 94.5px,#ffe400 95.5px)"></i><i style="top:38px;background:linear-gradient(90deg,#83ff7c 0.5px,#95ff6a 2.5px,#b1ff4e 3.5px,#e3ff1c 4.5px,#ffdb00 5.5px,#ffa700 6.5px,#ff8e00 7.5px,#ff7700 11.5px,#ff9e00 13.5px,#ffab00 17.5px,#ffd000 20.5px,#ffce00 22.5px,#ffe800 27.5px,#ffca00 31.5px,#ffe900 32.5px,#ffc900 35.5px,#ffe100 37.5px,#ffd700 39.5px,#ffe600 42.5px,#ffcc00 43.5px,#ffc900 44.5px,#ffe500 48.5px,#ffd500 50.5px,#ffe300 52.5px,#ffd200 55.5px,#fff100 59.5px,#ffde00 62.5px,#fff200 64.5px,#ffe700 65.5px,#ffee00 67.5px,#ffd800 69.5px,#ffe500 74.5px,#ffdc00 75.5px,#fff400 76.5px,#ffdf00 78.5px,#fff200 79.5px,#ffd200 83.5px,#ffea00 85.5px,#ffd300 86.5px,#ffd100 87.5px,#ffdf00 88.5px,#ffd700 93.5px,#ffe900 94.5px,#ffdb00 95.5px)"></i><i style="top:39px;background:linear-gradient(90deg,#83ff7c 0.5px,#97ff68 2.5px,#b5ff4a 3.5px,#eaff15 4.5px,#ffd000 5.5px,#ff9800 6.5px,#ff7d00 7.5px,#ff6500 11.5px,#ff8f00 13.5px,#ff9e00 17.5px,#ffc600 20.5px,#ffc400 22.5px,#ffe000 27.5px,#ffc100 31.5px,#ffe100 32.5px,#ffbf00 35.5px,#ffd900 37.5px,#ffce00 39.5px,#ffde00 42.5px,#ffc300 43.5px,#ffbf00 44.5px,#ffd000 45.5px,#ffdd00 48.5px,#ffcb00 50.5px,#ffda00 52.5px,#ffc900 55.5px,#ffd800 58.5px,#ffea00 59.5px,#ffd600 62.5px,#ffea00 64.5px,#ffdf00 65.5px,#ffe600 67.5px,#ffcf00 69.5px,#ffdc00 74.5px,#ffd300 75.5px,#ffed00 76.5px,#ffd700 78.5px,#ffea00 79.5px,#ffc800 83.5px,#ffe200 85.5px,#ffc900 86.5px,#ffc700 87.5px,#ffd600 88.5px,#ffce00 93.5px,#ffe000 94.5px,#ffd200 95.5px)"></i><i style="top:40px;background:linear-gradient(90deg,#83ff7c 0.5px,#98ff67 2.5px,#b8ff47 3.5px,#f0ff0f 4.5px,#ffc600 5.5px,#ff8b00 6.5px,#ff6e00 7.5px,#ff5300 11.5px,#ff8100 13.5px,#ff9100 17.5px,#ffa900 18.5px,#ffbc00 20.5px,#ffba00 22.5px,#ffd900 27.5px,#ffd900 28.5px,#ffb700 31.5px,#ffda00 32.5px,#ffb600 35.5px,#ffd100 37.5px,#ffc500 39.5px,#ffd600 42.5px,#ffb900 43.5px,#ffb500 44.5px,#ffc700 45.5px,#ffd400 48.5px,#ffc200 50.5px,#ffd200 52.5px,#ffbf00 55.5px,#ffcf00 58.5px,#ffe200 59.5px,#ffcd00 62.5px,#ffe200 64.5px,#ffd700 65.5px,#ffde00 67.5px,#ffc600 69.5px,#ffd400 74.5px,#ffca00 75.5px,#ffe500 76.5px,#ffce00 78.5px,#ffe200 79.5px,#ffbf00 83.5px,#ffd900 85.5px,#ffc000 86.5px,#ffbd00 87.5px,#ffcd00 88.5px,#ffc400 93.5px,#ffd800 94.5px,#ffc900 95.5px)"></i><i style="top:41px;background:linear-gradient(90deg,#84ff7b 0.5px,#99ff66 2.5px,#bbff44 3.5px,#f6ff09 4.5px,#ff7e00 6.5px,#ff6000 7.5px,#ff4300 11.5px,#ff7300 13.5px,#ff8500 17.5px,#ff9e00 18.5px,#ffb300 20.5px,#ffb100 22.5px,#ffd100 27.5px,#ffd200 28.5px,#ffae00 31.5px,#ffd200 32.5px,#ffac00 35.5px,#ffc800 37.5px,#ffbc00 39.5px,#ffce00 42.5px,#ffaf00 43.5px,#ffac00 44.5px,#ffbe00 45.5px,#ffcc00 48.5px,#ffb900 50.5px,#ffc900 52.5px,#ffb600 55.5px,#ffc700 58.5px,#ffda00 59.5px,#ffc400 62.5px,#ffda00 64.5px,#ffce00 65.5px,#ffd600 67.5px,#ffbd00 69.5px,#ffcb00 74.5px,#ffc100 75.5px,#ffde00 76.5px,#ffc500 78.5px,#ffda00 79.5px,#ffb500 83.5px,#ffd100 85.5px,#ffb600 86.5px,#ffb400 87.5px,#ffc400 88.5px,#ffbb00 93.5px,#ffd000 94.5px,#ffc000 95.5px)"></i><i style="top:42px;background:linear-gradient(90deg,#84ff7b 0.5px,#9aff65 2.5px,#bdff42 3.5px,#fbff04 4.5px,#ff7300 6.5px,#ff5300 7.5px,#ff3400 11.5px,#ff6600 13.5px,#ff7a00 17.5px,#ff9400 18.5px,#ffaa00 20.5px,#ffb600 25.5px,#ffca00 27.5px,#ffca00 28.5px,#ffa500 31.5px,#ffca00 32.5px,#ffa300 35.5px,#ffc000 37.5px,#ffb300 39.5px,#ffc600 42.5px,#ffa600 43.5px,#ffa200 44.5px,#ffb600 45.5px,#ffc400 48.5px,#ffb000 50.5px,#ffc100 52.5px,#ffad00 55.5px,#ffbc00 56.5px,#ffbe00 58.5px,#ffd300 59.5px,#ffbc00 62.5px,#ffd300 64.5px,#ffc600 65.5px,#ffce00 67.5px,#ffb400 69.5px,#ffc300 74.5px,#ffb800 75.5px,#ffd600 76.5px,#ffbd00 78.5px,#ffd300 79.5px,#ffac00 83.5px,#ffc900 85.5px,#ffad00 86.5px,#ffaa00 87.5px,#ffbc00 88.5px,#ffb200 93.5px,#ffc800 94.5px,#ffb700 95.5px)"></i><i style="top:43px;background:linear-gradient(90deg,#84ff7b 0.5px,#9bff64 2.5px,#bfff40 3.5px,#ffff00 4.5px,#ff6900 6.5px,#ff4800 7.5px,#ff2700 11.5px,#ff5b00 13.5px,#ff7000 17.5px,#ff8b00 18.5px,#ffa200 20.5px,#ffaf00 25.5px,#ffc300 27.5px,#ffc400 28.5px,#ff9d00 31.5px,#ffc300 32.5px,#ff9b00 35.5px,#ffb900 37.5px,#ffab00 39.5px,#ffbf00 42.5px,#ff9d00 43.5px,#ff9900 44.5px,#ffae00 45.5px,#ffbc00 48.5px,#ffa700 50.5px,#ffba00 52.5px,#ffa400 55.5px,#ffb400 56.5px,#ffb600 58.5px,#ffcc00 59.5px,#ffb300 62.5px,#ffcc00 64.5px,#ffbf00 65.5px,#ffc700 67.5px,#ffab00 69.5px,#ffbb00 74.5px,#ffb000 75.5px,#ffcf00 76.5px,#ffb500 78.5px,#ffcc00 79.5px,#ffa300 83.5px,#ffc200 85.5px,#ffa400 86.5px,#ffa200 87.5px,#ffb400 88.5px,#ffa900 93.5px,#ffc000 94.5px,#ffaf00 95.5px)"></i><i style="top:44px;background:linear-gradient(90deg,#84ff7b 0.5px,#9cff63 2.5px,#c1ff3e 3.5px,#fffb00 4.5px,#ff6100 6.5px,#ff3e00 7.5px,#ff1b00 11.5px,#ff5100 13.5px,#ff6600 17.5px,#ff8200 18.5px,#ff9a00 20.5px,#ffa800 25.5px,#ffbd00 27.5px,#ffbe00 28.5px,#ff9500 31.5px,#ffbd00 32.5px,#ff9300 35.5px,#ffb200 37.5px,#ffa400 39.5px,#ffb800 42.5px,#ff9600 43.5px,#ff9100 44.5px,#ffa600 45.5px,#ffb500 48.5px,#ffa000 50.5px,#ffb200 52.5px,#ff9c00 55.5px,#ffac00 56.5px,#ffaf00 58.5px,#ffc500 59.5px,#ffac00 62.5px,#ffc500 64.5px,#ffb800 65.5px,#ffc000 67.5px,#ffa400 69.5px,#ffb400 74.5px,#ffa900 75.5px,#ffc900 76.5px,#ffad00 78.5px,#ffc500 79.5px,#ff9b00 83.5px,#ffbb00 85.5px,#ff9c00 86.5px,#ff9900 87.5px,#ffac00 88.5px,#ffa200 93.5px,#ffb900 94.5px,#ffa700 95.5px)"></i><i style="top:45px;background:linear-gradient(90deg,#84ff7b 0.5px,#9dff62 2.5px,#c3ff3c 3.5px,#fff800 4.5px,#ff5a00 6.5px,#ff3600 7.5px,#ff1100 11.5px,#ff4700 13.5px,#ff5d00 17.5px,#ff7b00 18.5px,#ff9300 20.5px,#ffa200 25.5px,#ffb700 27.5px,#ffb800 28.5px,#ff8e00 31.5px,#ffb700 32.5px,#ff8c00 35.5px,#ffac00 37.5px,#ff9d00 39.5px,#ffb200 42.5px,#ff8e00 43.5px,#ff8a00 44.5px,#ff9f00 45.5px,#ffaf00 48.5px,#ff9900 50.5px,#ffac00 52.5px,#ff9500 55.5px,#ffa600 56.5px,#ffa800 58.5px,#ffbf00 59.5px,#ffa500 62.5px,#ffbf00 64.5px,#ffb100 65.5px,#ffba00 67.5px,#ffa200 68.5px,#ff9d00 69.5px,#ffad00 74.5px,#ffa200 75.5px,#ffc300 76.5px,#ffa600 78.5px,#ffbf00 79.5px,#ff9400 83.5px,#ffb400 85.5px,#ff9500 86.5px,#ff9200 87.5px,#ffa500 88.5px,#ff9a00 93.5px,#ffb300 94.5px,#ffa000 95.5px)"></i><i style="top:46px;background:linear-gradient(90deg,#84ff7b 0.5px,#9dff62 2.5px,#c4ff3b 3.5px,#fff500 4.5px,#ff5400 6.5px,#ff2f00 7.5px,#ff0800 11.5px,#ff3f00 13.5px,#ff5500 17.5px,#ff7300 18.5px,#ff8d00 20.5px,#ff9c00 25.5px,#ffb200 27.5px,#ffb300 28.5px,#ff8800 31.5px,#ffb200 32.5px,#ff8500 35.5px,#ffa600 37.5px,#ff9700 39.5px,#ffac00 42.5px,#ff8800 43.5px,#ff8300 44.5px,#ff9900 45.5px,#ffa900 48.5px,#ff9200 50.5px,#ffa600 52.5px,#ff8e00 55.5px,#ffa000 56.5px,#ffa300 58.5px,#ffba00 59.5px,#ff9f00 62.5px,#ffba00 64.5px,#ffab00 65.5px,#ffb400 67.5px,#ff9c00 68.5px,#ff9600 69.5px,#ffa700 74.5px,#ff9b00 75.5px,#ffbe00 76.5px,#ffa000 78.5px,#ffba00 79.5px,#ff8d00 83.5px,#ffaf00 85.5px,#ff8e00 86.5px,#ff8b00 87.5px,#ff9f00 88.5px,#ff9400 93.5px,#ffad00 94.5px,#ff9a00 95.5px)"></i><i style="top:47px;background:linear-gradient(90deg,#84ff7b 0.5px,#9eff61 2.5px,#c5ff3a 3.5px,#fff300 4.5px,#ff4f00 6.5px,#ff2900 7.5px,#ff0000 11.5px,#ff3700 13.5px,#ff4d00 17.5px,#ff6d00 18.5px,#ff8700 20.5px,#ff9700 25.5px,#ffae00 27.5px,#ffaf00 28.5px,#ff8300 31.5px,#ffae00 32.5px,#ff8000 35.5px,#ffa200 37.5px,#ff9200 39.5px,#ffa700 42.5px,#ff8200 43.5px,#ff7e00 44.5px,#ff9400 45.5px,#ffa400 48.5px,#ff8d00 50.5px,#ffa100 52.5px,#ff8900 55.5px,#ff9a00 56.5px,#ff9d00 58.5px,#ffb500 59.5px,#ff9a00 62.5px,#ffb500 64.5px,#ffa600 65.5px,#ffaf00 67.5px,#ff9600 68.5px,#ff9100 69.5px,#ffa200 74.5px,#ff9600 75.5px,#ffb900 76.5px,#ff9b00 78.5px,#ffb500 79.5px,#ff8700 83.5px,#ffaa00 85.5px,#ff8800 86.5px,#ff8500 87.5px,#ff9a00 88.5px,#ff8e00 93.5px,#ffa800 94.5px,#ff9400 95.5px)"></i><i style="top:48px;background:linear-gradient(90deg,#84ff7b 0.5px,#9eff61 2.5px,#fff100 4.5px,#ff4a00 6.5px,#ff2400 7.5px,#f80000 11.5px,#ff3000 13.5px,#ff4600 17.5px,#ff6600 18.5px,#ff8200 20.5px,#ff9300 25.5px,#ffaa00 27.5px,#ffab00 28.5px,#ff7e00 31.5px,#ffaa00 32.5px,#ff7b00 35.5px,#ff9d00 37.5px,#ff8e00 39.5px,#ffa300 42.5px,#ff7d00 43.5px,#ff7900 44.5px,#ff8f00 45.5px,#ffa000 48.5px,#ff8800 50.5px,#ff9d00 52.5px,#ff8400 55.5px,#ff9600 56.5px,#ff9900 58.5px,#ffb100 59.5px,#ff9500 62.5px,#ffb100 64.5px,#ffa200 65.5px,#ffab00 67.5px,#ff9200 68.5px,#ff8c00 69.5px,#ff9e00 74.5px,#ff9100 75.5px,#ffb500 76.5px,#ff9600 78.5px,#ffb100 79.5px,#ff8400 82.5px,#ff8200 83.5px,#ffa500 85.5px,#ff8300 86.5px,#ff8000 87.5px,#ff9500 88.5px,#ff8900 93.5px,#ffa300 94.5px,#ff8f00 95.5px)"></i><i style="top:49px;background:linear-gradient(90deg,#84ff7b 0.5px,#9eff61 2.5px,#fff000 4.5px,#ff4700 6.5px,#ff2000 7.5px,#fd0000 10.5px,#f10000 11.5px,#ff2a00 13.5px,#ff3e00 17.5px,#ff6000 18.5px,#ff7d00 20.5px,#ff8f00 25.5px,#ffa700 27.5px,#ffa800 28.5px,#ff7a00 31.5px,#ffa700 32.5px,#ff7700 35.5px,#ff9a00 37.5px,#ff8a00 39.5px,#ffa000 42.5px,#ff7900 43.5px,#ff7400 44.5px,#ff8b00 45.5px,#ff9c00 48.5px,#ff8400 50.5px,#ff9900 52.5px,#ff8000 55.5px,#ff9200 56.5px,#ff9500 58.5px,#ffae00 59.5px,#ff9100 62.5px,#ffae00 64.5px,#ff9e00 65.5px,#ffa700 67.5px,#ff8d00 68.5px,#ff8800 69.5px,#ff9a00 74.5px,#ff8d00 75.5px,#ffb100 76.5px,#ff9200 78.5px,#ffad00 79.5px,#ff8000 82.5px,#ff7e00 83.5px,#ffa100 85.5px,#ff7f00 86.5px,#ff7c00 87.5px,#ff9100 88.5px,#ff8500 93.5px,#ff9f00 94.5px,#ff8b00 95.5px)"></i><i style="top:50px;background:linear-gradient(90deg,#84ff7b 0.5px,#9fff60 2.5px,#ffee00 4.5px,#ff4400 6.5px,#ff1c00 7.5px,#f70000 10.5px,#eb0000 11.5px,#ff0800 12.5px,#ff2300 13.5px,#ff3700 17.5px,#ff5900 18.5px,#ff7700 20.5px,#ff8c00 25.5px,#ffa400 27.5px,#ffa500 28.5px,#ff7700 31.5px,#ffa400 32.5px,#ff7300 35.5px,#ff9700 37.5px,#ff8600 39.5px,#ff9d00 42.5px,#ff7500 43.5px,#ff7100 44.5px,#ff8800 45.5px,#ff9900 48.5px,#ff8000 50.5px,#ff9600 52.5px,#ff7c00 55.5px,#ff8e00 56.5px,#ff9100 58.5px,#ffab00 59.5px,#ff8e00 62.5px,#ffaa00 64.5px,#ff9b00 65.5px,#ffa400 67.5px,#ff8a00 68.5px,#ff8400 69.5px,#ff9600 74.5px,#ff8900 75.5px,#ffae00 76.5px,#ff8e00 78.5px,#ffaa00 79.5px,#ff7c00 82.5px,#ff7a00 83.5px,#ff9500 84.5px,#ff9e00 85.5px,#ff7b00 86.5px,#ff7800 87.5px,#ff8d00 88.5px,#ff8100 93.5px,#ff9c00 94.5px,#ff8700 95.5px)"></i><i style="top:51px;background:linear-gradient(90deg,#85ff7a 0.5px,#9fff60 2.5px,#ffed00 4.5px,#ff4100 6.5px,#ff1900 7.5px,#f20000 10.5px,#e50000 11.5px,#ff0200 12.5px,#ff1d00 13.5px,#ff2f00 17.5px,#ff5200 18.5px,#ff7100 20.5px,#ff7400 22.5px,#ff8800 23.5px,#ff8800 25.5px,#ffa100 27.5px,#ffa200 28.5px,#ff7400 31.5px,#ffa100 32.5px,#ff7000 35.5px,#ff9400 37.5px,#ff8300 39.5px,#ff9a00 42.5px,#ff7200 43.5px,#ff6d00 44.5px,#ff8500 45.5px,#ff9600 48.5px,#ff7d00 50.5px,#ff9300 52.5px,#ff7800 55.5px,#ff8b00 56.5px,#ff8e00 58.5px,#ffa800 59.5px,#ff8a00 62.5px,#ffa800 64.5px,#ff9800 65.5px,#ffa100 67.5px,#ff8700 68.5px,#ff8100 69.5px,#ff9300 74.5px,#ff8600 75.5px,#ffac00 76.5px,#ff8b00 78.5px,#ffa700 79.5px,#ff7900 82.5px,#ff7600 83.5px,#ff9200 84.5px,#ff9b00 85.5px,#ff7700 86.5px,#ff7400 87.5px,#ff8a00 88.5px,#ff7e00 93.5px,#ff9900 94.5px,#ff8400 95.5px)"></i><i style="top:52px;background:linear-gradient(90deg,#85ff7a 0.5px,#9fff60 2.5px,#c9ff36 3.5px,#ffec00 4.5px,#ff3f00 6.5px,#ff1500 7.5px,#fd0000 9.5px,#e00000 11.5px,#fb0000 12.5px,#ff1600 13.5px,#ff2600 17.5px,#ff4a00 18.5px,#ff6b00 20.5px,#ff6e00 22.5px,#ff8300 23.5px,#ff8400 25.5px,#ff9e00 27.5px,#ff9f00 28.5px,#ff7000 31.5px,#ff9f00 32.5px,#ff6d00 35.5px,#ff9100 37.5px,#ff8000 39.5px,#ff9700 42.5px,#ff6f00 43.5px,#ff6a00 44.5px,#ff8200 45.5px,#ff9400 48.5px,#ff7a00 50.5px,#ff9000 52.5px,#ff7500 55.5px,#ff8800 56.5px,#ff8b00 58.5px,#ffa500 59.5px,#ff8800 62.5px,#ffa500 64.5px,#ff9500 65.5px,#ff9f00 67.5px,#ff8400 68.5px,#ff7d00 69.5px,#ff9000 74.5px,#ff8300 75.5px,#ffa900 76.5px,#ff8800 78.5px,#ffa400 79.5px,#ff7600 82.5px,#ff7300 83.5px,#ff8f00 84.5px,#ff9800 85.5px,#ff7400 86.5px,#ff7100 87.5px,#ff8700 88.5px,#ff7b00 93.5px,#ff9600 94.5px,#ff8100 95.5px)"></i><i style="top:53px;background:linear-gradient(90deg,#85ff7a 0.5px,#9fff60 2.5px,#c9ff36 3.5px,#ffeb00 4.5px,#ff3c00 6.5px,#ff1200 7.5px,#f90000 9.5px,#da0000 11.5px,#ff1000 13.5px,#ff1d00 17.5px,#ff4100 18.5px,#ff6400 20.5px,#ff6800 22.5px,#ff7e00 23.5px,#ff8000 25.5px,#ff9c00 28.5px,#ff6d00 31.5px,#ff9c00 32.5px,#ff6a00 35.5px,#ff8e00 37.5px,#ff7d00 39.5px,#ff8400 41.5px,#ff9400 42.5px,#ff6c00 43.5px,#ff6700 44.5px,#ff7f00 45.5px,#ff9100 48.5px,#ff7700 50.5px,#ff8d00 52.5px,#ff7200 55.5px,#ff8500 56.5px,#ff8900 58.5px,#ffa300 59.5px,#ff8500 62.5px,#ffa200 64.5px,#ff9200 65.5px,#ff9c00 67.5px,#ff8100 68.5px,#ff7a00 69.5px,#ff8e00 74.5px,#ff8000 75.5px,#ffa600 76.5px,#ff8500 78.5px,#ffa200 79.5px,#ff7200 82.5px,#ff7000 83.5px,#ff8c00 84.5px,#ff9500 85.5px,#ff7100 86.5px,#ff6e00 87.5px,#ff8400 88.5px,#ff7700 93.5px,#ff9300 94.5px,#ff7e00 95.5px)"></i><i style="top:54px;background:linear-gradient(90deg,#85ff7a 0.5px,#a0ff5f 2.5px,#caff35 3.5px,#ffea00 4.5px,#ff3900 6.5px,#ff0f00 7.5px,#fd0000 8.5px,#d40000 11.5px,#ff0900 13.5px,#ff1300 17.5px,#ff3800 18.5px,#ff5b00 20.5px,#ff6100 22.5px,#ff7800 23.5px,#ff7b00 25.5px,#ff9900 28.5px,#ff6a00 31.5px,#ff9900 32.5px,#ff6700 35.5px,#ff8b00 37.5px,#ff7a00 39.5px,#ff8100 41.5px,#ff9100 42.5px,#ff6800 43.5px,#ff6300 44.5px,#ff7c00 45.5px,#ff8e00 48.5px,#ff7400 50.5px,#ff8a00 52.5px,#ff6f00 55.5px,#ff8200 56.5px,#ff8500 58.5px,#ffa000 59.5px,#ff8100 62.5px,#ff8800 63.5px,#ffa000 64.5px,#ff8f00 65.5px,#ff9900 67.5px,#ff7d00 68.5px,#ff7700 69.5px,#ff8a00 74.5px,#ff7d00 75.5px,#ffa400 76.5px,#ff8200 78.5px,#ff9f00 79.5px,#ff6f00 82.5px,#ff6c00 83.5px,#ff8900 84.5px,#ff9300 85.5px,#ff6e00 86.5px,#ff6a00 87.5px,#ff8100 88.5px,#ff7400 93.5px,#ff9000 94.5px,#ff7b00 95.5px)"></i><i style="top:55px;background:linear-gradient(90deg,#85ff7a 0.5px,#a0ff5f 2.5px,#caff35 3.5px,#ffe900 4.5px,#ff3600 6.5px,#ff0c00 7.5px,#f90000 8.5px,#ce0000 11.5px,#ff0200 13.5px,#ff0800 17.5px,#ff2d00 18.5px,#ff5100 20.5px,#ff5800 22.5px,#ff7100 23.5px,#ff7500 25.5px,#ff9500 28.5px,#ff6600 31.5px,#ff9600 32.5px,#ff6300 35.5px,#ff8800 37.5px,#ff7700 39.5px,#ff7d00 41.5px,#ff8e00 42.5px,#ff6500 43.5px,#ff5f00 44.5px,#ff7800 45.5px,#ff8b00 48.5px,#ff7000 50.5px,#ff8700 52.5px,#ff6b00 55.5px,#ff7f00 56.5px,#ff8200 58.5px,#ff9d00 59.5px,#ff7e00 62.5px,#ff8400 63.5px,#ff9d00 64.5px,#ff8c00 65.5px,#ff9600 67.5px,#ff7a00 68.5px,#ff7300 69.5px,#ff8000 70.5px,#ff7700 71.5px,#ff8700 74.5px,#ff7900 75.5px,#ffa100 76.5px,#ff7f00 78.5px,#ff9c00 79.5px,#ff6b00 82.5px,#ff6800 83.5px,#ff8600 84.5px,#ff8f00 85.5px,#ff6a00 86.5px,#ff6600 87.5px,#ff7d00 88.5px,#ff7000 93.5px,#ff8d00 94.5px,#ff7700 95.5px)"></i><i style="top:56px;background:linear-gradient(90deg,#85ff7a 0.5px,#a0ff5f 2.5px,#cbff34 3.5px,#ffe700 4.5px,#ff3300 6.5px,#ff0800 7.5px,#f50000 8.5px,#c80000 11.5px,#fa0000 13.5px,#fb0000 17.5px,#ff2200 18.5px,#ff4700 20.5px,#ff4f00 22.5px,#ff6800 23.5px,#ff6f00 25.5px,#ff9000 28.5px,#ff6100 31.5px,#ff9200 32.5px,#ff5e00 35.5px,#ff8400 37.5px,#ff7300 39.5px,#ff7900 41.5px,#ff8b00 42.5px,#ff6000 43.5px,#ff5b00 44.5px,#ff7400 45.5px,#ff8700 48.5px,#ff6c00 50.5px,#ff8300 52.5px,#ff6700 55.5px,#ff7b00 56.5px,#ff7e00 58.5px,#ff9900 59.5px,#ff7a00 62.5px,#ff8000 63.5px,#ff9900 64.5px,#ff8800 65.5px,#ff9200 67.5px,#ff7600 68.5px,#ff6f00 69.5px,#ff7c00 70.5px,#ff7200 71.5px,#ff8300 74.5px,#ff7500 75.5px,#ff9d00 76.5px,#ff7b00 78.5px,#ff9800 79.5px,#ff6700 82.5px,#ff6400 83.5px,#ff8200 84.5px,#ff8b00 85.5px,#ff6500 86.5px,#ff6200 87.5px,#ff7900 88.5px,#ff6c00 93.5px,#ff8900 94.5px,#ff7300 95.5px)"></i><i style="top:57px;background:linear-gradient(90deg,#85ff7a 0.5px,#a0ff5f 2.5px,#ccff33 3.5px,#ffe600 4.5px,#ff2f00 6.5px,#ff0300 7.5px,#f00000 8.5px,#c10000 11.5px,#f30000 13.5px,#ef0000 17.5px,#ff1600 18.5px,#ff3b00 20.5px,#ff4300 22.5px,#ff5f00 23.5px,#ff6600 25.5px,#ff8b00 28.5px,#ff5b00 31.5px,#ff8e00 32.5px,#ff5900 35.5px,#ff8000 37.5px,#ff6e00 39.5px,#ff7500 41.5px,#ff8600 42.5px,#ff5b00 43.5px,#ff5600 44.5px,#ff7000 45.5px,#ff8200 48.5px,#ff6700 50.5px,#ff7e00 52.5px,#ff6200 55.5px,#ff7600 56.5px,#ff7a00 58.5px,#ff9500 59.5px,#ff7500 62.5px,#ff7c00 63.5px,#ff9500 64.5px,#ff8400 65.5px,#ff8e00 67.5px,#ff7100 68.5px,#ff6a00 69.5px,#ff7800 70.5px,#ff6e00 71.5px,#ff7f00 74.5px,#ff7000 75.5px,#ff9900 76.5px,#ff7600 78.5px,#ff9400 79.5px,#ff6200 82.5px,#ff5f00 83.5px,#ff7d00 84.5px,#ff8700 85.5px,#ff6000 86.5px,#ff5d00 87.5px,#ff7500 88.5px,#ff6700 93.5px,#ff8500 94.5px,#ff6e00 95.5px)"></i><i style="top:58px;background:linear-gradient(90deg,#85ff7a 0.5px,#a1ff5e 2.5px,#ccff33 3.5px,#ffe400 4.5px,#ff2b00 6.5px,#fe0000 7.5px,#bb0000 11.5px,#ec0000 13.5px,#e30000 17.5px,#ff0a00 18.5px,#ff2f00 20.5px,#ff3700 22.5px,#ff5400 23.5px,#ff5d00 25.5px,#ff8100 27.5px,#ff8400 28.5px,#ff5500 31.5px,#ff8900 32.5px,#ff5400 35.5px,#ff7b00 37.5px,#ff6900 39.5px,#ff7000 41.5px,#ff8200 42.5px,#ff5600 43.5px,#ff5000 44.5px,#ff6b00 45.5px,#ff7e00 48.5px,#ff6200 50.5px,#ff7a00 52.5px,#ff5d00 55.5px,#ff7100 56.5px,#ff7500 58.5px,#ff9100 59.5px,#ff7000 62.5px,#ff7700 63.5px,#ff9100 64.5px,#ff7f00 65.5px,#ff8a00 67.5px,#ff6c00 68.5px,#ff6500 69.5px,#ff7300 70.5px,#ff6900 71.5px,#ff7a00 74.5px,#ff6b00 75.5px,#ff9500 76.5px,#ff7100 78.5px,#ff9000 79.5px,#ff5d00 82.5px,#ff5a00 83.5px,#ff7800 84.5px,#ff8300 85.5px,#ff5b00 86.5px,#ff5800 87.5px,#ff7000 88.5px,#ff6200 93.5px,#ff8000 94.5px,#ff6900 95.5px)"></i><i style="top:59px;background:linear-gradient(90deg,#85ff7a 0.5px,#a1ff5e 2.5px,#cdff32 3.5px,#ffe200 4.5px,#ff2700 6.5px,#f90000 7.5px,#b40000 11.5px,#e50000 13.5px,#d80000 17.5px,#fe0000 18.5px,#ff2200 20.5px,#ff2b00 22.5px,#ff4900 23.5px,#ff5400 25.5px,#ff7900 27.5px,#ff7e00 28.5px,#ff4e00 31.5px,#ff8400 32.5px,#ff4e00 35.5px,#ff7600 37.5px,#ff6400 39.5px,#ff6b00 41.5px,#ff7d00 42.5px,#ff5000 43.5px,#ff4b00 44.5px,#ff6500 45.5px,#ff6300 46.5px,#ff7900 48.5px,#ff5c00 50.5px,#ff7500 52.5px,#ff5700 55.5px,#ff6c00 56.5px,#ff7000 58.5px,#ff8c00 59.5px,#ff6b00 62.5px,#ff7200 63.5px,#ff8c00 64.5px,#ff7a00 65.5px,#ff8500 67.5px,#ff6700 68.5px,#ff6000 69.5px,#ff6e00 70.5px,#ff6300 71.5px,#ff7500 74.5px,#ff6600 75.5px,#ff9000 76.5px,#ff6c00 78.5px,#ff8b00 79.5px,#ff5700 82.5px,#ff5400 83.5px,#ff7300 84.5px,#ff7e00 85.5px,#ff5600 86.5px,#ff5200 87.5px,#ff6b00 88.5px,#ff5d00 93.5px,#ff7b00 94.5px,#ff6400 95.5px)"></i><i style="top:60px;background:linear-gradient(90deg,#85ff7a 0.5px,#a2ff5d 2.5px,#ceff31 3.5px,#ffe100 4.5px,#ff2300 6.5px,#f40000 7.5px,#ae0000 11.5px,#de0000 13.5px,#ce0000 17.5px,#f30000 18.5px,#ff0300 19.5px,#ff1700 20.5px,#ff1e00 22.5px,#ff3d00 23.5px,#ff4a00 25.5px,#ff7200 27.5px,#ff7700 28.5px,#ff4800 31.5px,#ff7e00 32.5px,#ff4800 35.5px,#ff7100 37.5px,#ff5f00 39.5px,#ff6600 41.5px,#ff7800 42.5px,#ff4b00 43.5px,#ff4500 44.5px,#ff6100 45.5px,#ff5e00 46.5px,#ff7400 48.5px,#ff5700 50.5px,#ff7000 52.5px,#ff5200 55.5px,#ff6800 56.5px,#ff6b00 58.5px,#ff8800 59.5px,#ff6600 62.5px,#ff6d00 63.5px,#ff8800 64.5px,#ff7600 65.5px,#ff8100 67.5px,#ff6200 68.5px,#ff5b00 69.5px,#ff6900 70.5px,#ff5e00 71.5px,#ff7000 74.5px,#ff6100 75.5px,#ff8c00 76.5px,#ff6700 78.5px,#ff8700 79.5px,#ff5200 82.5px,#ff4f00 83.5px,#ff6f00 84.5px,#ff7900 85.5px,#ff5000 86.5px,#ff4d00 87.5px,#ff6600 88.5px,#ff5700 93.5px,#ff7700 94.5px,#ff5f00 95.5px)"></i><i style="top:61px;background:linear-gradient(90deg,#85ff7a 0.5px,#a2ff5d 2.5px,#cfff30 3.5px,#ffdf00 4.5px,#ff2000 6.5px,#f10000 7.5px,#a90000 11.5px,#d90000 13.5px,#cd0000 14.5px,#d80000 15.5px,#c60000 17.5px,#ea0000 18.5px,#ff0c00 21.5px,#ff1300 22.5px,#ff3300 23.5px,#ff4000 25.5px,#ff6b00 27.5px,#ff7100 28.5px,#ff4200 31.5px,#ff7a00 32.5px,#ff4300 35.5px,#ff6d00 37.5px,#ff5a00 39.5px,#ff6200 41.5px,#ff7500 42.5px,#ff4700 43.5px,#ff4100 44.5px,#ff5c00 45.5px,#ff5a00 46.5px,#ff7000 48.5px,#ff5300 50.5px,#ff6c00 52.5px,#ff4e00 55.5px,#ff6300 56.5px,#ff6700 58.5px,#ff8400 59.5px,#ff6200 62.5px,#ff6900 63.5px,#ff8400 64.5px,#ff7200 65.5px,#ff7d00 67.5px,#ff5e00 68.5px,#ff5700 69.5px,#ff6500 70.5px,#ff5a00 71.5px,#ff6c00 74.5px,#ff5d00 75.5px,#ff8900 76.5px,#ff6300 78.5px,#ff8300 79.5px,#ff4e00 82.5px,#ff4b00 83.5px,#ff6b00 84.5px,#ff7500 85.5px,#ff4c00 86.5px,#ff4800 87.5px,#ff6200 88.5px,#ff5300 93.5px,#ff7300 94.5px,#ff5b00 95.5px)"></i><i style="top:62px;background:linear-gradient(90deg,#85ff7a 0.5px,#a2ff5d 2.5px,#cfff30 3.5px,#ffde00 4.5px,#ff1e00 6.5px,#ee0000 7.5px,#a50000 11.5px,#d50000 13.5px,#c80000 14.5px,#d40000 15.5px,#bf0000 17.5px,#e40000 18.5px,#ff0500 20.5px,#ff0300 21.5px,#ff0a00 22.5px,#ff2a00 23.5px,#ff3800 25.5px,#ff6500 27.5px,#ff6c00 28.5px,#ff3e00 31.5px,#ff7600 32.5px,#ff4000 35.5px,#ff6a00 37.5px,#ff5700 39.5px,#ff5f00 41.5px,#ff7200 42.5px,#ff4300 43.5px,#ff3e00 44.5px,#ff5900 45.5px,#ff5700 46.5px,#ff6e00 48.5px,#ff5000 50.5px,#ff6900 52.5px,#ff4b00 55.5px,#ff6100 56.5px,#ff6400 58.5px,#ff8200 59.5px,#ff6000 62.5px,#ff6600 63.5px,#ff8200 64.5px,#ff6f00 65.5px,#ff7a00 67.5px,#ff5b00 68.5px,#ff5400 69.5px,#ff6200 70.5px,#ff5700 71.5px,#ff6a00 74.5px,#ff5a00 75.5px,#ff8600 76.5px,#ff6000 78.5px,#ff8100 79.5px,#ff4b00 82.5px,#ff4700 83.5px,#ff6800 84.5px,#ff7300 85.5px,#ff4900 86.5px,#ff4500 87.5px,#ff5f00 88.5px,#ff5000 93.5px,#ff7000 94.5px,#ff5800 95.5px)"></i><i style="top:63px;background:linear-gradient(90deg,#85ff7a 0.5px,#a2ff5d 2.5px,#d0ff2f 3.5px,#ffde00 4.5px,#ff1d00 6.5px,#ed0000 7.5px,#a30000 11.5px,#d30000 13.5px,#c60000 14.5px,#d10000 15.5px,#bb0000 17.5px,#df0000 18.5px,#fe0000 20.5px,#ff0300 22.5px,#ff2400 23.5px,#ff3200 25.5px,#ff6100 27.5px,#ff6800 28.5px,#ff3b00 31.5px,#ff7500 32.5px,#ff3e00 35.5px,#ff6900 37.5px,#ff5600 39.5px,#ff5e00 41.5px,#ff7100 42.5px,#ff4200 43.5px,#ff3c00 44.5px,#ff5800 45.5px,#ff5600 46.5px,#ff6d00 48.5px,#ff4f00 50.5px,#ff6800 52.5px,#ff4900 55.5px,#ff6000 56.5px,#ff6300 58.5px,#ff8100 59.5px,#ff5e00 62.5px,#ff6500 63.5px,#ff8100 64.5px,#ff6e00 65.5px,#ff7900 67.5px,#ff5a00 68.5px,#ff5300 69.5px,#ff6100 70.5px,#ff5600 71.5px,#ff6900 74.5px,#ff5900 75.5px,#ff8500 76.5px,#ff5f00 78.5px,#ff8000 79.5px,#ff4900 82.5px,#ff4600 83.5px,#ff6700 84.5px,#ff7200 85.5px,#ff4800 86.5px,#ff4400 87.5px,#ff5e00 88.5px,#ff4f00 93.5px,#ff6f00 94.5px,#ff5700 95.5px)"></i><i style="top:64px;background:linear-gradient(90deg,#85ff7a 0.5px,#a2ff5d 2.5px,#d0ff2f 3.5px,#ffde00 4.5px,#ff1d00 6.5px,#ed0000 7.5px,#a40000 11.5px,#d40000 13.5px,#c60000 14.5px,#d10000 15.5px,#ba0000 17.5px,#de0000 18.5px,#fc0000 20.5px,#fe0000 22.5px,#ff2000 23.5px,#ff2f00 25.5px,#ff5e00 27.5px,#ff6600 28.5px,#ff3b00 31.5px,#ff7500 32.5px,#ff3f00 35.5px,#ff6a00 37.5px,#ff5700 39.5px,#ff5f00 41.5px,#ff7200 42.5px,#ff4300 43.5px,#ff3e00 44.5px,#ff5a00 45.5px,#ff5700 46.5px,#ff6e00 48.5px,#ff5000 50.5px,#ff6900 52.5px,#ff4b00 55.5px,#ff6100 56.5px,#ff6400 58.5px,#ff8200 59.5px,#ff6000 62.5px,#ff6700 63.5px,#ff8200 64.5px,#ff6f00 65.5px,#ff7a00 67.5px,#ff5b00 68.5px,#ff5400 69.5px,#ff6200 70.5px,#ff5700 71.5px,#ff6a00 74.5px,#ff5a00 75.5px,#ff8600 76.5px,#ff6000 78.5px,#ff8100 79.5px,#ff4b00 82.5px,#ff4800 83.5px,#ff6800 84.5px,#ff7300 85.5px,#ff4900 86.5px,#ff4500 87.5px,#ff5f00 88.5px,#ff5000 93.5px,#ff7000 94.5px,#ff5800 95.5px)"></i><i style="top:65px;background:linear-gradient(90deg,#85ff7a 0.5px,#a2ff5d 2.5px,#cfff30 3.5px,#ffdf00 4.5px,#ff1f00 6.5px,#f00000 7.5px,#a80000 11.5px,#d70000 13.5px,#ca0000 14.5px,#d50000 15.5px,#bd0000 17.5px,#e10000 18.5px,#fd0000 20.5px,#ff0000 22.5px,#ff2100 23.5px,#ff2f00 25.5px,#ff6000 27.5px,#ff6800 28.5px,#ff3e00 31.5px,#ff7800 32.5px,#ff4300 35.5px,#ff6e00 37.5px,#ff5c00 39.5px,#ff6300 41.5px,#ff7600 42.5px,#ff4800 43.5px,#ff4300 44.5px,#ff5e00 45.5px,#ff5b00 46.5px,#ff7200 48.5px,#ff5500 50.5px,#ff6e00 52.5px,#ff5000 55.5px,#ff6500 56.5px,#ff6900 58.5px,#ff8600 59.5px,#ff6400 62.5px,#ff6b00 63.5px,#ff8600 64.5px,#ff7400 65.5px,#ff7f00 67.5px,#ff6000 68.5px,#ff5900 69.5px,#ff6700 70.5px,#ff5c00 71.5px,#ff6e00 74.5px,#ff5f00 75.5px,#ff8a00 76.5px,#ff6500 78.5px,#ff8500 79.5px,#ff5000 82.5px,#ff4c00 83.5px,#ff6c00 84.5px,#ff7700 85.5px,#ff4e00 86.5px,#ff4a00 87.5px,#ff6400 88.5px,#ff5500 93.5px,#ff7500 94.5px,#ff5d00 95.5px)"></i><i style="top:66px;background:linear-gradient(90deg,#85ff7a 0.5px,#a2ff5d 2.5px,#ceff31 3.5px,#ffe000 4.5px,#ff2300 6.5px,#f50000 7.5px,#b00000 11.5px,#e00000 13.5px,#d30000 14.5px,#de0000 15.5px,#c80000 17.5px,#ea0000 18.5px,#ff0700 20.5px,#ff0900 22.5px,#ff2800 23.5px,#ff3700 25.5px,#ff6700 27.5px,#ff7000 28.5px,#ff4900 31.5px,#ff8100 32.5px,#ff4f00 35.5px,#ff7900 37.5px,#ff6700 39.5px,#ff6e00 41.5px,#ff8100 42.5px,#ff5500 43.5px,#ff4f00 44.5px,#ff6a00 45.5px,#ff7d00 48.5px,#ff6100 50.5px,#ff7900 52.5px,#ff5b00 55.5px,#ff7000 56.5px,#ff7400 58.5px,#ff9000 59.5px,#ff6f00 62.5px,#ff7600 63.5px,#ff9000 64.5px,#ff7e00 65.5px,#ff8900 67.5px,#ff6b00 68.5px,#ff6400 69.5px,#ff7200 70.5px,#ff6700 71.5px,#ff7900 74.5px,#ff6a00 75.5px,#ff9400 76.5px,#ff7000 78.5px,#ff8f00 79.5px,#ff5b00 82.5px,#ff5900 83.5px,#ff7700 84.5px,#ff8200 85.5px,#ff5a00 86.5px,#ff5600 87.5px,#ff6f00 88.5px,#ff6100 93.5px,#ff7f00 94.5px,#ff6800 95.5px)"></i><i style="top:67px;background:linear-gradient(90deg,#85ff7a 0.5px,#a1ff5e 2.5px,#cdff32 3.5px,#ffe300 4.5px,#ff2b00 6.5px,#ff0000 7.5px,#c50000 11.5px,#f60000 13.5px,#eb0000 14.5px,#f70000 15.5px,#e40000 17.5px,#ff0600 18.5px,#ff2100 20.5px,#ff2300 22.5px,#ff4100 23.5px,#ff5000 25.5px,#ff7e00 27.5px,#ff8600 28.5px,#ff6500 31.5px,#ff9800 32.5px,#ff6c00 35.5px,#ff9200 37.5px,#ff8200 39.5px,#ff9900 42.5px,#ff7200 43.5px,#ff6d00 44.5px,#ff8500 45.5px,#ff9600 48.5px,#ff7d00 50.5px,#ff9200 52.5px,#ff7800 55.5px,#ff8b00 56.5px,#ff8e00 58.5px,#ffa700 59.5px,#ff8a00 62.5px,#ffa700 64.5px,#ff9700 65.5px,#ffa100 67.5px,#ff8600 68.5px,#ff8000 69.5px,#ff9300 74.5px,#ff8500 75.5px,#ffab00 76.5px,#ff8b00 78.5px,#ffa600 79.5px,#ff7800 82.5px,#ff7500 83.5px,#ff9100 84.5px,#ff9a00 85.5px,#ff7700 86.5px,#ff7300 87.5px,#ff8900 88.5px,#ff7d00 93.5px,#ff9800 94.5px,#ff8300 95.5px)"></i><i style="top:68px;background:linear-gradient(90deg,#85ff7a 0.5px,#a0ff5f 2.5px,#caff35 3.5px,#ffe800 4.5px,#ff3c00 6.5px,#ff1800 7.5px,#f70000 11.5px,#ff2d00 13.5px,#ff2c00 17.5px,#ff4a00 18.5px,#ff6400 20.5px,#ff6800 22.5px,#ff8200 23.5px,#ff9000 25.5px,#ffb700 27.5px,#ffbf00 28.5px,#ffa800 31.5px,#ffd000 32.5px,#ffb000 35.5px,#ffcd00 37.5px,#ffc100 39.5px,#ffd200 42.5px,#ffb500 43.5px,#ffb100 44.5px,#ffc300 45.5px,#ffd000 48.5px,#ffbd00 50.5px,#ffcd00 52.5px,#ffba00 55.5px,#ffca00 58.5px,#ffdd00 59.5px,#ffc700 62.5px,#ffdd00 64.5px,#ffd100 65.5px,#ffd800 67.5px,#ffbf00 69.5px,#ffcd00 74.5px,#ffc400 75.5px,#ffe000 76.5px,#ffc700 78.5px,#ffdc00 79.5px,#ffb800 83.5px,#ffd300 85.5px,#ffb800 86.5px,#ffb600 87.5px,#ffc700 88.5px,#ffbd00 93.5px,#ffd200 94.5px,#ffc200 95.5px)"></i><i style="top:69px;background:linear-gradient(90deg,#84ff7b 0.5px,#9dff62 2.5px,#c4ff3b 3.5px,#fff600 4.5px,#ffa100 5.5px,#ff6600 6.5px,#ff5200 7.5px,#ff6d00 11.5px,#ffa400 13.5px,#ffbe00 17.5px,#ffd300 18.5px,#feff01 23.5px,#d5ff2a 28.5px,#d9ff26 31.5px,#c8ff37 32.5px,#d3ff2c 35.5px,#c4ff3b 42.5px,#d2ff2d 44.5px,#c5ff3a 48.5px,#ceff31 55.5px,#c0ff3f 59.5px,#cbff34 95.5px)"></i><i style="top:70px;background:linear-gradient(90deg,#83ff7c 0.5px,#96ff69 2.5px,#b4ff4b 3.5px,#e9ff16 4.5px,#ffdb00 5.5px,#ffc500 6.5px,#ffeb00 8.5px,#f8ff07 9.5px,#a1ff5e 13.5px,#81ff7e 16.5px,#47ffb8 31.5px,#52ffad 59.5px,#4affb5 95.5px)"></i><i style="top:71px;background:linear-gradient(90deg,#81ff7e 0.5px,#89ff76 2.5px,#b7ff48 5.5px,#30ffcf 9.5px,#00fbff 11.5px,#00d4ff 17.5px,#00f7ff 28.5px,#00dcff 31.5px,#00f9ff 32.5px,#00deff 35.5px,#00f5ff 37.5px,#00ecff 39.5px,#00faff 42.5px,#00e4ff 43.5px,#00e1ff 44.5px,#00faff 48.5px,#00ecff 50.5px,#00f8ff 52.5px,#00e9ff 55.5px,#05fffa 59.5px,#00f4ff 62.5px,#02fffd 67.5px,#00eeff 69.5px,#00f1ff 75.5px,#08fff7 76.5px,#00f4ff 78.5px,#05fffa 79.5px,#00e8ff 83.5px,#00fdff 85.5px,#00e9ff 86.5px,#00e7ff 87.5px,#00f4ff 88.5px,#00ecff 93.5px,#00fcff 94.5px,#00f0ff 95.5px)"></i><i style="top:72px;background:linear-gradient(90deg,#7eff81 0.5px,#78ff87 2.5px,#5bffa4 4.5px,#00f8ff 6.5px,#00acff 8.5px,#006eff 11.5px,#0082ff 13.5px,#0072ff 17.5px,#0098ff 20.5px,#0095ff 22.5px,#00a6ff 23.5px,#00a8ff 25.5px,#00c4ff 28.5px,#00a4ff 31.5px,#00cbff 32.5px,#00a9ff 35.5px,#00c8ff 37.5px,#00bdff 39.5px,#00d0ff 42.5px,#00b2ff 43.5px,#00afff 44.5px,#00c2ff 45.5px,#00cfff 48.5px,#00bdff 50.5px,#00cdff 52.5px,#00baff 55.5px,#00caff 58.5px,#00ddff 59.5px,#00c8ff 62.5px,#00ddff 64.5px,#00d2ff 65.5px,#00d9ff 67.5px,#00c0ff 69.5px,#00ceff 74.5px,#00c4ff 75.5px,#00e0ff 76.5px,#00c8ff 78.5px,#00ddff 79.5px,#00b8ff 83.5px,#00d4ff 85.5px,#00b9ff 86.5px,#00b7ff 87.5px,#00c7ff 88.5px,#00beff 93.5px,#00d2ff 94.5px,#00c3ff 95.5px)"></i><i style="top:73px;background:linear-gradient(90deg,#7cff83 0.5px,#6aff95 2.5px,#4effb1 3.5px,#1dffe2 4.5px,#00d7ff 5.5px,#008dff 6.5px,#0061ff 7.5px,#001cff 11.5px,#0042ff 13.5px,#003aff 17.5px,#0055ff 18.5px,#006cff 20.5px,#006cff 22.5px,#0081ff 23.5px,#0086ff 25.5px,#00a4ff 27.5px,#00a9ff 28.5px,#0086ff 31.5px,#00b4ff 32.5px,#008eff 35.5px,#00b1ff 37.5px,#00a5ff 39.5px,#00bbff 42.5px,#009aff 43.5px,#0097ff 44.5px,#00abff 45.5px,#00bbff 48.5px,#00a6ff 50.5px,#00b9ff 52.5px,#00a3ff 55.5px,#00b3ff 56.5px,#00b6ff 58.5px,#00cbff 59.5px,#00b2ff 62.5px,#00cbff 64.5px,#00beff 65.5px,#00c6ff 67.5px,#00aaff 69.5px,#00baff 74.5px,#00afff 75.5px,#00ceff 76.5px,#00b3ff 78.5px,#00caff 79.5px,#00a2ff 83.5px,#00c0ff 85.5px,#00a2ff 86.5px,#00a0ff 87.5px,#00b2ff 88.5px,#00a8ff 93.5px,#00bfff 94.5px,#00adff 95.5px)"></i><i style="top:74px;background:linear-gradient(90deg,#7bff84 0.5px,#63ff9c 2.5px,#3dffc2 3.5px,#00f9ff 4.5px,#0052ff 6.5px,#0027ff 7.5px,#0000fa 10.5px,#0000eb 11.5px,#0004ff 12.5px,#001bff 13.5px,#0017ff 17.5px,#0036ff 18.5px,#0051ff 20.5px,#0052ff 22.5px,#006aff 23.5px,#0071ff 25.5px,#0093ff 27.5px,#0099ff 28.5px,#0076ff 31.5px,#00a6ff 32.5px,#0080ff 35.5px,#00a5ff 37.5px,#0099ff 39.5px,#00b1ff 42.5px,#008eff 43.5px,#008aff 44.5px,#00a0ff 45.5px,#00b1ff 48.5px,#009bff 50.5px,#00aeff 52.5px,#0098ff 55.5px,#00a8ff 56.5px,#00abff 58.5px,#00c1ff 59.5px,#00a8ff 62.5px,#00c1ff 64.5px,#00b4ff 65.5px,#00bcff 67.5px,#00a4ff 68.5px,#009fff 69.5px,#00b0ff 74.5px,#00a4ff 75.5px,#00c5ff 76.5px,#00a8ff 78.5px,#00c1ff 79.5px,#0096ff 83.5px,#00b6ff 85.5px,#0097ff 86.5px,#0094ff 87.5px,#00a7ff 88.5px,#009cff 93.5px,#00b4ff 94.5px,#00a2ff 95.5px)"></i><i style="top:75px;background:linear-gradient(90deg,#7aff85 0.5px,#5fffa0 2.5px,#34ffcb 3.5px,#00e7ff 4.5px,#0031ff 6.5px,#0006ff 7.5px,#0000f4 8.5px,#0000cc 11.5px,#0002ff 13.5px,#0000ff 17.5px,#0022ff 18.5px,#0040ff 20.5px,#0042ff 22.5px,#005cff 23.5px,#0064ff 25.5px,#0089ff 27.5px,#008fff 28.5px,#006cff 31.5px,#009fff 32.5px,#0077ff 35.5px,#009fff 37.5px,#0092ff 39.5px,#00abff 42.5px,#0087ff 43.5px,#0084ff 44.5px,#009aff 45.5px,#00abff 48.5px,#0095ff 50.5px,#00a9ff 52.5px,#0092ff 55.5px,#00a3ff 56.5px,#00a6ff 58.5px,#00bdff 59.5px,#00a2ff 62.5px,#00bdff 64.5px,#00aeff 65.5px,#00b7ff 67.5px,#009fff 68.5px,#009aff 69.5px,#00aaff 74.5px,#009eff 75.5px,#00c0ff 76.5px,#00a3ff 78.5px,#00bcff 79.5px,#0090ff 83.5px,#00b1ff 85.5px,#0091ff 86.5px,#008eff 87.5px,#00a2ff 88.5px,#0097ff 93.5px,#00afff 94.5px,#009dff 95.5px)"></i><i style="top:76px;background:linear-gradient(90deg,#7aff85 0.5px,#5dffa2 2.5px,#2fffd0 3.5px,#00deff 4.5px,#0020ff 6.5px,#0000f3 7.5px,#0000bb 11.5px,#0000f2 13.5px,#0000eb 14.5px,#0000fb 15.5px,#0000f1 17.5px,#0016ff 18.5px,#0036ff 20.5px,#0039ff 22.5px,#0054ff 23.5px,#005dff 25.5px,#0084ff 27.5px,#008aff 28.5px,#0067ff 31.5px,#009bff 32.5px,#0074ff 35.5px,#009cff 37.5px,#0090ff 39.5px,#00a9ff 42.5px,#0085ff 43.5px,#0081ff 44.5px,#0098ff 45.5px,#00aaff 48.5px,#0093ff 50.5px,#00a7ff 52.5px,#0090ff 55.5px,#00a1ff 56.5px,#00a4ff 58.5px,#00bbff 59.5px,#00a1ff 62.5px,#00bbff 64.5px,#00adff 65.5px,#00b6ff 67.5px,#009dff 68.5px,#0098ff 69.5px,#00a9ff 74.5px,#009dff 75.5px,#00bfff 76.5px,#00a2ff 78.5px,#00bbff 79.5px,#008eff 83.5px,#00b0ff 85.5px,#0090ff 86.5px,#008dff 87.5px,#00a1ff 88.5px,#0095ff 93.5px,#00aeff 94.5px,#009bff 95.5px)"></i><i style="top:77px;background:linear-gradient(90deg,#7aff85 0.5px,#5cffa3 2.5px,#2dffd2 3.5px,#00dbff 4.5px,#001aff 6.5px,#0000ed 7.5px,#0000b5 11.5px,#0000ee 13.5px,#0000e7 14.5px,#0000f7 15.5px,#0000ee 17.5px,#0013ff 18.5px,#0033ff 20.5px,#0037ff 22.5px,#0053ff 23.5px,#005cff 25.5px,#0084ff 27.5px,#008aff 28.5px,#0068ff 31.5px,#009cff 32.5px,#0075ff 35.5px,#009dff 37.5px,#0091ff 39.5px,#00aaff 42.5px,#0087ff 43.5px,#0083ff 44.5px,#009aff 45.5px,#00abff 48.5px,#0095ff 50.5px,#00a9ff 52.5px,#0092ff 55.5px,#00a3ff 56.5px,#00a6ff 58.5px,#00bdff 59.5px,#00a2ff 62.5px,#00bdff 64.5px,#00afff 65.5px,#00b7ff 67.5px,#009fff 68.5px,#009aff 69.5px,#00aaff 74.5px,#009fff 75.5px,#00c0ff 76.5px,#00a3ff 78.5px,#00bcff 79.5px,#0090ff 83.5px,#00b1ff 85.5px,#0091ff 86.5px,#008eff 87.5px,#00a2ff 88.5px,#0097ff 93.5px,#00b0ff 94.5px,#009dff 95.5px)"></i><i style="top:78px;background:linear-gradient(90deg,#7aff85 0.5px,#5cffa3 2.5px,#2effd1 3.5px,#00ddff 4.5px,#001fff 6.5px,#0000f2 7.5px,#0000bb 11.5px,#0000f3 13.5px,#0000f4 17.5px,#0039ff 20.5px,#003dff 22.5px,#0058ff 23.5px,#0061ff 25.5px,#0088ff 27.5px,#008eff 28.5px,#006dff 31.5px,#00a0ff 32.5px,#007aff 35.5px,#00a2ff 37.5px,#0096ff 39.5px,#00afff 42.5px,#008cff 43.5px,#0088ff 44.5px,#009eff 45.5px,#00afff 48.5px,#0099ff 50.5px,#00adff 52.5px,#0097ff 55.5px,#00a7ff 56.5px,#00aaff 58.5px,#00c1ff 59.5px,#00a7ff 62.5px,#00c1ff 64.5px,#00b3ff 65.5px,#00bbff 67.5px,#00a4ff 68.5px,#009eff 69.5px,#00afff 74.5px,#00a3ff 75.5px,#00c4ff 76.5px,#00a8ff 78.5px,#00c0ff 79.5px,#0095ff 83.5px,#00b6ff 85.5px,#0096ff 86.5px,#0093ff 87.5px,#00a7ff 88.5px,#009cff 93.5px,#00b4ff 94.5px,#00a1ff 95.5px)"></i><i style="top:79px;background:linear-gradient(90deg,#7aff85 0.5px,#5effa1 2.5px,#32ffcd 3.5px,#00e3ff 4.5px,#002cff 6.5px,#0002ff 7.5px,#0000f2 8.5px,#0000cd 11.5px,#0003ff 13.5px,#0004ff 17.5px,#0026ff 18.5px,#0045ff 20.5px,#0048ff 22.5px,#0062ff 23.5px,#006bff 25.5px,#0091ff 27.5px,#0097ff 28.5px,#0077ff 31.5px,#00a8ff 32.5px,#0083ff 35.5px,#00a9ff 37.5px,#009eff 39.5px,#00b5ff 42.5px,#0094ff 43.5px,#0090ff 44.5px,#00a6ff 45.5px,#00b6ff 48.5px,#00a1ff 50.5px,#00b4ff 52.5px,#009eff 55.5px,#00aeff 56.5px,#00b1ff 58.5px,#00c7ff 59.5px,#00aeff 62.5px,#00c7ff 64.5px,#00b9ff 65.5px,#00c2ff 67.5px,#00a6ff 69.5px,#00b6ff 74.5px,#00aaff 75.5px,#00caff 76.5px,#00afff 78.5px,#00c6ff 79.5px,#009dff 83.5px,#00bcff 85.5px,#009eff 86.5px,#009bff 87.5px,#00aeff 88.5px,#00a3ff 93.5px,#00baff 94.5px,#00a9ff 95.5px)"></i><i style="top:80px;background:linear-gradient(90deg,#7aff85 0.5px,#60ff9f 2.5px,#36ffc9 3.5px,#00edff 4.5px,#0042ff 6.5px,#001aff 7.5px,#0000f5 10.5px,#0000e8 11.5px,#0002ff 12.5px,#001bff 13.5px,#0015ff 14.5px,#0023ff 15.5px,#001aff 17.5px,#003bff 18.5px,#0057ff 20.5px,#005aff 22.5px,#0072ff 23.5px,#007aff 25.5px,#009dff 27.5px,#00a3ff 28.5px,#0084ff 31.5px,#00b2ff 32.5px,#008fff 35.5px,#00b3ff 37.5px,#00a8ff 39.5px,#00bfff 42.5px,#009eff 43.5px,#009bff 44.5px,#00afff 45.5px,#00bfff 48.5px,#00abff 50.5px,#00bdff 52.5px,#00a8ff 55.5px,#00b8ff 56.5px,#00baff 58.5px,#00cfff 59.5px,#00b7ff 62.5px,#00cfff 64.5px,#00c2ff 65.5px,#00caff 67.5px,#00afff 69.5px,#00beff 74.5px,#00b4ff 75.5px,#00d2ff 76.5px,#00b8ff 78.5px,#00cfff 79.5px,#00a7ff 83.5px,#00c5ff 85.5px,#00a8ff 86.5px,#00a5ff 87.5px,#00b7ff 88.5px,#00adff 93.5px,#00c3ff 94.5px,#00b2ff 95.5px)"></i><i style="top:81px;background:linear-gradient(90deg,#7bff84 0.5px,#63ff9c 2.5px,#3dffc2 3.5px,#00f9ff 4.5px,#005dff 6.5px,#0039ff 7.5px,#000bff 11.5px,#0038ff 13.5px,#0037ff 17.5px,#0054ff 18.5px,#006eff 20.5px,#0070ff 22.5px,#0086ff 23.5px,#008dff 25.5px,#00adff 27.5px,#00b2ff 28.5px,#0094ff 31.5px,#00bfff 32.5px,#009dff 35.5px,#00bfff 37.5px,#00b4ff 39.5px,#00c9ff 42.5px,#00abff 43.5px,#00a8ff 44.5px,#00bbff 45.5px,#00caff 48.5px,#00b7ff 50.5px,#00c8ff 52.5px,#00b4ff 55.5px,#00c5ff 58.5px,#00d9ff 59.5px,#00c2ff 62.5px,#00d9ff 64.5px,#00cdff 65.5px,#00d4ff 67.5px,#00bbff 69.5px,#00c9ff 74.5px,#00bfff 75.5px,#00dcff 76.5px,#00c3ff 78.5px,#00d8ff 79.5px,#00b3ff 83.5px,#00cfff 85.5px,#00b3ff 86.5px,#00b1ff 87.5px,#00c2ff 88.5px,#00b8ff 93.5px,#00cdff 94.5px,#00bdff 95.5px)"></i><i style="top:82px;background:linear-gradient(90deg,#7bff84 0.5px,#66ff99 2.5px,#44ffbb 3.5px,#08fff7 4.5px,#007bff 6.5px,#005bff 7.5px,#0031ff 11.5px,#005aff 13.5px,#0057ff 17.5px,#0071ff 18.5px,#0087ff 20.5px,#0088ff 22.5px,#00beff 27.5px,#00c2ff 28.5px,#00a5ff 31.5px,#00cdff 32.5px,#00adff 35.5px,#00ccff 37.5px,#00c2ff 39.5px,#00d5ff 42.5px,#00b9ff 43.5px,#00b6ff 44.5px,#00c8ff 45.5px,#00d5ff 48.5px,#00c4ff 50.5px,#00d4ff 52.5px,#00c1ff 55.5px,#00d1ff 58.5px,#00e3ff 59.5px,#00ceff 62.5px,#00e3ff 64.5px,#00d8ff 65.5px,#00dfff 67.5px,#00c7ff 69.5px,#00d5ff 74.5px,#00cbff 75.5px,#00e6ff 76.5px,#00cfff 78.5px,#00e3ff 79.5px,#00c0ff 83.5px,#00daff 85.5px,#00c0ff 86.5px,#00beff 87.5px,#00ceff 88.5px,#00c5ff 93.5px,#00d9ff 94.5px,#00caff 95.5px)"></i><i style="top:83px;background:linear-gradient(90deg,#7cff83 0.5px,#69ff96 2.5px,#4bffb4 3.5px,#17ffe8 4.5px,#00d4ff 5.5px,#009bff 6.5px,#007eff 7.5px,#0059ff 11.5px,#007cff 13.5px,#0078ff 17.5px,#00a2ff 20.5px,#00a2ff 22.5px,#00d0ff 27.5px,#00d3ff 28.5px,#00b8ff 31.5px,#00dcff 32.5px,#00beff 35.5px,#00daff 37.5px,#00d1ff 39.5px,#00e2ff 42.5px,#00c8ff 43.5px,#00c5ff 44.5px,#00d5ff 45.5px,#00e2ff 48.5px,#00d1ff 50.5px,#00e0ff 52.5px,#00cfff 55.5px,#00ddff 58.5px,#00eeff 59.5px,#00dbff 62.5px,#00efff 64.5px,#00e4ff 65.5px,#00eaff 67.5px,#00d4ff 69.5px,#00e1ff 74.5px,#00d8ff 75.5px,#00f1ff 76.5px,#00dbff 78.5px,#00eeff 79.5px,#00cdff 83.5px,#00e6ff 85.5px,#00ceff 86.5px,#00ccff 87.5px,#00dbff 88.5px,#00d2ff 93.5px,#00e5ff 94.5px,#00d7ff 95.5px)"></i><i style="top:84px;background:linear-gradient(90deg,#7cff83 0.5px,#6cff93 2.5px,#52ffad 3.5px,#25ffda 4.5px,#00ebff 5.5px,#00baff 6.5px,#00a1ff 7.5px,#0080ff 11.5px,#009eff 13.5px,#0099ff 17.5px,#00bcff 20.5px,#00bbff 22.5px,#00e1ff 27.5px,#00caff 31.5px,#00ebff 32.5px,#00cfff 35.5px,#00e8ff 37.5px,#00dfff 39.5px,#00efff 42.5px,#00d6ff 43.5px,#00d4ff 44.5px,#00eeff 48.5px,#00dfff 50.5px,#00ecff 52.5px,#00dcff 55.5px,#00faff 59.5px,#00e8ff 62.5px,#00faff 64.5px,#00f6ff 67.5px,#00e2ff 69.5px,#00e5ff 75.5px,#00fcff 76.5px,#00e8ff 78.5px,#00f9ff 79.5px,#00dbff 83.5px,#00f2ff 85.5px,#00dcff 86.5px,#00daff 87.5px,#00e7ff 88.5px,#00e0ff 93.5px,#00f1ff 94.5px,#00e4ff 95.5px)"></i><i style="top:85px;background:linear-gradient(90deg,#7dff82 0.5px,#6fff90 2.5px,#59ffa6 3.5px,#01fffe 5.5px,#00d6ff 6.5px,#00c1ff 7.5px,#00a4ff 11.5px,#00bdff 13.5px,#00b7ff 17.5px,#00d4ff 20.5px,#00d2ff 22.5px,#00f2ff 27.5px,#00dcff 31.5px,#00f9ff 32.5px,#00dfff 35.5px,#00f5ff 37.5px,#00edff 39.5px,#00fbff 42.5px,#00e5ff 43.5px,#00e2ff 44.5px,#00faff 48.5px,#00ecff 50.5px,#00f8ff 52.5px,#00eaff 55.5px,#06fff9 59.5px,#00f4ff 62.5px,#02fffd 67.5px,#00eeff 69.5px,#05fffa 79.5px,#00e9ff 83.5px,#00fdff 85.5px,#00e9ff 86.5px,#00e7ff 87.5px,#00f4ff 88.5px,#00edff 93.5px,#00fcff 94.5px,#00f0ff 95.5px)"></i><i style="top:86px;background:linear-gradient(90deg,#7dff82 0.5px,#5fffa0 3.5px,#14ffeb 5.5px,#00f0ff 6.5px,#00ddff 7.5px,#00c4ff 11.5px,#00d9ff 13.5px,#00d2ff 17.5px,#00eaff 20.5px,#02fffd 27.5px,#00ecff 31.5px,#07fff8 32.5px,#00eeff 35.5px,#03fffc 37.5px,#08fff7 42.5px,#00f0ff 44.5px,#00ffff 47.5px,#00fdff 57.5px,#10ffef 59.5px,#01fffe 62.5px,#10ffef 64.5px,#00feff 68.5px,#00fdff 75.5px,#12ffed 76.5px,#01fffe 78.5px,#10ffef 79.5px,#00ffff 81.5px,#00f5ff 83.5px,#09fff6 85.5px,#00f4ff 87.5px,#01fffe 88.5px,#00fcff 95.5px)"></i><i style="top:87px;background:linear-gradient(90deg,#7eff81 0.5px,#64ff9b 3.5px,#06fff9 6.5px,#00f5ff 7.5px,#00dfff 11.5px,#00f0ff 13.5px,#00e9ff 17.5px,#04fffb 23.5px,#11ffee 28.5px,#00fbff 31.5px,#13ffec 32.5px,#00fbff 35.5px,#0efff1 37.5px,#12ffed 42.5px,#00feff 43.5px,#11ffee 48.5px,#03fffc 55.5px,#1affe5 59.5px,#0cfff3 62.5px,#1affe5 64.5px,#07fff8 69.5px,#0afff5 75.5px,#1bffe4 76.5px,#02fffd 83.5px,#13ffec 85.5px,#01fffe 87.5px,#0bfff4 88.5px,#06fff9 93.5px,#12ffed 94.5px,#09fff6 95.5px)"></i><i style="top:88px;background:linear-gradient(90deg,#7eff81 0.5px,#68ff97 3.5px,#18ffe7 6.5px,#0afff5 7.5px,#00fbff 10.5px,#00fdff 17.5px,#1cffe3 28.5px,#09fff6 31.5px,#1dffe2 32.5px,#08fff7 35.5px,#19ffe6 37.5px,#1cffe3 42.5px,#09fff6 44.5px,#1bffe4 48.5px,#0efff1 55.5px,#22ffdd 59.5px,#16ffe9 62.5px,#1fffe0 67.5px,#11ffee 69.5px,#14ffeb 75.5px,#24ffdb 76.5px,#0dfff2 83.5px,#1dffe2 85.5px,#0cfff3 87.5px,#10ffef 93.5px,#1cffe3 94.5px,#13ffec 95.5px)"></i><i style="top:89px;background:linear-gradient(90deg,#7eff81 0.5px,#6bff94 3.5px,#1affe5 7.5px,#08fff7 11.5px,#26ffd9 28.5px,#14ffeb 31.5px,#26ffd9 32.5px,#13ffec 35.5px,#22ffdd 37.5px,#24ffdb 42.5px,#13ffec 44.5px,#23ffdc 48.5px,#17ffe8 55.5px,#2affd5 59.5px,#1effe1 62.5px,#27ffd8 67.5px,#1affe5 69.5px,#1dffe2 75.5px,#2bffd4 76.5px,#16ffe9 83.5px,#25ffda 85.5px,#15ffea 87.5px,#24ffdb 94.5px,#1cffe3 95.5px)"></i><i style="top:90px;background:linear-gradient(90deg,#7eff81 0.5px,#6eff91 3.5px,#26ffd9 7.5px,#16ffe9 11.5px,#2effd1 28.5px,#1dffe2 31.5px,#2effd1 32.5px,#1cffe3 35.5px,#2cffd3 42.5px,#1bffe4 44.5px,#2affd5 48.5px,#20ffdf 55.5px,#31ffce 59.5px,#26ffd9 62.5px,#2effd1 67.5px,#22ffdd 69.5px,#24ffdb 75.5px,#32ffcd 76.5px,#1fffe0 83.5px,#2cffd3 85.5px,#1effe1 87.5px,#24ffdb 95.5px)"></i><i style="top:91px;background:linear-gradient(90deg,#7eff81 0.5px,#70ff8f 3.5px,#30ffcf 7.5px,#21ffde 11.5px,#35ffca 28.5px,#25ffda 31.5px,#35ffca 32.5px,#24ffdb 35.5px,#32ffcd 42.5px,#23ffdc 44.5px,#31ffce 48.5px,#27ffd8 55.5px,#37ffc8 59.5px,#29ffd6 69.5px,#2bffd4 75.5px,#38ffc7 76.5px,#26ffd9 83.5px,#32ffcd 85.5px,#25ffda 87.5px,#2bffd4 95.5px)"></i><i style="top:92px;background:linear-gradient(90deg,#7fff80 0.5px,#71ff8e 3.5px,#37ffc8 7.5px,#2affd5 11.5px,#3bffc4 28.5px,#2affd5 35.5px,#37ffc8 42.5px,#29ffd6 44.5px,#36ffc9 48.5px,#2dffd2 55.5px,#3cffc3 59.5px,#2fffd0 69.5px,#31ffce 75.5px,#3dffc2 76.5px,#2cffd3 83.5px,#38ffc7 85.5px,#2bffd4 87.5px,#30ffcf 95.5px)"></i><i style="top:93px;background:linear-gradient(90deg,#7fff80 0.5px,#72ff8d 3.5px,#3dffc2 7.5px,#30ffcf 11.5px,#3fffc0 27.5px,#2fffd0 35.5px,#3cffc3 42.5px,#2effd1 44.5px,#3affc5 48.5px,#32ffcd 55.5px,#40ffbf 59.5px,#35ffca 95.5px)"></i><i style="top:94px;background:linear-gradient(90deg,#7fff80 0.5px,#73ff8c 3.5px,#41ffbe 7.5px,#35ffca 11.5px,#42ffbd 27.5px,#34ffcb 35.5px,#3fffc0 42.5px,#32ffcd 44.5px,#3effc1 48.5px,#35ffca 55.5px,#43ffbc 59.5px,#39ffc6 95.5px)"></i><i style="top:95px;background:linear-gradient(90deg,#7fff80 0.5px,#74ff8b 3.5px,#44ffbb 7.5px,#39ffc6 11.5px,#45ffba 27.5px,#37ffc8 35.5px,#42ffbd 42.5px,#36ffc9 44.5px,#41ffbe 48.5px,#39ffc6 55.5px,#45ffba 59.5px,#3cffc3 95.5px)"></i><i style="top:96px;background:linear-gradient(90deg,#7fff80 0.5px,#74ff8b 3.5px,#46ffb9 7.5px,#3bffc4 11.5px,#47ffb8 27.5px,#39ffc6 35.5px,#44ffbb 42.5px,#38ffc7 44.5px,#43ffbc 48.5px,#3bffc4 55.5px,#47ffb8 59.5px,#3effc1 95.5px)"></i></div><div class="hm" style="left:220px;top:141px;width:96px;height:97px;filter:blur(0.45px)"><i style="top:0px;background:linear-gradient(90deg,#57ffa8 0.5px,#52ffad 3.5px,#30ffcf 8.5px,#53ffac 24.5px,#6cff93 95.5px)"></i><i style="top:1px;background:linear-gradient(90deg,#57ffa8 0.5px,#52ffad 3.5px,#30ffcf 8.5px,#53ffac 24.5px,#6cff93 95.5px)"></i><i style="top:2px;background:linear-gradient(90deg,#57ffa8 0.5px,#52ffad 3.5px,#30ffcf 8.5px,#53ffac 24.5px,#6cff93 95.5px)"></i><i style="top:3px;background:linear-gradient(90deg,#57ffa8 0.5px,#52ffad 3.5px,#2fffd0 8.5px,#53ffac 24.5px,#6cff93 95.5px)"></i><i style="top:4px;background:linear-gradient(90deg,#57ffa8 0.5px,#52ffad 3.5px,#2effd1 8.5px,#52ffad 24.5px,#6cff93 95.5px)"></i><i style="top:5px;background:linear-gradient(90deg,#58ffa7 0.5px,#52ffad 3.5px,#2dffd2 8.5px,#52ffad 24.5px,#6cff93 95.5px)"></i><i style="top:6px;background:linear-gradient(90deg,#58ffa7 0.5px,#52ffad 3.5px,#2cffd3 8.5px,#52ffad 24.5px,#6cff93 95.5px)"></i><i style="top:7px;background:linear-gradient(90deg,#58ffa7 0.5px,#52ffad 3.5px,#2affd5 8.5px,#51ffae 24.5px,#6cff93 95.5px)"></i><i style="top:8px;background:linear-gradient(90deg,#58ffa7 0.5px,#52ffad 3.5px,#28ffd7 8.5px,#51ffae 24.5px,#6cff93 95.5px)"></i><i style="top:9px;background:linear-gradient(90deg,#59ffa6 0.5px,#52ffad 3.5px,#2dffd2 6.5px,#25ffda 8.5px,#50ffaf 24.5px,#6cff93 95.5px)"></i><i style="top:10px;background:linear-gradient(90deg,#5affa5 0.5px,#52ffad 3.5px,#21ffde 7.5px,#4fffb0 24.5px,#6cff93 95.5px)"></i><i style="top:11px;background:linear-gradient(90deg,#5bffa4 0.5px,#52ffad 3.5px,#1cffe3 7.5px,#43ffbc 17.5px,#4effb1 24.5px,#6cff93 95.5px)"></i><i style="top:12px;background:linear-gradient(90deg,#5cffa3 0.5px,#52ffad 3.5px,#16ffe9 7.5px,#3fffc0 16.5px,#4dffb2 24.5px,#6cff93 95.5px)"></i><i style="top:13px;background:linear-gradient(90deg,#5effa1 0.5px,#53ffac 3.5px,#10ffef 7.5px,#47ffb8 20.5px,#6cff93 95.5px)"></i><i style="top:14px;background:linear-gradient(90deg,#60ff9f 0.5px,#54ffab 3.5px,#08fff7 7.5px,#37ffc8 15.5px,#45ffba 20.5px,#62ff9d 59.5px,#6cff93 95.5px)"></i><i style="top:15px;background:linear-gradient(90deg,#62ff9d 0.5px,#55ffaa 3.5px,#00ffff 7.5px,#35ffca 15.5px,#43ffbc 20.5px,#62ff9d 59.5px,#6cff93 95.5px)"></i><i style="top:16px;background:linear-gradient(90deg,#65ff9a 0.5px,#56ffa9 3.5px,#0afff5 6.5px,#00fdff 8.5px,#32ffcd 15.5px,#40ffbf 20.5px,#61ff9e 59.5px,#6cff93 95.5px)"></i><i style="top:17px;background:linear-gradient(90deg,#68ff97 0.5px,#57ffa8 3.5px,#03fffc 6.5px,#00eeff 7.5px,#00f5ff 8.5px,#2fffd0 15.5px,#3dffc2 20.5px,#60ff9f 59.5px,#6cff93 95.5px)"></i><i style="top:18px;background:linear-gradient(90deg,#6bff94 0.5px,#59ffa6 3.5px,#00fcff 6.5px,#00e5ff 7.5px,#00fcff 9.5px,#2bffd4 15.5px,#39ffc6 20.5px,#5fffa0 59.5px,#6bff94 95.5px)"></i><i style="top:19px;background:linear-gradient(90deg,#6eff91 0.5px,#5affa5 3.5px,#00f5ff 6.5px,#00dcff 7.5px,#04fffb 10.5px,#27ffd8 15.5px,#35ffca 20.5px,#5effa1 59.5px,#6bff94 95.5px)"></i><i style="top:20px;background:linear-gradient(90deg,#71ff8e 0.5px,#5affa5 3.5px,#13ffec 5.5px,#00e7ff 6.5px,#00cbff 7.5px,#00fdff 11.5px,#28ffd7 17.5px,#42ffbd 35.5px,#63ff9c 67.5px,#6bff94 95.5px)"></i><i style="top:21px;background:linear-gradient(90deg,#74ff8b 0.5px,#59ffa6 3.5px,#08fff7 5.5px,#00d6ff 6.5px,#00b6ff 7.5px,#00eaff 11.5px,#09fff6 14.5px,#27ffd8 20.5px,#5bffa4 58.5px,#6bff94 95.5px)"></i><i style="top:22px;background:linear-gradient(90deg,#76ff89 0.5px,#58ffa7 3.5px,#00fbff 5.5px,#00c4ff 6.5px,#00a0ff 7.5px,#03fffc 15.5px,#26ffd9 24.5px,#59ffa6 58.5px,#6bff94 95.5px)"></i><i style="top:23px;background:linear-gradient(90deg,#77ff88 0.5px,#6bff94 2.5px,#56ffa9 3.5px,#00efff 5.5px,#00b2ff 6.5px,#008aff 7.5px,#008cff 8.5px,#00f2ff 15.5px,#03fffc 17.5px,#35ffca 35.5px,#58ffa7 58.5px,#6bff94 95.5px)"></i><i style="top:24px;background:linear-gradient(90deg,#79ff86 0.5px,#6bff94 2.5px,#54ffab 3.5px,#27ffd8 4.5px,#00e3ff 5.5px,#00a0ff 6.5px,#0073ff 7.5px,#0074ff 8.5px,#00e0ff 15.5px,#00ffff 19.5px,#2fffd0 35.5px,#56ffa9 58.5px,#6bff94 95.5px)"></i><i style="top:25px;background:linear-gradient(90deg,#79ff86 0.5px,#6aff95 2.5px,#51ffae 3.5px,#20ffdf 4.5px,#00d6ff 5.5px,#008dff 6.5px,#005dff 7.5px,#005bff 8.5px,#00d9ff 16.5px,#00ffff 23.5px,#2affd5 35.5px,#55ffaa 58.5px,#6bff94 95.5px)"></i><i style="top:26px;background:linear-gradient(90deg,#7aff85 0.5px,#6aff95 2.5px,#4fffb0 3.5px,#1affe5 4.5px,#00caff 5.5px,#007bff 6.5px,#0046ff 7.5px,#0043ff 8.5px,#00c7ff 16.5px,#00e9ff 20.5px,#01fffe 25.5px,#24ffdb 35.5px,#53ffac 58.5px,#6bff94 95.5px)"></i><i style="top:27px;background:linear-gradient(90deg,#7bff84 0.5px,#69ff96 2.5px,#4cffb3 3.5px,#13ffec 4.5px,#00bdff 5.5px,#0069ff 6.5px,#0031ff 7.5px,#002cff 8.5px,#00c0ff 17.5px,#00dbff 20.5px,#02fffd 28.5px,#04fffb 31.5px,#1effe1 35.5px,#53ffac 59.5px,#6bff94 95.5px)"></i><i style="top:28px;background:linear-gradient(90deg,#7bff84 0.5px,#68ff97 2.5px,#49ffb6 3.5px,#0dfff2 4.5px,#0057ff 6.5px,#001cff 7.5px,#0015ff 8.5px,#00afff 17.5px,#00ccff 20.5px,#00cdff 22.5px,#00e5ff 24.5px,#00f7ff 28.5px,#52ffad 59.5px,#6bff94 95.5px)"></i><i style="top:29px;background:linear-gradient(90deg,#7bff84 0.5px,#67ff98 2.5px,#47ffb8 3.5px,#07fff8 4.5px,#0047ff 6.5px,#0007ff 7.5px,#0000fe 8.5px,#009dff 17.5px,#00d8ff 24.5px,#00feff 32.5px,#51ffae 59.5px,#6bff94 95.5px)"></i><i style="top:30px;background:linear-gradient(90deg,#7bff84 0.5px,#66ff99 2.5px,#44ffbb 3.5px,#01fffe 4.5px,#0037ff 6.5px,#0000f3 7.5px,#0000e9 8.5px,#0000f8 9.5px,#003fff 13.5px,#007eff 16.5px,#00aeff 20.5px,#00b1ff 22.5px,#00ccff 24.5px,#00e9ff 31.5px,#00fdff 33.5px,#4fffb0 59.5px,#6bff94 95.5px)"></i><i style="top:31px;background:linear-gradient(90deg,#7bff84 0.5px,#65ff9a 2.5px,#42ffbd 3.5px,#00faff 4.5px,#0028ff 6.5px,#0000e1 7.5px,#0000d6 8.5px,#000aff 11.5px,#006dff 16.5px,#00a0ff 20.5px,#00a3ff 22.5px,#00c1ff 24.5px,#05fffa 35.5px,#4effb1 59.5px,#6bff94 95.5px)"></i><i style="top:32px;background:linear-gradient(90deg,#7bff84 0.5px,#64ff9b 2.5px,#3fffc0 3.5px,#00f5ff 4.5px,#001aff 6.5px,#0000d1 7.5px,#0000c3 8.5px,#0008ff 12.5px,#005eff 16.5px,#0093ff 20.5px,#0096ff 22.5px,#00b6ff 24.5px,#00d8ff 31.5px,#00ffff 35.5px,#4dffb2 59.5px,#6bff94 95.5px)"></i><i style="top:33px;background:linear-gradient(90deg,#7bff84 0.5px,#63ff9c 2.5px,#3dffc2 3.5px,#00f0ff 4.5px,#000eff 6.5px,#0000c1 7.5px,#0000b3 8.5px,#0008ff 13.5px,#004fff 16.5px,#0087ff 20.5px,#008aff 22.5px,#00acff 24.5px,#00d1ff 31.5px,#00f9ff 35.5px,#00fcff 38.5px,#2effd1 48.5px,#4dffb2 59.5px,#6cff93 95.5px)"></i><i style="top:34px;background:linear-gradient(90deg,#7bff84 0.5px,#63ff9c 2.5px,#3bffc4 3.5px,#00ebff 4.5px,#0002ff 6.5px,#0000b3 7.5px,#0000a3 8.5px,#0000f7 13.5px,#0014ff 14.5px,#0041ff 16.5px,#007bff 20.5px,#007fff 22.5px,#00a2ff 24.5px,#00caff 31.5px,#00f5ff 35.5px,#01fffe 39.5px,#2dffd2 48.5px,#4dffb2 59.5px,#6dff92 95.5px)"></i><i style="top:35px;background:linear-gradient(90deg,#7bff84 0.5px,#62ff9d 2.5px,#39ffc6 3.5px,#00e8ff 4.5px,#0000f9 6.5px,#0000a9 7.5px,#000098 8.5px,#0008ff 14.5px,#0047ff 17.5px,#004cff 18.5px,#0072ff 20.5px,#0075ff 22.5px,#009aff 24.5px,#00c4ff 31.5px,#00f1ff 35.5px,#00fdff 39.5px,#2cffd3 48.5px,#4dffb2 59.5px,#69ff96 78.5px,#70ff8f 95.5px)"></i><i style="top:36px;background:linear-gradient(90deg,#7bff84 0.5px,#62ff9d 2.5px,#3affc5 3.5px,#00e9ff 4.5px,#0000fb 6.5px,#0000ac 7.5px,#00009a 8.5px,#0005ff 14.5px,#0044ff 17.5px,#0048ff 18.5px,#006eff 20.5px,#0071ff 22.5px,#0096ff 24.5px,#00c1ff 31.5px,#00efff 35.5px,#05fffa 40.5px,#2cffd3 48.5px,#5effa1 67.5px,#75ff8a 95.5px)"></i><i style="top:37px;background:linear-gradient(90deg,#7bff84 0.5px,#62ff9d 2.5px,#3affc5 3.5px,#00eaff 4.5px,#0000fc 6.5px,#0000ad 7.5px,#00009a 8.5px,#0000d4 12.5px,#0001ff 14.5px,#003fff 17.5px,#0043ff 18.5px,#0069ff 20.5px,#006cff 22.5px,#0091ff 24.5px,#00bdff 31.5px,#00ecff 35.5px,#03fffc 40.5px,#2bffd4 48.5px,#62ff9d 67.5px,#7bff84 95.5px)"></i><i style="top:38px;background:linear-gradient(90deg,#7bff84 0.5px,#62ff9d 2.5px,#3affc5 3.5px,#00e9ff 4.5px,#0000fa 6.5px,#0000ab 7.5px,#000097 8.5px,#0000cc 12.5px,#0000f7 14.5px,#0010ff 15.5px,#005fff 20.5px,#0061ff 22.5px,#0087ff 24.5px,#00b4ff 31.5px,#00e5ff 35.5px,#00e9ff 38.5px,#00fdff 40.5px,#4affb5 57.5px,#65ff9a 67.5px,#83ff7c 95.5px)"></i><i style="top:39px;background:linear-gradient(90deg,#7bff84 0.5px,#62ff9d 2.5px,#39ffc6 3.5px,#00e7ff 4.5px,#0000f5 6.5px,#0000a5 7.5px,#000090 8.5px,#0000cf 13.5px,#0002ff 15.5px,#0050ff 20.5px,#0050ff 22.5px,#0078ff 24.5px,#00a5ff 31.5px,#00d9ff 35.5px,#00ddff 38.5px,#00fcff 42.5px,#4affb5 57.5px,#69ff96 67.5px,#8cff73 95.5px)"></i><i style="top:40px;background:linear-gradient(90deg,#7bff84 0.5px,#62ff9d 2.5px,#39ffc6 3.5px,#00e8ff 4.5px,#0000f8 6.5px,#0000a9 7.5px,#000091 8.5px,#0000bb 12.5px,#0000f9 15.5px,#000dff 16.5px,#001fff 18.5px,#0044ff 20.5px,#0043ff 22.5px,#006bff 24.5px,#008dff 28.5px,#0097ff 31.5px,#00ceff 35.5px,#00d3ff 38.5px,#00ffff 43.5px,#49ffb6 57.5px,#6cff93 67.5px,#86ff79 79.5px,#94ff6b 95.5px)"></i><i style="top:41px;background:linear-gradient(90deg,#7bff84 0.5px,#64ff9b 2.5px,#3fffc0 3.5px,#00f4ff 4.5px,#0018ff 6.5px,#0000ce 7.5px,#0000b8 8.5px,#0000bc 9.5px,#0000e4 13.5px,#0000fa 14.5px,#0052ff 20.5px,#004fff 22.5px,#0075ff 24.5px,#009dff 31.5px,#00d2ff 35.5px,#00d6ff 38.5px,#03fffc 43.5px,#4dffb2 57.5px,#71ff8e 67.5px,#8cff73 79.5px,#9aff65 95.5px)"></i><i style="top:42px;background:linear-gradient(90deg,#7cff83 0.5px,#6aff95 2.5px,#4dffb2 3.5px,#13ffec 4.5px,#00bcff 5.5px,#0066ff 6.5px,#002dff 7.5px,#001bff 8.5px,#0038ff 13.5px,#0065ff 16.5px,#008aff 20.5px,#0086ff 22.5px,#00a4ff 24.5px,#00c3ff 31.5px,#00efff 35.5px,#00fdff 39.5px,#34ffcb 48.5px,#78ff87 67.5px,#9dff62 95.5px)"></i><i style="top:43px;background:linear-gradient(90deg,#7eff81 0.5px,#62ff9d 3.5px,#0ffff0 5.5px,#00dcff 6.5px,#00bbff 7.5px,#00afff 9.5px,#00fcff 27.5px,#72ff8d 59.5px,#92ff6d 76.5px,#9eff61 95.5px)"></i><i style="top:44px;background:linear-gradient(90deg,#7fff80 0.5px,#7aff85 3.5px,#53ffac 9.5px,#47ffb8 22.5px,#8bff74 63.5px,#9fff60 95.5px)"></i><i style="top:45px;background:linear-gradient(90deg,#81ff7e 0.5px,#91ff6e 3.5px,#e2ff1d 6.5px,#f6ff09 7.5px,#f8ff07 8.5px,#a9ff56 20.5px,#8eff71 32.5px,#a1ff5e 95.5px)"></i><i style="top:46px;background:linear-gradient(90deg,#82ff7d 0.5px,#8fff70 2.5px,#a6ff59 3.5px,#d1ff2e 4.5px,#ffeb00 5.5px,#ffaa00 6.5px,#ff7e00 7.5px,#ff7700 8.5px,#ffdf00 16.5px,#f9ff06 20.5px,#b5ff4a 35.5px,#a4ff5b 95.5px)"></i><i style="top:47px;background:linear-gradient(90deg,#83ff7c 0.5px,#96ff69 2.5px,#b4ff4b 3.5px,#f0ff0f 4.5px,#ff5a00 6.5px,#ff1e00 7.5px,#ff1300 8.5px,#ffac00 17.5px,#ffd100 20.5px,#fffd00 26.5px,#d0ff2f 35.5px,#c4ff3b 43.5px,#a7ff58 95.5px)"></i><i style="top:48px;background:linear-gradient(90deg,#83ff7c 0.5px,#99ff66 2.5px,#bcff43 3.5px,#fffc00 4.5px,#ff2d00 6.5px,#e70000 7.5px,#da0000 8.5px,#fe0000 10.5px,#ff3300 13.5px,#ff7a00 16.5px,#ffb500 20.5px,#fffe00 29.5px,#dfff20 35.5px,#c9ff36 48.5px,#acff53 78.5px,#aaff55 95.5px)"></i><i style="top:49px;background:linear-gradient(90deg,#84ff7b 0.5px,#9bff64 2.5px,#c0ff3f 3.5px,#fff300 4.5px,#ff1600 6.5px,#cb0000 7.5px,#be0000 8.5px,#ff0a00 12.5px,#ff6a00 16.5px,#ffa900 20.5px,#ffb200 22.5px,#ffd300 24.5px,#fff100 28.5px,#f8ff07 32.5px,#e6ff19 35.5px,#b8ff47 67.5px,#adff52 95.5px)"></i><i style="top:50px;background:linear-gradient(90deg,#84ff7b 0.5px,#9cff63 2.5px,#c2ff3d 3.5px,#ffef00 4.5px,#ff0a00 6.5px,#bd0000 7.5px,#b00000 8.5px,#ff0100 12.5px,#ff6400 16.5px,#ffa500 20.5px,#ffad00 22.5px,#ffcf00 24.5px,#ffed00 28.5px,#fcff03 32.5px,#eaff15 35.5px,#bbff44 67.5px,#afff50 95.5px)"></i><i style="top:51px;background:linear-gradient(90deg,#84ff7b 0.5px,#9cff63 2.5px,#c3ff3c 3.5px,#ffee00 4.5px,#ff0700 6.5px,#b80000 7.5px,#ac0000 8.5px,#ff0000 12.5px,#ff6500 16.5px,#ffa600 20.5px,#ffaf00 22.5px,#ffd000 24.5px,#ffee00 28.5px,#fcff03 32.5px,#ebff14 35.5px,#dbff24 53.5px,#beff41 67.5px,#b0ff4f 95.5px)"></i><i style="top:52px;background:linear-gradient(90deg,#84ff7b 0.5px,#9bff64 2.5px,#c2ff3d 3.5px,#ffef00 4.5px,#ff0b00 6.5px,#be0000 7.5px,#b30000 8.5px,#ff0800 12.5px,#ff6c00 16.5px,#ffac00 20.5px,#fff100 28.5px,#faff05 32.5px,#eaff15 35.5px,#deff21 53.5px,#bfff40 67.5px,#b1ff4e 95.5px)"></i><i style="top:53px;background:linear-gradient(90deg,#84ff7b 0.5px,#9bff64 2.5px,#c1ff3e 3.5px,#fff200 4.5px,#ff1200 6.5px,#c60000 7.5px,#bb0000 8.5px,#fc0000 11.5px,#ff7500 16.5px,#ffb400 20.5px,#fff900 29.5px,#e8ff17 35.5px,#dfff20 53.5px,#c0ff3f 67.5px,#b1ff4e 95.5px)"></i><i style="top:54px;background:linear-gradient(90deg,#84ff7b 0.5px,#9aff65 2.5px,#c0ff3f 3.5px,#fff400 4.5px,#ff1900 6.5px,#ce0000 7.5px,#c50000 8.5px,#ff0800 11.5px,#ff7f00 16.5px,#ffbc00 20.5px,#fffb00 28.5px,#feff01 31.5px,#e6ff19 35.5px,#e1ff1e 53.5px,#c0ff3f 67.5px,#b2ff4d 95.5px)"></i><i style="top:55px;background:linear-gradient(90deg,#84ff7b 0.5px,#9aff65 2.5px,#beff41 3.5px,#fff700 4.5px,#ff2000 6.5px,#d70000 7.5px,#cf0000 8.5px,#fe0000 10.5px,#ff8900 16.5px,#ffc500 20.5px,#fdff02 28.5px,#e3ff1c 35.5px,#e3ff1c 51.5px,#c1ff3e 67.5px,#b2ff4d 95.5px)"></i><i style="top:56px;background:linear-gradient(90deg,#84ff7b 0.5px,#99ff66 2.5px,#bdff42 3.5px,#fffa00 4.5px,#ff2800 6.5px,#e10000 7.5px,#da0000 8.5px,#ff0b00 10.5px,#ff9400 16.5px,#ffce00 20.5px,#feff01 27.5px,#e0ff1f 35.5px,#e3ff1c 51.5px,#beff41 70.5px,#b2ff4d 95.5px)"></i><i style="top:57px;background:linear-gradient(90deg,#83ff7c 0.5px,#99ff66 2.5px,#bbff44 3.5px,#fffe00 4.5px,#ff3000 6.5px,#eb0000 7.5px,#e50000 8.5px,#fb0000 9.5px,#ffb000 17.5px,#ffd700 20.5px,#fffe00 25.5px,#ddff22 35.5px,#e2ff1d 52.5px,#beff41 70.5px,#b2ff4d 95.5px)"></i><i style="top:58px;background:linear-gradient(90deg,#83ff7c 0.5px,#98ff67 2.5px,#baff45 3.5px,#fdff02 4.5px,#ff3900 6.5px,#f50000 7.5px,#f10000 8.5px,#ff0800 9.5px,#ffbb00 17.5px,#feff01 24.5px,#daff25 35.5px,#e2ff1d 52.5px,#b5ff4a 78.5px,#b2ff4d 95.5px)"></i><i style="top:59px;background:linear-gradient(90deg,#83ff7c 0.5px,#97ff68 2.5px,#b8ff47 3.5px,#faff05 4.5px,#ff4100 6.5px,#ff0000 7.5px,#fd0000 8.5px,#ffb700 16.5px,#ffeb00 20.5px,#fffd00 23.5px,#d6ff29 35.5px,#e1ff1e 52.5px,#b5ff4a 78.5px,#b2ff4d 95.5px)"></i><i style="top:60px;background:linear-gradient(90deg,#83ff7c 0.5px,#97ff68 2.5px,#b7ff48 3.5px,#f6ff09 4.5px,#ff4a00 6.5px,#ff0b00 7.5px,#ff0a00 8.5px,#ffc300 16.5px,#fff400 20.5px,#f9ff06 23.5px,#e0ff1f 28.5px,#d3ff2c 35.5px,#dfff20 52.5px,#b4ff4b 78.5px,#b2ff4d 95.5px)"></i><i style="top:61px;background:linear-gradient(90deg,#83ff7c 0.5px,#96ff69 2.5px,#b5ff4a 3.5px,#f3ff0c 4.5px,#ff5400 6.5px,#ff1600 7.5px,#ff1600 8.5px,#ffcf00 16.5px,#fffe00 20.5px,#daff25 28.5px,#cfff30 35.5px,#ddff22 52.5px,#b4ff4b 78.5px,#b2ff4d 95.5px)"></i><i style="top:62px;background:linear-gradient(90deg,#83ff7c 0.5px,#95ff6a 2.5px,#b3ff4c 3.5px,#efff10 4.5px,#ff5d00 6.5px,#ff2200 7.5px,#ff2300 8.5px,#ffc900 15.5px,#fffd00 19.5px,#e0ff1f 24.5px,#ccff33 35.5px,#dbff24 52.5px,#b4ff4b 78.5px,#b2ff4d 95.5px)"></i><i style="top:63px;background:linear-gradient(90deg,#83ff7c 0.5px,#95ff6a 2.5px,#b2ff4d 3.5px,#ebff14 4.5px,#ffbc00 5.5px,#ff6600 6.5px,#ff2d00 7.5px,#ff3100 8.5px,#ffd600 15.5px,#fff400 17.5px,#f7ff08 19.5px,#d9ff26 24.5px,#c8ff37 35.5px,#d9ff26 52.5px,#b4ff4b 78.5px,#b1ff4e 95.5px)"></i><i style="top:64px;background:linear-gradient(90deg,#83ff7c 0.5px,#94ff6b 2.5px,#b0ff4f 3.5px,#e8ff17 4.5px,#ffc300 5.5px,#ff7000 6.5px,#ff3900 7.5px,#ff3e00 8.5px,#ff7800 10.5px,#ffd000 14.5px,#ffff00 17.5px,#e4ff1b 20.5px,#caff35 28.5px,#d5ff2a 53.5px,#b3ff4c 78.5px,#b1ff4e 95.5px)"></i><i style="top:65px;background:linear-gradient(90deg,#83ff7c 0.5px,#93ff6c 2.5px,#aeff51 3.5px,#e4ff1b 4.5px,#ffca00 5.5px,#ff7a00 6.5px,#ff4500 7.5px,#ff4c00 8.5px,#ff9f00 11.5px,#ffff00 16.5px,#dcff23 20.5px,#c5ff3a 28.5px,#d3ff2c 53.5px,#b3ff4c 78.5px,#b1ff4e 95.5px)"></i><i style="top:66px;background:linear-gradient(90deg,#82ff7d 0.5px,#92ff6d 2.5px,#acff53 3.5px,#e0ff1f 4.5px,#ffd100 5.5px,#ff8500 6.5px,#ff5100 7.5px,#ff5b00 8.5px,#ff9700 10.5px,#ffec00 14.5px,#f4ff0b 16.5px,#d3ff2c 20.5px,#c1ff3e 28.5px,#d0ff2f 53.5px,#b2ff4d 78.5px,#b1ff4e 95.5px)"></i><i style="top:67px;background:linear-gradient(90deg,#82ff7d 0.5px,#92ff6d 2.5px,#aaff55 3.5px,#dcff23 4.5px,#ffd900 5.5px,#ff8f00 6.5px,#ff5e00 7.5px,#ff6a00 8.5px,#ffd400 12.5px,#fffa00 14.5px,#f5ff0a 15.5px,#ccff33 20.5px,#bfff40 25.5px,#ccff33 53.5px,#b2ff4d 78.5px,#b0ff4f 95.5px)"></i><i style="top:68px;background:linear-gradient(90deg,#82ff7d 0.5px,#91ff6e 2.5px,#a9ff56 3.5px,#d8ff27 4.5px,#ffe000 5.5px,#ff9a00 6.5px,#ff6b00 7.5px,#ff7900 8.5px,#ffcf00 11.5px,#f7ff08 14.5px,#d5ff2a 17.5px,#bcff43 24.5px,#c9ff36 53.5px,#b8ff47 67.5px,#b0ff4f 95.5px)"></i><i style="top:69px;background:linear-gradient(90deg,#82ff7d 0.5px,#90ff6f 2.5px,#a7ff58 3.5px,#d3ff2c 4.5px,#ffe800 5.5px,#ffa500 6.5px,#ff7800 7.5px,#ff8900 8.5px,#ffe000 11.5px,#faff05 13.5px,#ccff33 17.5px,#b8ff47 24.5px,#c6ff39 53.5px,#b0ff4f 95.5px)"></i><i style="top:70px;background:linear-gradient(90deg,#82ff7d 0.5px,#8fff70 2.5px,#a5ff5a 3.5px,#ffef00 5.5px,#ffb000 6.5px,#ff8600 7.5px,#ffda00 10.5px,#fcff03 12.5px,#c4ff3b 17.5px,#b5ff4a 24.5px,#c3ff3c 53.5px,#afff50 95.5px)"></i><i style="top:71px;background:linear-gradient(90deg,#82ff7d 0.5px,#8eff71 2.5px,#a3ff5c 3.5px,#fff700 5.5px,#ffbb00 6.5px,#ff9300 7.5px,#feff01 11.5px,#c9ff36 15.5px,#b5ff4a 20.5px,#c0ff3f 53.5px,#aeff51 95.5px)"></i><i style="top:72px;background:linear-gradient(90deg,#82ff7d 0.5px,#a1ff5e 3.5px,#c7ff38 4.5px,#ffff00 5.5px,#ffc600 6.5px,#ffa000 7.5px,#fffb00 10.5px,#efff10 11.5px,#c1ff3e 15.5px,#b1ff4e 20.5px,#bdff42 53.5px,#adff52 95.5px)"></i><i style="top:73px;background:linear-gradient(90deg,#82ff7d 0.5px,#9fff60 3.5px,#f8ff07 5.5px,#ffd100 6.5px,#ffad00 7.5px,#ffee00 9.5px,#f4ff0b 10.5px,#c1ff3e 14.5px,#afff50 20.5px,#b9ff46 53.5px,#acff53 95.5px)"></i><i style="top:74px;background:linear-gradient(90deg,#81ff7e 0.5px,#9dff62 3.5px,#f1ff0e 5.5px,#ffdb00 6.5px,#ffba00 7.5px,#fffe00 9.5px,#d5ff2a 11.5px,#c2ff3d 13.5px,#adff52 20.5px,#b6ff49 53.5px,#abff54 95.5px)"></i><i style="top:75px;background:linear-gradient(90deg,#81ff7e 0.5px,#9bff64 3.5px,#ebff14 5.5px,#ffe400 6.5px,#ffc400 7.5px,#f4ff0b 9.5px,#c5ff3a 12.5px,#acff53 20.5px,#aaff55 95.5px)"></i><i style="top:76px;background:linear-gradient(90deg,#81ff7e 0.5px,#9aff65 3.5px,#e7ff18 5.5px,#ffe900 6.5px,#ffca00 7.5px,#f3ff0c 9.5px,#ceff31 11.5px,#beff41 13.5px,#aaff55 20.5px,#a8ff57 95.5px)"></i><i style="top:77px;background:linear-gradient(90deg,#81ff7e 0.5px,#99ff66 3.5px,#e3ff1c 5.5px,#ffef00 6.5px,#ffd200 7.5px,#f1ff0e 9.5px,#ceff31 11.5px,#beff41 13.5px,#a9ff56 20.5px,#a6ff59 95.5px)"></i><i style="top:78px;background:linear-gradient(90deg,#81ff7e 0.5px,#98ff67 3.5px,#fff500 6.5px,#ffd900 7.5px,#efff10 9.5px,#cdff32 11.5px,#b6ff49 14.5px,#a7ff58 20.5px,#a4ff5b 95.5px)"></i><i style="top:79px;background:linear-gradient(90deg,#81ff7e 0.5px,#97ff68 3.5px,#fffc00 6.5px,#ffe100 7.5px,#fff800 8.5px,#ecff13 9.5px,#bcff43 13.5px,#a5ff5a 20.5px,#a1ff5e 95.5px)"></i><i style="top:80px;background:linear-gradient(90deg,#81ff7e 0.5px,#96ff69 3.5px,#fbff04 6.5px,#ffea00 7.5px,#fffd00 8.5px,#d6ff29 10.5px,#c1ff3e 12.5px,#a3ff5c 20.5px,#9fff60 95.5px)"></i><i style="top:81px;background:linear-gradient(90deg,#81ff7e 0.5px,#94ff6b 3.5px,#f5ff0a 6.5px,#fff200 7.5px,#fbff04 8.5px,#d3ff2c 10.5px,#bfff40 12.5px,#a0ff5f 20.5px,#9cff63 95.5px)"></i><i style="top:82px;background:linear-gradient(90deg,#81ff7e 0.5px,#93ff6c 3.5px,#eeff11 6.5px,#fff900 7.5px,#bcff43 12.5px,#9eff61 20.5px,#99ff66 95.5px)"></i><i style="top:83px;background:linear-gradient(90deg,#81ff7e 0.5px,#92ff6d 3.5px,#feff01 7.5px,#baff45 12.5px,#9bff64 20.5px,#97ff68 95.5px)"></i><i style="top:84px;background:linear-gradient(90deg,#81ff7e 0.5px,#91ff6e 3.5px,#f8ff07 7.5px,#b7ff48 12.5px,#98ff67 20.5px,#94ff6b 95.5px)"></i><i style="top:85px;background:linear-gradient(90deg,#81ff7e 0.5px,#91ff6e 3.5px,#f3ff0c 7.5px,#b4ff4b 12.5px,#96ff69 20.5px,#91ff6e 95.5px)"></i><i style="top:86px;background:linear-gradient(90deg,#81ff7e 0.5px,#90ff6f 3.5px,#eeff11 7.5px,#b2ff4d 12.5px,#93ff6c 20.5px,#8fff70 95.5px)"></i><i style="top:87px;background:linear-gradient(90deg,#81ff7e 0.5px,#8fff70 3.5px,#eaff15 7.5px,#a9ff56 13.5px,#91ff6e 20.5px,#8cff73 95.5px)"></i><i style="top:88px;background:linear-gradient(90deg,#81ff7e 0.5px,#8fff70 3.5px,#e7ff18 7.5px,#a7ff58 13.5px,#8fff70 20.5px,#8aff75 95.5px)"></i><i style="top:89px;background:linear-gradient(90deg,#80ff7f 0.5px,#8fff70 3.5px,#e4ff1b 7.5px,#a5ff5a 13.5px,#8eff71 20.5px,#89ff76 95.5px)"></i><i style="top:90px;background:linear-gradient(90deg,#80ff7f 0.5px,#8eff71 3.5px,#e2ff1d 7.5px,#a3ff5c 13.5px,#8cff73 20.5px,#87ff78 95.5px)"></i><i style="top:91px;background:linear-gradient(90deg,#80ff7f 0.5px,#8eff71 3.5px,#e0ff1f 7.5px,#a2ff5d 13.5px,#8bff74 20.5px,#86ff79 95.5px)"></i><i style="top:92px;background:linear-gradient(90deg,#80ff7f 0.5px,#8eff71 3.5px,#deff21 7.5px,#a1ff5e 13.5px,#8aff75 20.5px,#85ff7a 95.5px)"></i><i style="top:93px;background:linear-gradient(90deg,#80ff7f 0.5px,#8dff72 3.5px,#ddff22 7.5px,#a0ff5f 13.5px,#89ff76 20.5px,#84ff7b 95.5px)"></i><i style="top:94px;background:linear-gradient(90deg,#80ff7f 0.5px,#8dff72 3.5px,#dcff23 7.5px,#9fff60 13.5px,#88ff77 20.5px,#83ff7c 95.5px)"></i><i style="top:95px;background:linear-gradient(90deg,#80ff7f 0.5px,#8dff72 3.5px,#dbff24 7.5px,#9eff61 13.5px,#87ff78 20.5px,#82ff7d 95.5px)"></i><i style="top:96px;background:linear-gradient(90deg,#80ff7f 0.5px,#8dff72 3.5px,#dbff24 7.5px,#9eff61 13.5px,#87ff78 20.5px,#82ff7d 95.5px)"></i></div><div class="hm" style="left:386px;top:141px;width:96px;height:97px;filter:blur(0.45px)"><i style="top:0px;background:linear-gradient(90deg,#80ff7f 0.5px,#84ff7b 95.5px)"></i><i style="top:1px;background:linear-gradient(90deg,#80ff7f 0.5px,#86ff79 95.5px)"></i><i style="top:2px;background:linear-gradient(90deg,#80ff7f 0.5px,#88ff77 95.5px)"></i><i style="top:3px;background:linear-gradient(90deg,#80ff7f 0.5px,#8aff75 10.5px,#8aff75 95.5px)"></i><i style="top:4px;background:linear-gradient(90deg,#80ff7f 0.5px,#8dff72 10.5px,#8dff72 95.5px)"></i><i style="top:5px;background:linear-gradient(90deg,#80ff7f 0.5px,#90ff6f 10.5px,#91ff6e 95.5px)"></i><i style="top:6px;background:linear-gradient(90deg,#80ff7f 0.5px,#95ff6a 10.5px,#96ff69 95.5px)"></i><i style="top:7px;background:linear-gradient(90deg,#80ff7f 0.5px,#9aff65 10.5px,#9bff64 95.5px)"></i><i style="top:8px;background:linear-gradient(90deg,#80ff7f 0.5px,#a1ff5e 10.5px,#a2ff5d 95.5px)"></i><i style="top:9px;background:linear-gradient(90deg,#80ff7f 0.5px,#a8ff57 10.5px,#a9ff56 95.5px)"></i><i style="top:10px;background:linear-gradient(90deg,#80ff7f 0.5px,#84ff7b 3.5px,#abff54 7.5px,#b0ff4f 10.5px,#b1ff4e 95.5px)"></i><i style="top:11px;background:linear-gradient(90deg,#80ff7f 0.5px,#85ff7a 3.5px,#b3ff4c 7.5px,#b8ff47 10.5px,#baff45 95.5px)"></i><i style="top:12px;background:linear-gradient(90deg,#80ff7f 0.5px,#86ff79 3.5px,#bbff44 7.5px,#c1ff3e 10.5px,#c3ff3c 95.5px)"></i><i style="top:13px;background:linear-gradient(90deg,#80ff7f 0.5px,#86ff79 3.5px,#c3ff3c 7.5px,#caff35 10.5px,#cfff30 24.5px,#c2ff3d 33.5px,#d1ff2e 36.5px,#c5ff3a 51.5px,#d0ff2f 69.5px,#c2ff3d 82.5px,#ceff31 85.5px,#ccff33 95.5px)"></i><i style="top:14px;background:linear-gradient(90deg,#80ff7f 0.5px,#87ff78 3.5px,#caff35 7.5px,#d2ff2d 10.5px,#d8ff27 24.5px,#c9ff36 33.5px,#daff25 36.5px,#cdff32 51.5px,#d9ff26 69.5px,#c9ff36 82.5px,#d6ff29 85.5px,#d5ff2a 95.5px)"></i><i style="top:15px;background:linear-gradient(90deg,#80ff7f 0.5px,#88ff77 3.5px,#d1ff2e 7.5px,#d9ff26 10.5px,#e0ff1f 24.5px,#d0ff2f 33.5px,#e3ff1c 36.5px,#d4ff2b 51.5px,#e2ff1d 69.5px,#d0ff2f 82.5px,#dfff20 85.5px,#d5ff2a 87.5px,#dcff23 95.5px)"></i><i style="top:16px;background:linear-gradient(90deg,#80ff7f 0.5px,#88ff77 3.5px,#d7ff28 7.5px,#e0ff1f 10.5px,#e7ff18 24.5px,#d6ff29 33.5px,#eaff15 36.5px,#dbff24 51.5px,#e9ff16 69.5px,#d6ff29 82.5px,#e6ff19 85.5px,#dbff24 87.5px,#e3ff1c 95.5px)"></i><i style="top:17px;background:linear-gradient(90deg,#80ff7f 0.5px,#89ff76 3.5px,#ddff22 7.5px,#e6ff19 10.5px,#eeff11 24.5px,#dcff23 33.5px,#f1ff0e 36.5px,#e0ff1f 51.5px,#f0ff0f 69.5px,#dcff23 82.5px,#ecff13 85.5px,#e1ff1e 87.5px,#eaff15 95.5px)"></i><i style="top:18px;background:linear-gradient(90deg,#80ff7f 0.5px,#89ff76 3.5px,#e1ff1e 7.5px,#ebff14 10.5px,#e7ff18 20.5px,#f3ff0c 24.5px,#e1ff1e 33.5px,#f7ff08 36.5px,#e9ff16 40.5px,#f1ff0e 49.5px,#e6ff19 51.5px,#f8ff07 60.5px,#eaff15 63.5px,#f7ff08 69.5px,#e1ff1e 82.5px,#f3ff0c 85.5px,#e7ff18 87.5px,#f0ff0f 95.5px)"></i><i style="top:19px;background:linear-gradient(90deg,#80ff7f 0.5px,#8aff75 3.5px,#e5ff1a 7.5px,#efff10 10.5px,#ecff13 20.5px,#f8ff07 24.5px,#e5ff1a 33.5px,#fdff02 36.5px,#efff10 40.5px,#f7ff08 49.5px,#ebff14 51.5px,#feff01 60.5px,#f0ff0f 63.5px,#fdff02 69.5px,#f7ff08 78.5px,#e7ff18 82.5px,#f9ff06 85.5px,#ecff13 87.5px,#f6ff09 95.5px)"></i><i style="top:20px;background:linear-gradient(90deg,#80ff7f 0.5px,#8aff75 3.5px,#e8ff17 7.5px,#f2ff0d 10.5px,#f0ff0f 20.5px,#fdff02 24.5px,#f7ff08 31.5px,#eaff15 33.5px,#fffb00 36.5px,#f2ff0d 42.5px,#fdff02 49.5px,#f2ff0d 51.5px,#fffe00 72.5px,#feff01 78.5px,#edff12 82.5px,#fffe00 85.5px,#f3ff0c 87.5px,#fdff02 95.5px)"></i><i style="top:21px;background:linear-gradient(90deg,#80ff7f 0.5px,#8aff75 3.5px,#ebff14 7.5px,#f5ff0a 10.5px,#fffe00 26.5px,#fcff03 31.5px,#efff10 33.5px,#fff500 36.5px,#ffff00 38.5px,#fbff04 56.5px,#fff000 60.5px,#feff01 63.5px,#fff100 69.5px,#fdff02 76.5px,#f4ff0b 82.5px,#fff900 95.5px)"></i><i style="top:22px;background:linear-gradient(90deg,#80ff7f 0.5px,#8bff74 3.5px,#edff12 7.5px,#f8ff07 10.5px,#faff05 34.5px,#ffee00 36.5px,#fffe00 42.5px,#fff100 49.5px,#fffe00 51.5px,#fffc00 56.5px,#ffe700 60.5px,#fff800 63.5px,#ffe800 69.5px,#fbff04 82.5px,#ffec00 85.5px,#fffc00 87.5px,#fff000 95.5px)"></i><i style="top:23px;background:linear-gradient(90deg,#80ff7f 0.5px,#8bff74 3.5px,#efff10 7.5px,#faff05 10.5px,#feff01 23.5px,#fff400 24.5px,#ffff00 34.5px,#ffe700 36.5px,#fff800 42.5px,#ffe900 49.5px,#fff700 51.5px,#fff400 56.5px,#ffde00 60.5px,#fff000 63.5px,#ffde00 69.5px,#fff000 76.5px,#ffe600 78.5px,#fffb00 82.5px,#ffe300 85.5px,#fff400 87.5px,#ffe700 95.5px)"></i><i style="top:24px;background:linear-gradient(90deg,#80ff7f 0.5px,#8bff74 3.5px,#f1ff0e 7.5px,#fcff03 10.5px,#fffd00 23.5px,#fff100 24.5px,#fffc00 29.5px,#fff300 31.5px,#fdff02 33.5px,#ffe200 36.5px,#fff200 42.5px,#ffe200 49.5px,#fff100 51.5px,#ffed00 56.5px,#ffd600 60.5px,#ffe900 63.5px,#ffe600 67.5px,#ffd700 69.5px,#ffe900 76.5px,#ffdf00 78.5px,#fff500 82.5px,#ffdc00 85.5px,#ffed00 87.5px,#ffe000 95.5px)"></i><i style="top:25px;background:linear-gradient(90deg,#80ff7f 0.5px,#8bff74 3.5px,#f2ff0d 7.5px,#feff01 10.5px,#feff01 20.5px,#ffee00 24.5px,#fff900 29.5px,#fff000 31.5px,#ffff00 33.5px,#ffde00 36.5px,#ffef00 42.5px,#ffdf00 49.5px,#ffed00 51.5px,#ffea00 56.5px,#ffd200 60.5px,#ffe500 63.5px,#ffe200 67.5px,#ffd200 69.5px,#ffe500 76.5px,#ffdb00 78.5px,#fff100 82.5px,#ffd800 85.5px,#ffe900 87.5px,#ffdb00 95.5px)"></i><i style="top:26px;background:linear-gradient(90deg,#80ff7f 0.5px,#8bff74 3.5px,#f3ff0c 7.5px,#fffe00 10.5px,#fff500 17.5px,#fffe00 20.5px,#ffed00 24.5px,#fff800 29.5px,#ffef00 31.5px,#fffe00 33.5px,#ffdd00 36.5px,#ffee00 42.5px,#ffde00 49.5px,#ffec00 51.5px,#ffe900 56.5px,#ffd100 60.5px,#ffe400 63.5px,#ffe100 67.5px,#ffd200 69.5px,#ffe500 76.5px,#ffda00 78.5px,#fff000 82.5px,#ffd700 85.5px,#ffe800 87.5px,#ffdb00 95.5px)"></i><i style="top:27px;background:linear-gradient(90deg,#80ff7f 0.5px,#8bff74 3.5px,#f5ff0a 7.5px,#ffff00 9.5px,#fff300 17.5px,#fffd00 20.5px,#ffec00 24.5px,#fff800 29.5px,#ffef00 31.5px,#fffe00 33.5px,#ffde00 36.5px,#ffef00 42.5px,#ffdf00 49.5px,#ffee00 51.5px,#ffeb00 56.5px,#ffd300 60.5px,#ffe600 63.5px,#ffe300 67.5px,#ffd400 69.5px,#ffe600 76.5px,#ffdc00 78.5px,#fff200 82.5px,#ffd900 85.5px,#ffea00 87.5px,#ffdc00 95.5px)"></i><i style="top:28px;background:linear-gradient(90deg,#80ff7f 0.5px,#8cff73 3.5px,#9fff60 4.5px,#e3ff1c 6.5px,#ffff00 8.5px,#fff100 17.5px,#fffc00 20.5px,#ffeb00 24.5px,#fff700 29.5px,#ffef00 31.5px,#fffe00 33.5px,#ffdf00 36.5px,#fff100 42.5px,#ffe200 49.5px,#fff000 51.5px,#ffed00 56.5px,#ffd600 60.5px,#ffe900 63.5px,#ffe600 67.5px,#ffd700 69.5px,#ffe900 76.5px,#ffdf00 78.5px,#fff500 82.5px,#ffdc00 85.5px,#ffed00 87.5px,#ffdf00 95.5px)"></i><i style="top:29px;background:linear-gradient(90deg,#80ff7f 0.5px,#8cff73 3.5px,#a0ff5f 4.5px,#e6ff19 6.5px,#fffb00 8.5px,#ffee00 17.5px,#fff900 20.5px,#ffe800 24.5px,#fff600 29.5px,#ffee00 31.5px,#fffd00 33.5px,#ffde00 36.5px,#fff000 40.5px,#ffe300 49.5px,#fff100 51.5px,#ffef00 56.5px,#ffd800 60.5px,#ffeb00 63.5px,#ffe800 67.5px,#ffd900 69.5px,#ffeb00 76.5px,#ffe100 78.5px,#fff600 82.5px,#ffdd00 85.5px,#ffee00 87.5px,#ffe100 95.5px)"></i><i style="top:30px;background:linear-gradient(90deg,#80ff7f 0.5px,#8cff73 3.5px,#fffe00 7.5px,#ffe800 17.5px,#fff100 23.5px,#ffe400 24.5px,#fff200 29.5px,#ffea00 31.5px,#fffa00 33.5px,#ffdb00 36.5px,#ffed00 40.5px,#ffe100 49.5px,#fff000 51.5px,#ffed00 56.5px,#ffd600 60.5px,#ffe900 63.5px,#ffe600 67.5px,#ffd700 69.5px,#ffe900 76.5px,#ffdf00 78.5px,#fff500 82.5px,#ffdc00 85.5px,#ffed00 87.5px,#ffdf00 95.5px)"></i><i style="top:31px;background:linear-gradient(90deg,#80ff7f 0.5px,#8dff72 3.5px,#a3ff5c 4.5px,#f0ff0f 6.5px,#fff700 7.5px,#ffe000 17.5px,#ffe900 23.5px,#ffdc00 24.5px,#ffec00 29.5px,#ffe300 31.5px,#fff500 33.5px,#ffd500 36.5px,#ffe800 40.5px,#ffdc00 49.5px,#ffeb00 51.5px,#ffe800 56.5px,#ffd000 60.5px,#ffe400 63.5px,#ffe100 67.5px,#ffd100 69.5px,#ffe400 76.5px,#ffd900 78.5px,#ffef00 82.5px,#ffd600 85.5px,#ffe700 87.5px,#ffd900 95.5px)"></i><i style="top:32px;background:linear-gradient(90deg,#80ff7f 0.5px,#8eff71 3.5px,#a6ff59 4.5px,#f8ff07 6.5px,#ffee00 7.5px,#ffd500 17.5px,#ffdf00 23.5px,#ffd100 24.5px,#ffe200 29.5px,#ffd900 31.5px,#ffec00 33.5px,#ffca00 36.5px,#ffde00 40.5px,#ffd200 49.5px,#ffe200 51.5px,#ffdf00 56.5px,#ffc600 60.5px,#ffda00 63.5px,#ffd700 67.5px,#ffc600 69.5px,#ffda00 76.5px,#ffcf00 78.5px,#ffe600 82.5px,#ffca00 85.5px,#ffdd00 87.5px,#ffd200 88.5px,#ffcd00 95.5px)"></i><i style="top:33px;background:linear-gradient(90deg,#80ff7f 0.5px,#8fff70 3.5px,#a9ff56 4.5px,#fffd00 6.5px,#ffd700 8.5px,#ffc800 17.5px,#ffd600 20.5px,#ffd200 23.5px,#ffc300 24.5px,#ffd500 29.5px,#ffcc00 31.5px,#ffe000 33.5px,#ffbb00 36.5px,#ffd100 40.5px,#ffc400 49.5px,#ffd500 51.5px,#ffd200 56.5px,#ffb700 60.5px,#ffcd00 63.5px,#ffc900 67.5px,#ffb700 69.5px,#ffcc00 76.5px,#ffc000 78.5px,#ffd900 82.5px,#ffbb00 85.5px,#ffcf00 87.5px,#ffc300 88.5px,#ffbe00 95.5px)"></i><i style="top:34px;background:linear-gradient(90deg,#80ff7f 0.5px,#91ff6e 3.5px,#adff52 4.5px,#dcff23 5.5px,#fff100 6.5px,#ffc900 8.5px,#ffc600 14.5px,#ffb700 17.5px,#ffc700 20.5px,#ffc300 23.5px,#ffb200 24.5px,#ffb900 28.5px,#ffc600 29.5px,#ffbc00 31.5px,#ffd200 33.5px,#ffaa00 36.5px,#ffc200 40.5px,#ffb300 49.5px,#ffc600 51.5px,#ffbb00 53.5px,#ffc200 56.5px,#ffa400 60.5px,#ffbc00 63.5px,#ffb800 67.5px,#ffa400 69.5px,#ffbb00 76.5px,#ffad00 78.5px,#ffc900 82.5px,#ffa800 85.5px,#ffbe00 87.5px,#ffb000 88.5px,#ffaa00 95.5px)"></i><i style="top:35px;background:linear-gradient(90deg,#80ff7f 0.5px,#92ff6d 3.5px,#b0ff4f 4.5px,#e4ff1b 5.5px,#ffe500 6.5px,#ffc500 7.5px,#ffb900 8.5px,#ffb600 14.5px,#ffa600 17.5px,#ffb700 20.5px,#ffb200 23.5px,#ff9f00 24.5px,#ffa700 28.5px,#ffb600 29.5px,#ffaa00 31.5px,#ffc200 33.5px,#ff9600 36.5px,#ffb000 40.5px,#ffa000 49.5px,#ffb400 51.5px,#ffa900 53.5px,#ffb000 56.5px,#ff8f00 60.5px,#ffaa00 63.5px,#ffa500 67.5px,#ff8f00 69.5px,#ffa700 76.5px,#ff9800 78.5px,#ffb700 82.5px,#ff9200 85.5px,#ffaa00 87.5px,#ff9b00 88.5px,#ff9500 95.5px)"></i><i style="top:36px;background:linear-gradient(90deg,#80ff7f 0.5px,#94ff6b 3.5px,#b4ff4b 4.5px,#edff12 5.5px,#ffd900 6.5px,#ffb700 7.5px,#ffa900 8.5px,#ffa600 14.5px,#ff9400 17.5px,#ffa600 20.5px,#ffa100 23.5px,#ff8d00 24.5px,#ff9c00 27.5px,#ff9500 28.5px,#ffa500 29.5px,#ff9800 31.5px,#ffb200 33.5px,#ff8200 36.5px,#ff9f00 40.5px,#ff8c00 49.5px,#ffa300 51.5px,#ff9600 53.5px,#ff9e00 56.5px,#ff7a00 60.5px,#ff9700 63.5px,#ff8900 66.5px,#ff9100 67.5px,#ff7900 69.5px,#ff9400 76.5px,#ff8400 78.5px,#ffa500 82.5px,#ff7c00 85.5px,#ff9700 87.5px,#ff8600 88.5px,#ff7f00 95.5px)"></i><i style="top:37px;background:linear-gradient(90deg,#80ff7f 0.5px,#95ff6a 3.5px,#b8ff47 4.5px,#f4ff0b 5.5px,#ffcd00 6.5px,#ffa900 7.5px,#ff9b00 8.5px,#ff9700 14.5px,#ff8400 17.5px,#ff9700 20.5px,#ff9200 23.5px,#ff7c00 24.5px,#ff8c00 27.5px,#ff8500 28.5px,#ff9500 29.5px,#ff8800 31.5px,#ffa300 33.5px,#ff7000 36.5px,#ff8e00 40.5px,#ff7b00 49.5px,#ff9300 51.5px,#ff8500 53.5px,#ff8e00 56.5px,#ff6600 60.5px,#ff8500 63.5px,#ff7700 66.5px,#ff8000 67.5px,#ff6500 69.5px,#ff8200 76.5px,#ff7000 78.5px,#ff9400 82.5px,#ff6900 85.5px,#ff8500 87.5px,#ff7300 88.5px,#ff6b00 95.5px)"></i><i style="top:38px;background:linear-gradient(90deg,#80ff7f 0.5px,#96ff69 3.5px,#bbff44 4.5px,#faff05 5.5px,#ffc400 6.5px,#ff9e00 7.5px,#ff8f00 8.5px,#ff8b00 14.5px,#ff7700 17.5px,#ff8b00 20.5px,#ff8500 23.5px,#ff6e00 24.5px,#ff8000 27.5px,#ff7700 28.5px,#ff8900 29.5px,#ff7b00 31.5px,#ff9800 33.5px,#ff6200 36.5px,#ff8100 40.5px,#ff6c00 49.5px,#ff8600 51.5px,#ff7700 53.5px,#ff8000 56.5px,#ff5700 60.5px,#ff7700 63.5px,#ff6800 66.5px,#ff7100 67.5px,#ff5600 69.5px,#ff7400 76.5px,#ff6100 78.5px,#ff8700 82.5px,#ff5900 85.5px,#ff7700 87.5px,#ff6400 88.5px,#ff5b00 95.5px)"></i><i style="top:39px;background:linear-gradient(90deg,#80ff7f 0.5px,#97ff68 3.5px,#bdff42 4.5px,#feff01 5.5px,#ffbf00 6.5px,#ff9700 7.5px,#ff8800 8.5px,#ff7c00 12.5px,#ff8400 14.5px,#ff6f00 17.5px,#ff8400 20.5px,#ff7e00 23.5px,#ff6600 24.5px,#ff7800 27.5px,#ff6f00 28.5px,#ff8100 29.5px,#ff7300 31.5px,#ff9100 33.5px,#ff5900 36.5px,#ff7900 40.5px,#ff6400 49.5px,#ff7e00 51.5px,#ff6f00 53.5px,#ff7800 56.5px,#ff4d00 60.5px,#ff6f00 63.5px,#ff5f00 66.5px,#ff6800 67.5px,#ff4c00 69.5px,#ff6b00 76.5px,#ff5800 78.5px,#ff7e00 82.5px,#ff4f00 85.5px,#ff6e00 87.5px,#ff5a00 88.5px,#ff5100 95.5px)"></i><i style="top:40px;background:linear-gradient(90deg,#80ff7f 0.5px,#97ff68 3.5px,#bdff42 4.5px,#feff01 5.5px,#ffbe00 6.5px,#ff9600 7.5px,#ff8700 8.5px,#ff7b00 12.5px,#ff8300 14.5px,#ff6e00 17.5px,#ff8300 20.5px,#ff7d00 23.5px,#ff6500 24.5px,#ff7700 27.5px,#ff6e00 28.5px,#ff8000 29.5px,#ff7200 31.5px,#ff9000 33.5px,#ff5800 36.5px,#ff7800 40.5px,#ff6200 49.5px,#ff7d00 51.5px,#ff6e00 53.5px,#ff7700 56.5px,#ff4c00 60.5px,#ff6e00 63.5px,#ff5e00 66.5px,#ff6700 67.5px,#ff4a00 69.5px,#ff6a00 76.5px,#ff5600 78.5px,#ff7d00 82.5px,#ff4d00 85.5px,#ff6c00 87.5px,#ff5900 88.5px,#ff5000 95.5px)"></i><i style="top:41px;background:linear-gradient(90deg,#80ff7f 0.5px,#93ff6c 3.5px,#b3ff4c 4.5px,#ebff14 5.5px,#ffdc00 6.5px,#ffba00 7.5px,#ffad00 8.5px,#ffa900 14.5px,#ff9700 17.5px,#ffaa00 20.5px,#ffa400 23.5px,#ff9000 24.5px,#ffa000 27.5px,#ff9800 28.5px,#ffa800 29.5px,#ff9b00 31.5px,#ffb500 33.5px,#ff8500 36.5px,#ffa100 40.5px,#ff8f00 49.5px,#ffa500 51.5px,#ff9800 53.5px,#ffa000 56.5px,#ff7c00 60.5px,#ff9800 63.5px,#ff8b00 66.5px,#ff9300 67.5px,#ff7b00 69.5px,#ff9500 76.5px,#ff8500 78.5px,#ffa600 82.5px,#ff7e00 85.5px,#ff9800 87.5px,#ff8800 88.5px,#ff8000 95.5px)"></i><i style="top:42px;background:linear-gradient(90deg,#80ff7f 0.5px,#88ff77 3.5px,#d8ff27 7.5px,#e2ff1d 10.5px,#ecff13 24.5px,#dcff23 33.5px,#f1ff0e 36.5px,#e3ff1c 51.5px,#f6ff09 60.5px,#e9ff16 63.5px,#f7ff08 69.5px,#f3ff0c 78.5px,#e4ff1b 82.5px,#f6ff09 85.5px,#eaff15 87.5px,#f6ff09 95.5px)"></i><i style="top:43px;background:linear-gradient(90deg,#80ff7f 0.5px,#95ff6a 10.5px,#9cff63 95.5px)"></i><i style="top:44px;background:linear-gradient(90deg,#7fff80 0.5px,#6eff91 10.5px,#6fff90 95.5px)"></i><i style="top:45px;background:linear-gradient(90deg,#7fff80 0.5px,#71ff8e 3.5px,#59ffa6 4.5px,#07fff8 6.5px,#00eeff 7.5px,#00d7ff 17.5px,#00e2ff 23.5px,#00d4ff 24.5px,#00e6ff 29.5px,#00deff 31.5px,#00f0ff 33.5px,#00cfff 36.5px,#00e4ff 40.5px,#00d9ff 49.5px,#00e9ff 51.5px,#00e7ff 56.5px,#00cfff 60.5px,#00e3ff 63.5px,#00e1ff 67.5px,#00d1ff 69.5px,#00e4ff 76.5px,#00daff 78.5px,#00f0ff 82.5px,#00d7ff 85.5px,#00e8ff 87.5px,#00dbff 95.5px)"></i><i style="top:46px;background:linear-gradient(90deg,#7fff80 0.5px,#66ff99 3.5px,#3cffc3 4.5px,#00f4ff 5.5px,#00acff 6.5px,#0081ff 7.5px,#0070ff 8.5px,#0065ff 12.5px,#006fff 14.5px,#0059ff 17.5px,#0071ff 20.5px,#006cff 23.5px,#0053ff 24.5px,#0068ff 27.5px,#005fff 28.5px,#0073ff 29.5px,#0064ff 31.5px,#0085ff 33.5px,#004cff 36.5px,#006fff 40.5px,#0074ff 42.5px,#0061ff 45.5px,#005dff 49.5px,#0078ff 51.5px,#006aff 53.5px,#0075ff 56.5px,#004bff 60.5px,#006eff 63.5px,#0060ff 66.5px,#006aff 67.5px,#004eff 69.5px,#0070ff 76.5px,#005eff 78.5px,#0085ff 82.5px,#0058ff 85.5px,#0077ff 87.5px,#0065ff 88.5px,#005fff 95.5px)"></i><i style="top:47px;background:linear-gradient(90deg,#7eff81 0.5px,#75ff8a 2.5px,#61ff9e 3.5px,#30ffcf 4.5px,#00dbff 5.5px,#0086ff 6.5px,#0053ff 7.5px,#0040ff 8.5px,#0033ff 12.5px,#003eff 14.5px,#0024ff 17.5px,#0041ff 20.5px,#003bff 23.5px,#001dff 24.5px,#0024ff 26.5px,#0036ff 27.5px,#002bff 28.5px,#0042ff 29.5px,#0031ff 31.5px,#0057ff 33.5px,#0014ff 36.5px,#003eff 40.5px,#0044ff 42.5px,#002dff 45.5px,#0029ff 49.5px,#0049ff 51.5px,#0038ff 53.5px,#0045ff 56.5px,#0014ff 60.5px,#003dff 63.5px,#003bff 65.5px,#002cff 66.5px,#0038ff 67.5px,#0017ff 69.5px,#003fff 76.5px,#002aff 78.5px,#0058ff 82.5px,#0023ff 85.5px,#0048ff 87.5px,#0032ff 88.5px,#002bff 95.5px)"></i><i style="top:48px;background:linear-gradient(90deg,#7eff81 0.5px,#75ff8a 2.5px,#60ff9f 3.5px,#2cffd3 4.5px,#00d3ff 5.5px,#007aff 6.5px,#0045ff 7.5px,#0031ff 8.5px,#0023ff 12.5px,#002fff 14.5px,#0014ff 17.5px,#0032ff 20.5px,#002cff 23.5px,#000dff 24.5px,#0013ff 26.5px,#0026ff 27.5px,#001cff 28.5px,#0034ff 29.5px,#0022ff 31.5px,#004aff 33.5px,#003bff 34.5px,#0003ff 36.5px,#002fff 40.5px,#0036ff 42.5px,#001eff 45.5px,#0019ff 49.5px,#0020ff 50.5px,#003bff 51.5px,#0029ff 53.5px,#0036ff 56.5px,#0003ff 60.5px,#002eff 63.5px,#002cff 65.5px,#001dff 66.5px,#0028ff 67.5px,#0006ff 69.5px,#0030ff 76.5px,#001aff 78.5px,#004aff 82.5px,#0013ff 85.5px,#0039ff 87.5px,#0022ff 88.5px,#001bff 95.5px)"></i><i style="top:49px;background:linear-gradient(90deg,#7eff81 0.5px,#75ff8a 2.5px,#5fffa0 3.5px,#2bffd4 4.5px,#00d1ff 5.5px,#0077ff 6.5px,#0041ff 7.5px,#002dff 8.5px,#001fff 12.5px,#002aff 14.5px,#0022ff 16.5px,#0010ff 17.5px,#002eff 20.5px,#0027ff 23.5px,#0008ff 24.5px,#000fff 26.5px,#0022ff 27.5px,#0017ff 28.5px,#0030ff 29.5px,#001eff 31.5px,#0046ff 33.5px,#0000fe 36.5px,#002bff 40.5px,#0032ff 42.5px,#0019ff 45.5px,#0014ff 49.5px,#001cff 50.5px,#0037ff 51.5px,#0025ff 53.5px,#0032ff 56.5px,#0000fd 60.5px,#002aff 63.5px,#0028ff 65.5px,#0018ff 66.5px,#0024ff 67.5px,#0002ff 69.5px,#002cff 76.5px,#0015ff 78.5px,#0047ff 82.5px,#000eff 85.5px,#0035ff 87.5px,#001eff 88.5px,#0017ff 95.5px)"></i><i style="top:50px;background:linear-gradient(90deg,#7eff81 0.5px,#75ff8a 2.5px,#5fffa0 3.5px,#2bffd4 4.5px,#00d1ff 5.5px,#0076ff 6.5px,#0040ff 7.5px,#002cff 8.5px,#001eff 12.5px,#0029ff 14.5px,#0021ff 16.5px,#000fff 17.5px,#002dff 20.5px,#0026ff 23.5px,#0007ff 24.5px,#000eff 26.5px,#0021ff 27.5px,#0016ff 28.5px,#002fff 29.5px,#001cff 31.5px,#0045ff 33.5px,#0000fc 36.5px,#002aff 40.5px,#0031ff 42.5px,#0018ff 45.5px,#0013ff 49.5px,#001bff 50.5px,#0036ff 51.5px,#0024ff 53.5px,#0031ff 56.5px,#0000fc 60.5px,#0029ff 63.5px,#0027ff 65.5px,#0017ff 66.5px,#0023ff 67.5px,#0001ff 69.5px,#002bff 76.5px,#0014ff 78.5px,#0046ff 82.5px,#000dff 85.5px,#0034ff 87.5px,#001dff 88.5px,#0016ff 95.5px)"></i><i style="top:51px;background:linear-gradient(90deg,#7eff81 0.5px,#75ff8a 2.5px,#5fffa0 3.5px,#2bffd4 4.5px,#00d0ff 5.5px,#0076ff 6.5px,#0040ff 7.5px,#002bff 8.5px,#001dff 12.5px,#0029ff 14.5px,#0020ff 16.5px,#000eff 17.5px,#002dff 20.5px,#0026ff 23.5px,#0007ff 24.5px,#000eff 26.5px,#0021ff 27.5px,#0016ff 28.5px,#002eff 29.5px,#001cff 31.5px,#0045ff 33.5px,#0000fc 36.5px,#002aff 40.5px,#0030ff 42.5px,#0018ff 45.5px,#0013ff 49.5px,#001bff 50.5px,#0036ff 51.5px,#0024ff 53.5px,#0031ff 56.5px,#0000fc 60.5px,#0029ff 63.5px,#0027ff 65.5px,#0017ff 66.5px,#0023ff 67.5px,#0000ff 69.5px,#002bff 76.5px,#0014ff 78.5px,#0045ff 82.5px,#000dff 85.5px,#0034ff 87.5px,#001dff 88.5px,#0016ff 95.5px)"></i><i style="top:52px;background:linear-gradient(90deg,#7eff81 0.5px,#75ff8a 2.5px,#5fffa0 3.5px,#2bffd4 4.5px,#00d0ff 5.5px,#0076ff 6.5px,#0040ff 7.5px,#002bff 8.5px,#001eff 12.5px,#0029ff 14.5px,#0020ff 16.5px,#000eff 17.5px,#002dff 20.5px,#0026ff 23.5px,#0007ff 24.5px,#000eff 26.5px,#0021ff 27.5px,#0016ff 28.5px,#002eff 29.5px,#001cff 31.5px,#0045ff 33.5px,#0000fc 36.5px,#002aff 40.5px,#0030ff 42.5px,#0018ff 45.5px,#0013ff 49.5px,#001bff 50.5px,#0036ff 51.5px,#0024ff 53.5px,#0031ff 56.5px,#0000fc 60.5px,#0029ff 63.5px,#0027ff 65.5px,#0017ff 66.5px,#0023ff 67.5px,#0000ff 69.5px,#002bff 76.5px,#0014ff 78.5px,#0045ff 82.5px,#000dff 85.5px,#0034ff 87.5px,#001dff 88.5px,#0016ff 95.5px)"></i><i style="top:53px;background:linear-gradient(90deg,#7eff81 0.5px,#75ff8a 2.5px,#5fffa0 3.5px,#2bffd4 4.5px,#00d1ff 5.5px,#0076ff 6.5px,#0040ff 7.5px,#002cff 8.5px,#001eff 12.5px,#0029ff 14.5px,#0021ff 16.5px,#000fff 17.5px,#002dff 20.5px,#0026ff 23.5px,#0007ff 24.5px,#000eff 26.5px,#0021ff 27.5px,#0016ff 28.5px,#002fff 29.5px,#001cff 31.5px,#0045ff 33.5px,#0000fc 36.5px,#002aff 40.5px,#0031ff 42.5px,#0018ff 45.5px,#0013ff 49.5px,#001bff 50.5px,#0036ff 51.5px,#0024ff 53.5px,#0031ff 56.5px,#0000fc 60.5px,#0029ff 63.5px,#0027ff 65.5px,#0017ff 66.5px,#0023ff 67.5px,#0001ff 69.5px,#002bff 76.5px,#0014ff 78.5px,#0046ff 82.5px,#000dff 85.5px,#0034ff 87.5px,#001dff 88.5px,#0016ff 95.5px)"></i><i style="top:54px;background:linear-gradient(90deg,#7eff81 0.5px,#75ff8a 2.5px,#5fffa0 3.5px,#2bffd4 4.5px,#00d1ff 5.5px,#0076ff 6.5px,#0041ff 7.5px,#002cff 8.5px,#001eff 12.5px,#0029ff 14.5px,#0021ff 16.5px,#000fff 17.5px,#002dff 20.5px,#0026ff 23.5px,#0007ff 24.5px,#000eff 26.5px,#0021ff 27.5px,#0016ff 28.5px,#002fff 29.5px,#001dff 31.5px,#0045ff 33.5px,#0000fd 36.5px,#002aff 40.5px,#0031ff 42.5px,#0018ff 45.5px,#0013ff 49.5px,#001bff 50.5px,#0036ff 51.5px,#0024ff 53.5px,#0031ff 56.5px,#0000fc 60.5px,#0029ff 63.5px,#0027ff 65.5px,#0017ff 66.5px,#0023ff 67.5px,#0001ff 69.5px,#002bff 76.5px,#0014ff 78.5px,#0046ff 82.5px,#000dff 85.5px,#0034ff 87.5px,#001dff 88.5px,#0016ff 95.5px)"></i><i style="top:55px;background:linear-gradient(90deg,#7eff81 0.5px,#75ff8a 2.5px,#5fffa0 3.5px,#2bffd4 4.5px,#00d1ff 5.5px,#0077ff 6.5px,#0041ff 7.5px,#002cff 8.5px,#001eff 12.5px,#002aff 14.5px,#0021ff 16.5px,#000fff 17.5px,#002dff 20.5px,#0027ff 23.5px,#0008ff 24.5px,#000eff 26.5px,#0021ff 27.5px,#0017ff 28.5px,#002fff 29.5px,#001dff 31.5px,#0045ff 33.5px,#0000fd 36.5px,#002bff 40.5px,#0031ff 42.5px,#0019ff 45.5px,#0014ff 49.5px,#001bff 50.5px,#0036ff 51.5px,#0024ff 53.5px,#0031ff 56.5px,#0000fd 60.5px,#0029ff 63.5px,#0027ff 65.5px,#0018ff 66.5px,#0024ff 67.5px,#0001ff 69.5px,#002bff 76.5px,#0015ff 78.5px,#0046ff 82.5px,#000eff 85.5px,#0034ff 87.5px,#001dff 88.5px,#0016ff 95.5px)"></i><i style="top:56px;background:linear-gradient(90deg,#7eff81 0.5px,#75ff8a 2.5px,#5fffa0 3.5px,#2bffd4 4.5px,#00d1ff 5.5px,#0077ff 6.5px,#0041ff 7.5px,#002cff 8.5px,#001eff 12.5px,#002aff 14.5px,#0021ff 16.5px,#000fff 17.5px,#002eff 20.5px,#0027ff 23.5px,#0008ff 24.5px,#000eff 26.5px,#0022ff 27.5px,#0017ff 28.5px,#002fff 29.5px,#001dff 31.5px,#0046ff 33.5px,#0000fd 36.5px,#002bff 40.5px,#0031ff 42.5px,#0019ff 45.5px,#0014ff 49.5px,#001cff 50.5px,#0036ff 51.5px,#0024ff 53.5px,#0032ff 56.5px,#0000fd 60.5px,#002aff 63.5px,#0027ff 65.5px,#0018ff 66.5px,#0024ff 67.5px,#0001ff 69.5px,#002cff 76.5px,#0015ff 78.5px,#0046ff 82.5px,#000eff 85.5px,#0035ff 87.5px,#001eff 88.5px,#0016ff 95.5px)"></i><i style="top:57px;background:linear-gradient(90deg,#7eff81 0.5px,#75ff8a 2.5px,#5fffa0 3.5px,#2bffd4 4.5px,#00d1ff 5.5px,#0077ff 6.5px,#0041ff 7.5px,#002dff 8.5px,#001fff 12.5px,#002aff 14.5px,#0022ff 16.5px,#0010ff 17.5px,#002eff 20.5px,#0027ff 23.5px,#0008ff 24.5px,#000fff 26.5px,#0022ff 27.5px,#0017ff 28.5px,#0030ff 29.5px,#001eff 31.5px,#0046ff 33.5px,#0000fe 36.5px,#002bff 40.5px,#0032ff 42.5px,#0019ff 45.5px,#0014ff 49.5px,#001cff 50.5px,#0037ff 51.5px,#0025ff 53.5px,#0032ff 56.5px,#0000fd 60.5px,#002aff 63.5px,#0028ff 65.5px,#0018ff 66.5px,#0024ff 67.5px,#0002ff 69.5px,#002cff 76.5px,#0015ff 78.5px,#0047ff 82.5px,#000eff 85.5px,#0035ff 87.5px,#001eff 88.5px,#0017ff 95.5px)"></i><i style="top:58px;background:linear-gradient(90deg,#7eff81 0.5px,#75ff8a 2.5px,#5fffa0 3.5px,#2bffd4 4.5px,#00d1ff 5.5px,#0078ff 6.5px,#0042ff 7.5px,#002dff 8.5px,#001fff 12.5px,#002bff 14.5px,#0022ff 16.5px,#0010ff 17.5px,#002fff 20.5px,#0028ff 23.5px,#0009ff 24.5px,#000fff 26.5px,#0023ff 27.5px,#0018ff 28.5px,#0030ff 29.5px,#001eff 31.5px,#0046ff 33.5px,#0000fe 36.5px,#002cff 40.5px,#0032ff 42.5px,#001aff 45.5px,#0015ff 49.5px,#001dff 50.5px,#0037ff 51.5px,#0025ff 53.5px,#0033ff 56.5px,#0000fe 60.5px,#002bff 63.5px,#0028ff 65.5px,#0019ff 66.5px,#0025ff 67.5px,#0002ff 69.5px,#002dff 76.5px,#0016ff 78.5px,#0047ff 82.5px,#000fff 85.5px,#0036ff 87.5px,#001fff 88.5px,#0017ff 95.5px)"></i><i style="top:59px;background:linear-gradient(90deg,#7eff81 0.5px,#75ff8a 2.5px,#5fffa0 3.5px,#2cffd3 4.5px,#00d2ff 5.5px,#0078ff 6.5px,#0043ff 7.5px,#002eff 8.5px,#0020ff 12.5px,#002cff 14.5px,#0023ff 16.5px,#0011ff 17.5px,#002fff 20.5px,#0029ff 23.5px,#000aff 24.5px,#0010ff 26.5px,#0023ff 27.5px,#0019ff 28.5px,#0031ff 29.5px,#001fff 31.5px,#0047ff 33.5px,#0039ff 34.5px,#0000ff 36.5px,#001fff 38.5px,#002dff 40.5px,#0033ff 42.5px,#001bff 45.5px,#0016ff 49.5px,#001dff 50.5px,#0038ff 51.5px,#0026ff 53.5px,#0033ff 56.5px,#0000ff 60.5px,#002bff 63.5px,#0029ff 65.5px,#001aff 66.5px,#0026ff 67.5px,#0003ff 69.5px,#002dff 76.5px,#0017ff 78.5px,#0048ff 82.5px,#0010ff 85.5px,#0036ff 87.5px,#001fff 88.5px,#0018ff 95.5px)"></i><i style="top:60px;background:linear-gradient(90deg,#7eff81 0.5px,#75ff8a 2.5px,#60ff9f 3.5px,#2cffd3 4.5px,#00d2ff 5.5px,#0079ff 6.5px,#0043ff 7.5px,#002fff 8.5px,#0021ff 12.5px,#002dff 14.5px,#0024ff 16.5px,#0012ff 17.5px,#0030ff 20.5px,#002aff 23.5px,#000bff 24.5px,#0011ff 26.5px,#0024ff 27.5px,#001aff 28.5px,#0032ff 29.5px,#0020ff 31.5px,#0048ff 33.5px,#0039ff 34.5px,#0001ff 36.5px,#0020ff 38.5px,#002eff 40.5px,#0034ff 42.5px,#001cff 45.5px,#0017ff 49.5px,#001eff 50.5px,#0039ff 51.5px,#0027ff 53.5px,#0034ff 56.5px,#0001ff 60.5px,#002cff 63.5px,#002aff 65.5px,#001bff 66.5px,#0026ff 67.5px,#0004ff 69.5px,#002eff 76.5px,#0018ff 78.5px,#0049ff 82.5px,#0011ff 85.5px,#0037ff 87.5px,#0020ff 88.5px,#0019ff 95.5px)"></i><i style="top:61px;background:linear-gradient(90deg,#7eff81 0.5px,#75ff8a 2.5px,#60ff9f 3.5px,#2cffd3 4.5px,#00d3ff 5.5px,#007aff 6.5px,#0045ff 7.5px,#0030ff 8.5px,#0022ff 12.5px,#002eff 14.5px,#0025ff 16.5px,#0013ff 17.5px,#0031ff 20.5px,#002bff 23.5px,#000cff 24.5px,#0013ff 26.5px,#0026ff 27.5px,#001bff 28.5px,#0033ff 29.5px,#0021ff 31.5px,#0049ff 33.5px,#003bff 34.5px,#0002ff 36.5px,#0022ff 38.5px,#002fff 40.5px,#0035ff 42.5px,#001dff 45.5px,#0018ff 49.5px,#0020ff 50.5px,#003aff 51.5px,#0028ff 53.5px,#0035ff 56.5px,#0002ff 60.5px,#002dff 63.5px,#002bff 65.5px,#001cff 66.5px,#0028ff 67.5px,#0006ff 69.5px,#002fff 76.5px,#0019ff 78.5px,#004aff 82.5px,#0012ff 85.5px,#0038ff 87.5px,#0022ff 88.5px,#001aff 95.5px)"></i><i style="top:62px;background:linear-gradient(90deg,#7eff81 0.5px,#75ff8a 2.5px,#60ff9f 3.5px,#2dffd2 4.5px,#00d4ff 5.5px,#007bff 6.5px,#0046ff 7.5px,#0032ff 8.5px,#0024ff 12.5px,#002fff 14.5px,#0015ff 17.5px,#0033ff 20.5px,#002cff 23.5px,#000eff 24.5px,#0014ff 26.5px,#0027ff 27.5px,#001dff 28.5px,#0035ff 29.5px,#0023ff 31.5px,#004aff 33.5px,#003cff 34.5px,#0004ff 36.5px,#0030ff 40.5px,#0036ff 42.5px,#001fff 45.5px,#001aff 49.5px,#0021ff 50.5px,#003cff 51.5px,#002aff 53.5px,#0037ff 56.5px,#0004ff 60.5px,#002fff 63.5px,#002dff 65.5px,#001eff 66.5px,#0029ff 67.5px,#0007ff 69.5px,#0031ff 76.5px,#001bff 78.5px,#004bff 82.5px,#0014ff 85.5px,#003aff 87.5px,#0023ff 88.5px,#001cff 95.5px)"></i><i style="top:63px;background:linear-gradient(90deg,#7eff81 0.5px,#75ff8a 2.5px,#60ff9f 3.5px,#2dffd2 4.5px,#00d5ff 5.5px,#007dff 6.5px,#0048ff 7.5px,#0034ff 8.5px,#0026ff 12.5px,#0031ff 14.5px,#0017ff 17.5px,#0035ff 20.5px,#002eff 23.5px,#0010ff 24.5px,#0016ff 26.5px,#0029ff 27.5px,#001fff 28.5px,#0037ff 29.5px,#0025ff 31.5px,#004cff 33.5px,#003eff 34.5px,#0007ff 36.5px,#0032ff 40.5px,#0039ff 42.5px,#0021ff 45.5px,#001cff 49.5px,#0023ff 50.5px,#003dff 51.5px,#002cff 53.5px,#0039ff 56.5px,#0006ff 60.5px,#0031ff 63.5px,#002fff 65.5px,#0020ff 66.5px,#002bff 67.5px,#000aff 69.5px,#0033ff 76.5px,#001dff 78.5px,#004dff 82.5px,#0016ff 85.5px,#003cff 87.5px,#0025ff 88.5px,#001eff 95.5px)"></i><i style="top:64px;background:linear-gradient(90deg,#7eff81 0.5px,#75ff8a 2.5px,#60ff9f 3.5px,#2effd1 4.5px,#00d6ff 5.5px,#007fff 6.5px,#004aff 7.5px,#0036ff 8.5px,#0029ff 12.5px,#0034ff 14.5px,#001aff 17.5px,#0038ff 20.5px,#0031ff 23.5px,#0013ff 24.5px,#0019ff 26.5px,#002cff 27.5px,#0021ff 28.5px,#0039ff 29.5px,#0028ff 31.5px,#004fff 33.5px,#000aff 36.5px,#0035ff 40.5px,#003bff 42.5px,#0023ff 45.5px,#001fff 49.5px,#0026ff 50.5px,#0040ff 51.5px,#002fff 53.5px,#003bff 56.5px,#0009ff 60.5px,#0034ff 63.5px,#0032ff 65.5px,#0022ff 66.5px,#002eff 67.5px,#000dff 69.5px,#0036ff 76.5px,#0020ff 78.5px,#004fff 82.5px,#0019ff 85.5px,#003eff 87.5px,#0028ff 88.5px,#0021ff 95.5px)"></i><i style="top:65px;background:linear-gradient(90deg,#7eff81 0.5px,#75ff8a 2.5px,#61ff9e 3.5px,#2fffd0 4.5px,#00d8ff 5.5px,#0081ff 6.5px,#004eff 7.5px,#003aff 8.5px,#002cff 12.5px,#0037ff 14.5px,#001eff 17.5px,#003bff 20.5px,#0035ff 23.5px,#0017ff 24.5px,#001dff 26.5px,#002fff 27.5px,#0025ff 28.5px,#003dff 29.5px,#002bff 31.5px,#0052ff 33.5px,#000dff 36.5px,#0038ff 40.5px,#003eff 42.5px,#0027ff 45.5px,#0022ff 49.5px,#002aff 50.5px,#0043ff 51.5px,#0032ff 53.5px,#003fff 56.5px,#000dff 60.5px,#0037ff 63.5px,#0035ff 65.5px,#0026ff 66.5px,#0032ff 67.5px,#0010ff 69.5px,#0039ff 76.5px,#0023ff 78.5px,#0053ff 82.5px,#001dff 85.5px,#0042ff 87.5px,#002cff 88.5px,#0025ff 95.5px)"></i><i style="top:66px;background:linear-gradient(90deg,#7eff81 0.5px,#75ff8a 2.5px,#61ff9e 3.5px,#30ffcf 4.5px,#00daff 5.5px,#0085ff 6.5px,#0052ff 7.5px,#003eff 8.5px,#0031ff 12.5px,#003cff 14.5px,#0022ff 17.5px,#003fff 20.5px,#0039ff 23.5px,#001cff 24.5px,#0022ff 26.5px,#0034ff 27.5px,#002aff 28.5px,#0041ff 29.5px,#0030ff 31.5px,#0056ff 33.5px,#0012ff 36.5px,#003dff 40.5px,#0043ff 42.5px,#002cff 45.5px,#0027ff 49.5px,#002eff 50.5px,#0047ff 51.5px,#0036ff 53.5px,#0043ff 56.5px,#0012ff 60.5px,#003bff 63.5px,#0039ff 65.5px,#002bff 66.5px,#0036ff 67.5px,#0015ff 69.5px,#003dff 76.5px,#0028ff 78.5px,#0056ff 82.5px,#0021ff 85.5px,#0046ff 87.5px,#0030ff 88.5px,#0029ff 95.5px)"></i><i style="top:67px;background:linear-gradient(90deg,#7eff81 0.5px,#75ff8a 2.5px,#61ff9e 3.5px,#31ffce 4.5px,#00ddff 5.5px,#0089ff 6.5px,#0057ff 7.5px,#0043ff 8.5px,#0036ff 12.5px,#0041ff 14.5px,#0028ff 17.5px,#0045ff 20.5px,#003eff 23.5px,#0022ff 24.5px,#0028ff 26.5px,#0039ff 27.5px,#002fff 28.5px,#0046ff 29.5px,#0035ff 31.5px,#005bff 33.5px,#0018ff 36.5px,#0042ff 40.5px,#0048ff 42.5px,#0031ff 45.5px,#002dff 49.5px,#004dff 51.5px,#003cff 53.5px,#0048ff 56.5px,#0018ff 60.5px,#0041ff 63.5px,#0030ff 66.5px,#003cff 67.5px,#001bff 69.5px,#0043ff 76.5px,#002eff 78.5px,#005bff 82.5px,#0027ff 85.5px,#004bff 87.5px,#0036ff 88.5px,#002fff 95.5px)"></i><i style="top:68px;background:linear-gradient(90deg,#7eff81 0.5px,#76ff89 2.5px,#62ff9d 3.5px,#33ffcc 4.5px,#00e0ff 5.5px,#008eff 6.5px,#005dff 7.5px,#004aff 8.5px,#003dff 12.5px,#0048ff 14.5px,#0030ff 17.5px,#004bff 20.5px,#0045ff 23.5px,#0029ff 24.5px,#002fff 26.5px,#0040ff 27.5px,#0037ff 28.5px,#004dff 29.5px,#003cff 31.5px,#0061ff 33.5px,#0020ff 36.5px,#0049ff 40.5px,#004fff 42.5px,#0038ff 45.5px,#0034ff 49.5px,#0053ff 51.5px,#0043ff 53.5px,#004fff 56.5px,#0020ff 60.5px,#0048ff 63.5px,#0037ff 66.5px,#0042ff 67.5px,#0023ff 69.5px,#004aff 76.5px,#0035ff 78.5px,#0062ff 82.5px,#002fff 85.5px,#0052ff 87.5px,#003dff 88.5px,#0036ff 95.5px)"></i><i style="top:69px;background:linear-gradient(90deg,#7eff81 0.5px,#76ff89 2.5px,#63ff9c 3.5px,#35ffca 4.5px,#00e4ff 5.5px,#0095ff 6.5px,#0065ff 7.5px,#0052ff 8.5px,#0046ff 12.5px,#0050ff 14.5px,#0039ff 17.5px,#0054ff 20.5px,#004eff 23.5px,#0032ff 24.5px,#0038ff 26.5px,#0049ff 27.5px,#003fff 28.5px,#0055ff 29.5px,#0045ff 31.5px,#0069ff 33.5px,#0029ff 36.5px,#0051ff 40.5px,#0057ff 42.5px,#0041ff 45.5px,#003dff 49.5px,#005bff 51.5px,#004bff 53.5px,#0057ff 56.5px,#0029ff 60.5px,#0050ff 63.5px,#0040ff 66.5px,#004bff 67.5px,#002cff 69.5px,#0052ff 76.5px,#003eff 78.5px,#0069ff 82.5px,#0038ff 85.5px,#005aff 87.5px,#0045ff 88.5px,#003fff 95.5px)"></i><i style="top:70px;background:linear-gradient(90deg,#7fff80 0.5px,#76ff89 2.5px,#64ff9b 3.5px,#37ffc8 4.5px,#00eaff 5.5px,#009cff 6.5px,#006eff 7.5px,#005cff 8.5px,#0050ff 12.5px,#005aff 14.5px,#0043ff 17.5px,#005dff 20.5px,#0058ff 23.5px,#003dff 24.5px,#0043ff 26.5px,#0053ff 27.5px,#004aff 28.5px,#005fff 29.5px,#004fff 31.5px,#0072ff 33.5px,#0035ff 36.5px,#005bff 40.5px,#0061ff 42.5px,#004cff 45.5px,#0047ff 49.5px,#0065ff 51.5px,#0056ff 53.5px,#0061ff 56.5px,#0034ff 60.5px,#005aff 63.5px,#004bff 66.5px,#0055ff 67.5px,#0037ff 69.5px,#005cff 76.5px,#0048ff 78.5px,#0073ff 82.5px,#0042ff 85.5px,#0064ff 87.5px,#0050ff 88.5px,#004aff 95.5px)"></i><i style="top:71px;background:linear-gradient(90deg,#7fff80 0.5px,#65ff9a 3.5px,#00f0ff 5.5px,#00a5ff 6.5px,#0079ff 7.5px,#0068ff 8.5px,#005cff 12.5px,#0066ff 14.5px,#0050ff 17.5px,#0069ff 20.5px,#0064ff 23.5px,#004aff 24.5px,#005fff 27.5px,#0056ff 28.5px,#006aff 29.5px,#005bff 31.5px,#007dff 33.5px,#0042ff 36.5px,#0067ff 40.5px,#006cff 42.5px,#0058ff 45.5px,#0054ff 49.5px,#0070ff 51.5px,#0061ff 53.5px,#006cff 56.5px,#0042ff 60.5px,#0066ff 63.5px,#0057ff 66.5px,#0061ff 67.5px,#0045ff 69.5px,#0067ff 76.5px,#0055ff 78.5px,#007dff 82.5px,#004fff 85.5px,#006fff 87.5px,#005cff 88.5px,#0056ff 95.5px)"></i><i style="top:72px;background:linear-gradient(90deg,#7fff80 0.5px,#66ff99 3.5px,#3dffc2 4.5px,#00f6ff 5.5px,#00b0ff 6.5px,#0085ff 7.5px,#0075ff 8.5px,#006aff 12.5px,#0073ff 14.5px,#005eff 17.5px,#0076ff 20.5px,#0071ff 23.5px,#0059ff 24.5px,#006dff 27.5px,#0064ff 28.5px,#0078ff 29.5px,#0069ff 31.5px,#0089ff 33.5px,#0051ff 36.5px,#0074ff 40.5px,#0062ff 49.5px,#007dff 51.5px,#006fff 53.5px,#0079ff 56.5px,#0051ff 60.5px,#0073ff 63.5px,#0065ff 66.5px,#006fff 67.5px,#0054ff 69.5px,#0075ff 76.5px,#0063ff 78.5px,#0089ff 82.5px,#005dff 85.5px,#007cff 87.5px,#006aff 88.5px,#0064ff 95.5px)"></i><i style="top:73px;background:linear-gradient(90deg,#7fff80 0.5px,#68ff97 3.5px,#41ffbe 4.5px,#00feff 5.5px,#00bbff 6.5px,#0093ff 7.5px,#0084ff 8.5px,#007aff 12.5px,#0082ff 14.5px,#006eff 17.5px,#0085ff 20.5px,#0080ff 23.5px,#0069ff 24.5px,#007cff 27.5px,#0074ff 28.5px,#0086ff 29.5px,#0079ff 31.5px,#0097ff 33.5px,#0062ff 36.5px,#0083ff 40.5px,#0072ff 49.5px,#008bff 51.5px,#007eff 53.5px,#0088ff 56.5px,#0061ff 60.5px,#0082ff 63.5px,#0075ff 66.5px,#007eff 67.5px,#0064ff 69.5px,#0083ff 76.5px,#0072ff 78.5px,#0097ff 82.5px,#006dff 85.5px,#008aff 87.5px,#0079ff 88.5px,#0074ff 95.5px)"></i><i style="top:74px;background:linear-gradient(90deg,#7fff80 0.5px,#69ff96 3.5px,#45ffba 4.5px,#07fff8 5.5px,#00c7ff 6.5px,#00a2ff 7.5px,#0093ff 8.5px,#0092ff 14.5px,#007fff 17.5px,#0094ff 20.5px,#0090ff 23.5px,#007aff 24.5px,#008cff 27.5px,#0085ff 28.5px,#0096ff 29.5px,#0089ff 31.5px,#00a5ff 33.5px,#0073ff 36.5px,#0093ff 40.5px,#0083ff 49.5px,#009aff 51.5px,#008eff 53.5px,#0097ff 56.5px,#0073ff 60.5px,#0092ff 63.5px,#0085ff 66.5px,#008eff 67.5px,#0076ff 69.5px,#0093ff 76.5px,#0083ff 78.5px,#00a5ff 82.5px,#007eff 85.5px,#0099ff 87.5px,#0089ff 88.5px,#0084ff 95.5px)"></i><i style="top:75px;background:linear-gradient(90deg,#7fff80 0.5px,#6bff94 3.5px,#49ffb6 4.5px,#0ffff0 5.5px,#00d4ff 6.5px,#00b1ff 7.5px,#00a4ff 8.5px,#00a2ff 14.5px,#0091ff 17.5px,#00a4ff 20.5px,#00a0ff 23.5px,#008cff 24.5px,#009dff 27.5px,#0096ff 28.5px,#00a6ff 29.5px,#009aff 31.5px,#00b4ff 33.5px,#0086ff 36.5px,#00a3ff 40.5px,#0094ff 49.5px,#00aaff 51.5px,#009eff 53.5px,#00a7ff 56.5px,#0086ff 60.5px,#00a2ff 63.5px,#009eff 67.5px,#0088ff 69.5px,#00a3ff 76.5px,#0094ff 78.5px,#00b4ff 82.5px,#0090ff 85.5px,#00a9ff 87.5px,#009aff 88.5px,#0095ff 95.5px)"></i><i style="top:76px;background:linear-gradient(90deg,#7fff80 0.5px,#6cff93 3.5px,#4dffb2 4.5px,#17ffe8 5.5px,#00e0ff 6.5px,#00c0ff 7.5px,#00b3ff 8.5px,#00b2ff 14.5px,#00a2ff 17.5px,#00b4ff 20.5px,#00b0ff 23.5px,#009eff 24.5px,#00a7ff 28.5px,#00b5ff 29.5px,#00aaff 31.5px,#00c3ff 33.5px,#0098ff 36.5px,#00b3ff 40.5px,#00a5ff 49.5px,#00baff 51.5px,#00afff 53.5px,#00b7ff 56.5px,#0098ff 60.5px,#00b2ff 63.5px,#00aeff 67.5px,#009aff 69.5px,#00b3ff 76.5px,#00a5ff 78.5px,#00c3ff 82.5px,#00a1ff 85.5px,#00b9ff 87.5px,#00abff 88.5px,#00a6ff 95.5px)"></i><i style="top:77px;background:linear-gradient(90deg,#7fff80 0.5px,#6eff91 3.5px,#51ffae 4.5px,#1fffe0 5.5px,#00ecff 6.5px,#00ceff 7.5px,#00c3ff 8.5px,#00c2ff 14.5px,#00b3ff 17.5px,#00c4ff 20.5px,#00c0ff 23.5px,#00afff 24.5px,#00b7ff 28.5px,#00c4ff 29.5px,#00baff 31.5px,#00d1ff 33.5px,#00a9ff 36.5px,#00c2ff 40.5px,#00b5ff 49.5px,#00c8ff 51.5px,#00c6ff 56.5px,#00a9ff 60.5px,#00c1ff 63.5px,#00beff 67.5px,#00abff 69.5px,#00c2ff 76.5px,#00b6ff 78.5px,#00d1ff 82.5px,#00b2ff 85.5px,#00c7ff 87.5px,#00bbff 88.5px,#00b7ff 95.5px)"></i><i style="top:78px;background:linear-gradient(90deg,#7fff80 0.5px,#6fff90 3.5px,#54ffab 4.5px,#00f7ff 6.5px,#00d1ff 8.5px,#00c2ff 17.5px,#00d2ff 20.5px,#00ceff 23.5px,#00beff 24.5px,#00d2ff 29.5px,#00c9ff 31.5px,#00deff 33.5px,#00b9ff 36.5px,#00d0ff 40.5px,#00c4ff 49.5px,#00d6ff 51.5px,#00d4ff 56.5px,#00b9ff 60.5px,#00d0ff 63.5px,#00cdff 67.5px,#00bbff 69.5px,#00d1ff 76.5px,#00c5ff 78.5px,#00deff 82.5px,#00c1ff 85.5px,#00d5ff 87.5px,#00c9ff 88.5px,#00c6ff 95.5px)"></i><i style="top:79px;background:linear-gradient(90deg,#7fff80 0.5px,#70ff8f 3.5px,#57ffa8 4.5px,#02fffd 6.5px,#00e7ff 7.5px,#00d0ff 17.5px,#00dbff 23.5px,#00ccff 24.5px,#00dfff 29.5px,#00d6ff 31.5px,#00eaff 33.5px,#00c8ff 36.5px,#00ddff 40.5px,#00d2ff 49.5px,#00e2ff 51.5px,#00e0ff 56.5px,#00c7ff 60.5px,#00dcff 63.5px,#00daff 67.5px,#00c9ff 69.5px,#00ddff 76.5px,#00d2ff 78.5px,#00eaff 82.5px,#00cfff 85.5px,#00e2ff 87.5px,#00d7ff 88.5px,#00d3ff 95.5px)"></i><i style="top:80px;background:linear-gradient(90deg,#7fff80 0.5px,#71ff8e 3.5px,#5affa5 4.5px,#0bfff4 6.5px,#00f2ff 7.5px,#00dcff 17.5px,#00e6ff 23.5px,#00d9ff 24.5px,#00eaff 29.5px,#00e2ff 31.5px,#00f4ff 33.5px,#00d4ff 36.5px,#00e8ff 40.5px,#00deff 49.5px,#00edff 51.5px,#00ebff 56.5px,#00d4ff 60.5px,#00e7ff 63.5px,#00e5ff 67.5px,#00d6ff 69.5px,#00e8ff 76.5px,#00deff 78.5px,#00f4ff 82.5px,#00dbff 85.5px,#00ecff 87.5px,#00dfff 95.5px)"></i><i style="top:81px;background:linear-gradient(90deg,#7fff80 0.5px,#72ff8d 3.5px,#5dffa2 4.5px,#12ffed 6.5px,#00fbff 7.5px,#00e6ff 17.5px,#00f0ff 23.5px,#00e3ff 24.5px,#00f3ff 29.5px,#00ecff 31.5px,#00fdff 33.5px,#00dfff 36.5px,#00f2ff 40.5px,#00e8ff 49.5px,#00f6ff 51.5px,#00f4ff 56.5px,#00dfff 60.5px,#00f1ff 63.5px,#00e0ff 69.5px,#00f2ff 76.5px,#00e8ff 78.5px,#00fdff 82.5px,#00e6ff 85.5px,#00f6ff 87.5px,#00e9ff 95.5px)"></i><i style="top:82px;background:linear-gradient(90deg,#7fff80 0.5px,#73ff8c 3.5px,#5fffa0 4.5px,#18ffe7 6.5px,#00faff 8.5px,#00efff 17.5px,#00f8ff 23.5px,#00ecff 24.5px,#00feff 34.5px,#00e8ff 36.5px,#00faff 40.5px,#00f1ff 49.5px,#00feff 51.5px,#00fcff 56.5px,#00e8ff 60.5px,#00f9ff 63.5px,#00eaff 69.5px,#00ffff 81.5px,#00eeff 85.5px,#00feff 87.5px,#00f2ff 95.5px)"></i><i style="top:83px;background:linear-gradient(90deg,#7fff80 0.5px,#74ff8b 3.5px,#0afff5 7.5px,#01fffe 9.5px,#00ffff 23.5px,#00f4ff 24.5px,#06fff9 34.5px,#00f0ff 36.5px,#02fffd 40.5px,#04fffb 56.5px,#00f0ff 60.5px,#01fffe 63.5px,#00f1ff 69.5px,#0cfff3 82.5px,#00f6ff 85.5px,#00f9ff 95.5px)"></i><i style="top:84px;background:linear-gradient(90deg,#7fff80 0.5px,#74ff8b 3.5px,#10ffef 7.5px,#05fffa 10.5px,#01fffe 28.5px,#11ffee 33.5px,#00feff 35.5px,#0afff5 42.5px,#00ffff 49.5px,#0cfff3 51.5px,#00ffff 78.5px,#11ffee 82.5px,#00fdff 85.5px,#0bfff4 87.5px,#01fffe 95.5px)"></i><i style="top:85px;background:linear-gradient(90deg,#7fff80 0.5px,#75ff8a 3.5px,#14ffeb 7.5px,#0afff5 10.5px,#04fffb 17.5px,#0efff1 20.5px,#01fffe 24.5px,#08fff7 31.5px,#16ffe9 33.5px,#00fdff 36.5px,#0ffff0 42.5px,#05fffa 49.5px,#11ffee 51.5px,#00feff 69.5px,#06fff9 78.5px,#16ffe9 82.5px,#03fffc 85.5px,#10ffef 87.5px,#06fff9 95.5px)"></i><i style="top:86px;background:linear-gradient(90deg,#7fff80 0.5px,#75ff8a 3.5px,#19ffe6 7.5px,#0ffff0 10.5px,#12ffed 20.5px,#06fff9 24.5px,#1affe5 33.5px,#03fffc 36.5px,#11ffee 40.5px,#0afff5 49.5px,#15ffea 51.5px,#03fffc 60.5px,#11ffee 63.5px,#04fffb 69.5px,#0afff5 78.5px,#1affe5 82.5px,#08fff7 85.5px,#15ffea 87.5px,#0bfff4 95.5px)"></i><i style="top:87px;background:linear-gradient(90deg,#7fff80 0.5px,#75ff8a 3.5px,#1cffe3 7.5px,#13ffec 10.5px,#16ffe9 20.5px,#0afff5 24.5px,#1effe1 33.5px,#07fff8 36.5px,#15ffea 40.5px,#0efff1 49.5px,#19ffe6 51.5px,#07fff8 60.5px,#15ffea 63.5px,#08fff7 69.5px,#1effe1 82.5px,#0cfff3 85.5px,#18ffe7 87.5px,#0ffff0 95.5px)"></i><i style="top:88px;background:linear-gradient(90deg,#7fff80 0.5px,#76ff89 3.5px,#1fffe0 7.5px,#16ffe9 10.5px,#1affe5 20.5px,#0efff1 24.5px,#21ffde 33.5px,#0bfff4 36.5px,#19ffe6 40.5px,#12ffed 49.5px,#1cffe3 51.5px,#0bfff4 60.5px,#18ffe7 63.5px,#0cfff3 69.5px,#21ffde 82.5px,#10ffef 85.5px,#1cffe3 87.5px,#13ffec 95.5px)"></i><i style="top:89px;background:linear-gradient(90deg,#7fff80 0.5px,#76ff89 3.5px,#22ffdd 7.5px,#19ffe6 10.5px,#11ffee 24.5px,#23ffdc 33.5px,#0efff1 36.5px,#1fffe0 51.5px,#0ffff0 69.5px,#24ffdb 82.5px,#13ffec 85.5px,#1effe1 87.5px,#16ffe9 95.5px)"></i><i style="top:90px;background:linear-gradient(90deg,#7fff80 0.5px,#76ff89 3.5px,#24ffdb 7.5px,#1bffe4 10.5px,#14ffeb 24.5px,#26ffd9 33.5px,#11ffee 36.5px,#21ffde 51.5px,#12ffed 69.5px,#26ffd9 82.5px,#16ffe9 85.5px,#21ffde 87.5px,#18ffe7 95.5px)"></i><i style="top:91px;background:linear-gradient(90deg,#7fff80 0.5px,#76ff89 3.5px,#26ffd9 7.5px,#1dffe2 10.5px,#16ffe9 24.5px,#27ffd8 33.5px,#13ffec 36.5px,#23ffdc 51.5px,#14ffeb 69.5px,#28ffd7 82.5px,#18ffe7 85.5px,#23ffdc 87.5px,#1affe5 95.5px)"></i><i style="top:92px;background:linear-gradient(90deg,#7fff80 0.5px,#77ff88 3.5px,#28ffd7 7.5px,#1fffe0 10.5px,#18ffe7 24.5px,#29ffd6 33.5px,#15ffea 36.5px,#25ffda 51.5px,#16ffe9 69.5px,#29ffd6 82.5px,#19ffe6 85.5px,#24ffdb 87.5px,#1cffe3 95.5px)"></i><i style="top:93px;background:linear-gradient(90deg,#7fff80 0.5px,#77ff88 3.5px,#29ffd6 7.5px,#20ffdf 10.5px,#19ffe6 24.5px,#2affd5 33.5px,#16ffe9 36.5px,#26ffd9 51.5px,#17ffe8 69.5px,#2affd5 82.5px,#1bffe4 85.5px,#25ffda 87.5px,#1dffe2 95.5px)"></i><i style="top:94px;background:linear-gradient(90deg,#7fff80 0.5px,#77ff88 3.5px,#29ffd6 7.5px,#21ffde 10.5px,#1affe5 24.5px,#2bffd4 33.5px,#17ffe8 36.5px,#27ffd8 51.5px,#18ffe7 69.5px,#2bffd4 82.5px,#1cffe3 85.5px,#26ffd9 87.5px,#1effe1 95.5px)"></i><i style="top:95px;background:linear-gradient(90deg,#7fff80 0.5px,#77ff88 3.5px,#2affd5 7.5px,#22ffdd 10.5px,#1bffe4 24.5px,#2bffd4 33.5px,#18ffe7 36.5px,#27ffd8 51.5px,#19ffe6 69.5px,#2bffd4 82.5px,#1cffe3 85.5px,#27ffd8 87.5px,#1fffe0 95.5px)"></i><i style="top:96px;background:linear-gradient(90deg,#7fff80 0.5px,#77ff88 3.5px,#2bffd4 7.5px,#22ffdd 10.5px,#1bffe4 24.5px,#2cffd3 33.5px,#19ffe6 36.5px,#28ffd7 51.5px,#1affe5 69.5px,#2cffd3 82.5px,#1dffe2 85.5px,#27ffd8 87.5px,#1fffe0 95.5px)"></i></div>
<svg width="520" height="261" viewBox="0 0 520 261">
<defs>
<linearGradient id="jet" x1="0" y1="0" x2="0" y2="1"><stop offset="0.000" stop-color="#800000"/><stop offset="0.016" stop-color="#900000"/><stop offset="0.032" stop-color="#a00000"/><stop offset="0.048" stop-color="#b00000"/><stop offset="0.063" stop-color="#c00000"/><stop offset="0.079" stop-color="#d00000"/><stop offset="0.095" stop-color="#e10000"/><stop offset="0.111" stop-color="#f10000"/><stop offset="0.127" stop-color="#ff0200"/><stop offset="0.143" stop-color="#ff1200"/><stop offset="0.159" stop-color="#ff2200"/><stop offset="0.175" stop-color="#ff3300"/><stop offset="0.190" stop-color="#ff4300"/><stop offset="0.206" stop-color="#ff5300"/><stop offset="0.222" stop-color="#ff6300"/><stop offset="0.238" stop-color="#ff7300"/><stop offset="0.254" stop-color="#ff8400"/><stop offset="0.270" stop-color="#ff9400"/><stop offset="0.286" stop-color="#ffa400"/><stop offset="0.302" stop-color="#ffb400"/><stop offset="0.317" stop-color="#ffc400"/><stop offset="0.333" stop-color="#ffd400"/><stop offset="0.349" stop-color="#ffe500"/><stop offset="0.365" stop-color="#fff500"/><stop offset="0.381" stop-color="#f9ff06"/><stop offset="0.397" stop-color="#e9ff16"/><stop offset="0.413" stop-color="#d9ff26"/><stop offset="0.429" stop-color="#c8ff37"/><stop offset="0.444" stop-color="#b8ff47"/><stop offset="0.460" stop-color="#a8ff57"/><stop offset="0.476" stop-color="#98ff67"/><stop offset="0.492" stop-color="#88ff77"/><stop offset="0.508" stop-color="#77ff88"/><stop offset="0.524" stop-color="#67ff98"/><stop offset="0.540" stop-color="#57ffa8"/><stop offset="0.556" stop-color="#47ffb8"/><stop offset="0.571" stop-color="#37ffc8"/><stop offset="0.587" stop-color="#26ffd9"/><stop offset="0.603" stop-color="#16ffe9"/><stop offset="0.619" stop-color="#06fff9"/><stop offset="0.635" stop-color="#00f5ff"/><stop offset="0.651" stop-color="#00e5ff"/><stop offset="0.667" stop-color="#00d5ff"/><stop offset="0.683" stop-color="#00c4ff"/><stop offset="0.698" stop-color="#00b4ff"/><stop offset="0.714" stop-color="#00a4ff"/><stop offset="0.730" stop-color="#0094ff"/><stop offset="0.746" stop-color="#0084ff"/><stop offset="0.762" stop-color="#0073ff"/><stop offset="0.778" stop-color="#0063ff"/><stop offset="0.794" stop-color="#0053ff"/><stop offset="0.810" stop-color="#0043ff"/><stop offset="0.825" stop-color="#0033ff"/><stop offset="0.841" stop-color="#0022ff"/><stop offset="0.857" stop-color="#0012ff"/><stop offset="0.873" stop-color="#0002ff"/><stop offset="0.889" stop-color="#0000f1"/><stop offset="0.905" stop-color="#0000e1"/><stop offset="0.921" stop-color="#0000d0"/><stop offset="0.937" stop-color="#0000c0"/><stop offset="0.952" stop-color="#0000b0"/><stop offset="0.968" stop-color="#0000a0"/><stop offset="0.984" stop-color="#000090"/><stop offset="1.000" stop-color="#000080"/></linearGradient>
</defs>

<defs>
<linearGradient id="cbg" gradientUnits="userSpaceOnUse" x1="0" y1="14.7" x2="0" y2="84">
<stop offset="0" stop-color="#c6dcf2"/><stop offset="0.35" stop-color="#afcfd9"/><stop offset="0.65" stop-color="#93c3b7"/><stop offset="1" stop-color="#6cb39d"/>
</linearGradient>
<linearGradient id="vbg" gradientUnits="userSpaceOnUse" x1="0" y1="91" x2="0" y2="150">
<stop offset="0" stop-color="#f4bfa3"/><stop offset="0.25" stop-color="#ec9d7d"/><stop offset="0.55" stop-color="#d77f66"/><stop offset="0.7" stop-color="#dc8d70"/><stop offset="0.83" stop-color="#efb193"/><stop offset="0.93" stop-color="#fbe2d5"/><stop offset="1" stop-color="#ffffff"/>
</linearGradient>
<linearGradient id="nirg" x1="0" y1="0" x2="1" y2="0">
<stop offset="0" stop-color="#eb7f86" stop-opacity="0.55"/><stop offset="1" stop-color="#e85f66" stop-opacity="0.9"/>
</linearGradient>
<linearGradient id="xuvg" x1="0" y1="0" x2="1" y2="0">
<stop offset="0" stop-color="#a893cc" stop-opacity="0.85"/><stop offset="1" stop-color="#9c84c8" stop-opacity="0.95"/>
</linearGradient>
</defs>
<path d="M40 14.7L158.6 14.7L158.6 74.8L158.6 74.8C157.3 74.6 153.9 74.7 150.7 73.8C147.5 72.9 142.6 70.8 139.5 69.5C136.4 68.2 134.3 67.4 132.0 66.0C129.7 64.6 127.7 62.9 125.7 61.0C123.7 59.1 121.7 56.7 120.0 54.5C118.3 52.3 117.4 47.5 115.7 48.0C114.0 48.5 111.8 54.1 110.0 57.5C108.2 60.9 106.2 65.5 105.0 68.5C103.8 71.5 103.4 74.0 102.5 75.5C101.6 77.0 100.9 77.4 99.5 77.2C98.1 77.0 96.1 75.4 94.2 74.1C92.3 72.8 90.3 70.5 88.0 69.5C85.7 68.5 84.0 67.6 80.4 68.0C76.8 68.4 71.4 69.8 66.6 71.8C61.7 73.8 55.7 78.4 51.3 80.3C46.9 82.2 41.9 82.8 40.0 83.3L40 14.7Z" fill="url(#cbg)"/>
<path d="M70.5 16.5C71.6 17.3 74.8 19.7 77.0 21.5C79.2 23.3 81.7 25.6 84.0 27.2C86.3 28.8 88.5 29.8 91.0 31.0C93.5 32.2 96.3 33.2 99.0 34.5C101.7 35.8 105.0 37.6 107.0 39.0C109.0 40.4 109.5 41.5 111.0 43.0C112.5 44.5 114.2 46.1 115.7 48.0C117.2 49.9 118.3 52.3 120.0 54.5C121.7 56.7 123.7 59.1 125.7 61.0C127.7 62.9 129.7 64.6 132.0 66.0C134.3 67.4 136.4 68.2 139.5 69.5C142.6 70.8 147.5 72.9 150.7 73.8C153.9 74.7 157.3 74.6 158.6 74.8" fill="none" stroke="#3f9d77" stroke-width="1.6"/>
<path d="M40.0 83.3C41.9 82.8 46.9 82.2 51.3 80.3C55.7 78.4 61.7 73.8 66.6 71.8C71.4 69.8 76.8 68.4 80.4 68.0C84.0 67.6 85.7 68.5 88.0 69.5C90.3 70.5 92.3 72.8 94.2 74.1C96.1 75.4 98.1 77.0 99.5 77.2C100.9 77.4 101.6 77.0 102.5 75.5C103.4 74.0 103.8 71.5 105.0 68.5C106.2 65.5 108.2 60.9 110.0 57.5C111.8 54.1 114.3 50.7 115.7 48.0C117.1 45.3 117.5 43.2 118.5 41.5C119.5 39.8 120.4 38.2 121.5 37.8C122.6 37.3 123.2 37.0 125.0 38.8C126.8 40.6 129.6 45.1 132.6 48.8C135.6 52.5 139.8 57.6 143.0 60.9C146.2 64.2 148.9 66.7 151.5 68.6C154.1 70.5 157.4 71.8 158.6 72.5" fill="none" stroke="#3f9d77" stroke-width="1.6"/>
<path d="M40.0 115.4C41.7 114.8 46.4 113.1 50.0 111.5C53.6 109.9 58.4 107.6 61.9 105.9C65.4 104.2 67.8 102.9 71.0 101.5C74.2 100.1 77.0 99.0 81.0 97.5C85.0 96.0 91.7 93.8 95.3 92.8C98.9 91.8 100.0 91.2 102.4 91.4C104.8 91.6 106.8 92.4 109.6 94.0C112.4 95.6 115.9 98.1 119.1 101.1C122.3 104.1 125.5 108.1 128.7 111.9C131.9 115.7 135.5 121.0 138.2 123.8C140.9 126.6 143.0 127.3 145.0 128.5C147.0 129.7 147.7 130.0 150.2 131.0C152.7 132.0 158.4 133.9 160.0 134.5L160 150L40 150Z" fill="url(#vbg)"/>
<path d="M40.0 115.4C41.7 114.8 46.4 113.1 50.0 111.5C53.6 109.9 58.4 107.6 61.9 105.9C65.4 104.2 67.8 102.9 71.0 101.5C74.2 100.1 77.0 99.0 81.0 97.5C85.0 96.0 91.7 93.8 95.3 92.8C98.9 91.8 100.0 91.2 102.4 91.4C104.8 91.6 106.8 92.4 109.6 94.0C112.4 95.6 115.9 98.1 119.1 101.1C122.3 104.1 125.5 108.1 128.7 111.9C131.9 115.7 135.5 121.0 138.2 123.8C140.9 126.6 143.0 127.3 145.0 128.5C147.0 129.7 147.7 130.0 150.2 131.0C152.7 132.0 158.4 133.9 160.0 134.5" fill="none" stroke="#b9302a" stroke-width="1.5"/>
<path d="M88.3 134.5C88.8 131.6 89.9 122.2 91.0 117.0C92.1 111.8 93.3 106.5 95.0 103.0C96.7 99.5 99.1 96.4 101.0 96.3C102.9 96.2 104.9 99.2 106.5 102.5C108.1 105.8 109.3 110.7 110.5 116.0C111.7 121.3 113.1 131.4 113.6 134.5" fill="none" stroke="#bb5232" stroke-width="1.3"/>
<text x="121.5" y="24.3" font-family="'Liberation Serif', serif" font-size="8.4" fill="#60748a">Conduction</text>
<text x="132" y="33.4" font-family="'Liberation Serif', serif" font-size="8.4" fill="#60748a">band</text>
<text x="131.5" y="139.8" font-family="'Liberation Serif', serif" font-size="8.1" fill="#86503e">Valence</text>
<text x="138.5" y="147" font-family="'Liberation Serif', serif" font-size="8.1" fill="#86503e">band</text>
<line x1="40" y1="91.2" x2="160" y2="91.2" stroke="#151515" stroke-width="1"/>
<line x1="39.8" y1="25" x2="39.8" y2="145.5" stroke="#111" stroke-width="1"/>
<path d="M39.8 22L37.9 26.5L41.7 26.5Z" fill="#111"/>
<path d="M0 127.5L13 117.5L14.3 111L16 143L18.2 61L20.3 145L22.6 126L24.5 106L26.2 112L28 109.5L31 107.5" fill="none" stroke="#e25a66" stroke-width="0.9" stroke-linejoin="round"/>
<g transform="translate(31 105.5) rotate(-23)">
<path d="M0 -5.6L48 -5.6L48 -10.5L61 0L48 10.5L48 5.6L0 5.6Z" fill="url(#nirg)"/>
<text x="28.8" y="3" font-family="'Liberation Sans', sans-serif" font-size="8" fill="#fff" text-anchor="middle">NIR pump</text>
</g>
<path d="M26 158.5C26.3 180 27 195 25.5 200C24.8 205 25.5 225 26 239.5" fill="none" stroke="#7b42c6" stroke-width="0.9"/>
<path d="M25.2 180L26.6 200L25.6 220Z" fill="#7b42c6"/>
<path d="M13.4 206.7L30.7 196.4" stroke="#b8a4dc" stroke-width="0.6"/>
<path d="M22 200L23 194L24 205L25 193L27.5 206L28.5 195" fill="none" stroke="#7b42c6" stroke-width="0.6"/>
<g transform="translate(31.4 197.2) rotate(-30)">
<path d="M0 -5.6L62 -5.6L62 -11L75.5 0L62 11L62 5.6L0 5.6Z" fill="url(#xuvg)"/>
<text x="32.7" y="3" font-family="'Liberation Sans', sans-serif" font-size="8.2" fill="#fff" text-anchor="middle">XUV probe</text>
</g>
<line x1="88.7" y1="91.4" x2="88.7" y2="73" stroke="#e0505a" stroke-width="1"/>
<path d="M88.7 69.5L86.9 74.5L90.5 74.5Z" fill="#e0505a"/>
<line x1="105" y1="72" x2="105" y2="236" stroke="#7d55c7" stroke-width="1"/>
<path d="M105 68L103.2 73L106.8 73Z" fill="#7d55c7"/>
<path d="M101 77.2L102.5 77.2L102.5 91.2M102.5 84.2L104 84.2" stroke="#111" stroke-width="0.9" fill="none"/>
<path d="M149.8 75.5L151.4 75.5L151.4 91.2M151.4 84L153.2 84" stroke="#111" stroke-width="0.9" fill="none"/>
<path d="M97.8 196.4L109.8 177M100 198.5L111.7 178.4" stroke="#7d55c7" stroke-width="0.8"/>
<line x1="91" y1="235.6" x2="119" y2="235.6" stroke="#8d72c4" stroke-width="1"/>
<circle cx="105.6" cy="235.6" r="4.9" fill="#7030a0"/>
<text transform="translate(111.1 223) scale(0.97 1)" font-family="'Liberation Sans', sans-serif" font-size="8.8" fill="#7040a8" stroke="#7040a8" stroke-width="0.15">3d core orbital</text>
<text transform="translate(14.6 81.8) scale(0.9 1)" font-family="'Liberation Sans', sans-serif" font-size="6.6" fill="#222" stroke="#222" stroke-width="0.25">0.67 eV</text>
<text transform="translate(111.8 86.3) scale(0.9 1)" font-family="'Liberation Sans', sans-serif" font-size="6.7" fill="#111" stroke="#111" stroke-width="0.15">0.80 eV</text>
<text transform="translate(160.9 86.2) scale(0.9 1)" font-family="'Liberation Sans', sans-serif" font-size="6.7" fill="#111" stroke="#111" stroke-width="0.15">0.85 eV</text>
<text x="28.6" y="90" font-family="'Liberation Serif', serif" font-style="italic" font-size="10" fill="#222">ε</text>
<text x="33.4" y="92.7" font-family="'Liberation Sans', sans-serif" font-size="6.5" fill="#222">0</text>
<text x="39.6" y="155.8" font-family="'Liberation Sans', sans-serif" font-weight="bold" font-size="7" fill="#111">L</text>
<text x="98.9" y="155.9" font-family="'Liberation Sans', sans-serif" font-weight="bold" font-size="7" fill="#111">Γ</text>
<text x="146.3" y="155.9" font-family="'Liberation Sans', sans-serif" font-weight="bold" font-size="7" fill="#111">X</text>
<text transform="translate(5.7 10.3) scale(1.05 1)" font-family="'Liberation Sans', sans-serif" font-size="12.3" fill="#333" stroke="#333" stroke-width="0.22">(a)</text>

<rect x="220.0" y="13.3" width="95.7" height="96.7" fill="none" stroke="#3c3c3c" stroke-width="0.7"/><text transform="translate(268.05 21.60) scale(0.92 1)" font-family="'Liberation Sans', Arial, sans-serif" font-size="8.5" font-weight="bold" text-anchor="middle" fill="#000" stroke="#000" stroke-width="0.22">Total</text><text transform="translate(217.00 17.00) scale(0.9 1)" font-family="'Liberation Sans', Arial, sans-serif" font-size="8.4" text-anchor="end" fill="#262626" stroke="#262626" stroke-width="0.22">31.5</text><text transform="translate(217.00 32.00) scale(0.9 1)" font-family="'Liberation Sans', Arial, sans-serif" font-size="8.4" text-anchor="end" fill="#262626" stroke="#262626" stroke-width="0.22">31</text><text transform="translate(217.00 47.00) scale(0.9 1)" font-family="'Liberation Sans', Arial, sans-serif" font-size="8.4" text-anchor="end" fill="#262626" stroke="#262626" stroke-width="0.22">30.5</text><text transform="translate(217.00 62.00) scale(0.9 1)" font-family="'Liberation Sans', Arial, sans-serif" font-size="8.4" text-anchor="end" fill="#262626" stroke="#262626" stroke-width="0.22">30</text><text transform="translate(217.00 77.00) scale(0.9 1)" font-family="'Liberation Sans', Arial, sans-serif" font-size="8.4" text-anchor="end" fill="#262626" stroke="#262626" stroke-width="0.22">29.5</text><text transform="translate(217.00 92.00) scale(0.9 1)" font-family="'Liberation Sans', Arial, sans-serif" font-size="8.4" text-anchor="end" fill="#262626" stroke="#262626" stroke-width="0.22">29</text><text transform="translate(217.00 107.00) scale(0.9 1)" font-family="'Liberation Sans', Arial, sans-serif" font-size="8.4" text-anchor="end" fill="#262626" stroke="#262626" stroke-width="0.22">28.5</text><text transform="translate(225.50 120.10) scale(0.97 1)" font-family="'Liberation Sans', Arial, sans-serif" font-size="8.4" text-anchor="middle" fill="#262626" stroke="#262626" stroke-width="0.22">0</text><text transform="translate(243.00 120.10) scale(0.97 1)" font-family="'Liberation Sans', Arial, sans-serif" font-size="8.4" text-anchor="middle" fill="#262626" stroke="#262626" stroke-width="0.22">2</text><text transform="translate(260.50 120.10) scale(0.97 1)" font-family="'Liberation Sans', Arial, sans-serif" font-size="8.4" text-anchor="middle" fill="#262626" stroke="#262626" stroke-width="0.22">4</text><text transform="translate(278.00 120.10) scale(0.97 1)" font-family="'Liberation Sans', Arial, sans-serif" font-size="8.4" text-anchor="middle" fill="#262626" stroke="#262626" stroke-width="0.22">6</text><text transform="translate(295.50 120.10) scale(0.97 1)" font-family="'Liberation Sans', Arial, sans-serif" font-size="8.4" text-anchor="middle" fill="#262626" stroke="#262626" stroke-width="0.22">8</text><text transform="translate(313.00 120.10) scale(0.97 1)" font-family="'Liberation Sans', Arial, sans-serif" font-size="8.4" text-anchor="middle" fill="#262626" stroke="#262626" stroke-width="0.22">10</text><text transform="translate(267.85 130.30) scale(1.05 1)" font-family="'Liberation Sans', Arial, sans-serif" font-size="8.4" text-anchor="middle" fill="#262626" stroke="#262626" stroke-width="0.22">Delay <tspan font-style="italic">τ</tspan> (ps)</text><text transform="translate(197.90 60.50) rotate(-90) scale(1.0 0.82)" font-family="'Liberation Sans', Arial, sans-serif" font-size="9.2" text-anchor="middle" fill="#262626" stroke="#262626" stroke-width="0.22">Energy (eV)</text><rect x="322.7" y="13.8" width="10" height="95.9" fill="url(#jet)" stroke="#3c3c3c" stroke-width="0.5"/><text transform="translate(335.80 17.10) scale(0.86 1)" font-family="'Liberation Sans', Arial, sans-serif" font-size="8.2" fill="#262626" stroke="#262626" stroke-width="0.22">0.15</text><text transform="translate(335.80 42.57) scale(0.86 1)" font-family="'Liberation Sans', Arial, sans-serif" font-size="8.2" fill="#262626" stroke="#262626" stroke-width="0.22">0.07</text><text transform="translate(335.80 64.85) scale(0.86 1)" font-family="'Liberation Sans', Arial, sans-serif" font-size="8.2" fill="#262626" stroke="#262626" stroke-width="0.22">0</text><text transform="translate(335.80 87.13) scale(0.86 1)" font-family="'Liberation Sans', Arial, sans-serif" font-size="8.2" fill="#262626" stroke="#262626" stroke-width="0.22">-0.07</text><text transform="translate(335.80 112.60) scale(0.86 1)" font-family="'Liberation Sans', Arial, sans-serif" font-size="8.2" fill="#262626" stroke="#262626" stroke-width="0.22">-0.15</text><text transform="translate(350.60 62.60) rotate(-90) scale(1.0 0.9)" font-family="'Liberation Sans', Arial, sans-serif" font-size="7.4" text-anchor="middle" fill="#262626" stroke="#262626" stroke-width="0.22">ΔR/R</text><text transform="translate(181.50 10.30) scale(1.05 1)" font-family="'Liberation Sans', Arial, sans-serif" font-size="12.3" fill="#333" stroke="#333" stroke-width="0.22">(b)</text><rect x="385.6" y="14.2" width="95.9" height="96.5" fill="none" stroke="#3c3c3c" stroke-width="0.7"/><text transform="translate(433.75 22.50) scale(0.92 1)" font-family="'Liberation Sans', Arial, sans-serif" font-size="8.5" font-weight="bold" text-anchor="middle" fill="#000" stroke="#000" stroke-width="0.22">Holes</text><text transform="translate(382.60 17.90) scale(0.9 1)" font-family="'Liberation Sans', Arial, sans-serif" font-size="8.4" text-anchor="end" fill="#262626" stroke="#262626" stroke-width="0.22">31.5</text><text transform="translate(382.60 32.90) scale(0.9 1)" font-family="'Liberation Sans', Arial, sans-serif" font-size="8.4" text-anchor="end" fill="#262626" stroke="#262626" stroke-width="0.22">31</text><text transform="translate(382.60 47.90) scale(0.9 1)" font-family="'Liberation Sans', Arial, sans-serif" font-size="8.4" text-anchor="end" fill="#262626" stroke="#262626" stroke-width="0.22">30.5</text><text transform="translate(382.60 62.90) scale(0.9 1)" font-family="'Liberation Sans', Arial, sans-serif" font-size="8.4" text-anchor="end" fill="#262626" stroke="#262626" stroke-width="0.22">30</text><text transform="translate(382.60 77.90) scale(0.9 1)" font-family="'Liberation Sans', Arial, sans-serif" font-size="8.4" text-anchor="end" fill="#262626" stroke="#262626" stroke-width="0.22">29.5</text><text transform="translate(382.60 92.90) scale(0.9 1)" font-family="'Liberation Sans', Arial, sans-serif" font-size="8.4" text-anchor="end" fill="#262626" stroke="#262626" stroke-width="0.22">29</text><text transform="translate(382.60 107.90) scale(0.9 1)" font-family="'Liberation Sans', Arial, sans-serif" font-size="8.4" text-anchor="end" fill="#262626" stroke="#262626" stroke-width="0.22">28.5</text><text transform="translate(391.10 120.80) scale(0.97 1)" font-family="'Liberation Sans', Arial, sans-serif" font-size="8.4" text-anchor="middle" fill="#262626" stroke="#262626" stroke-width="0.22">0</text><text transform="translate(408.60 120.80) scale(0.97 1)" font-family="'Liberation Sans', Arial, sans-serif" font-size="8.4" text-anchor="middle" fill="#262626" stroke="#262626" stroke-width="0.22">2</text><text transform="translate(426.10 120.80) scale(0.97 1)" font-family="'Liberation Sans', Arial, sans-serif" font-size="8.4" text-anchor="middle" fill="#262626" stroke="#262626" stroke-width="0.22">4</text><text transform="translate(443.60 120.80) scale(0.97 1)" font-family="'Liberation Sans', Arial, sans-serif" font-size="8.4" text-anchor="middle" fill="#262626" stroke="#262626" stroke-width="0.22">6</text><text transform="translate(461.10 120.80) scale(0.97 1)" font-family="'Liberation Sans', Arial, sans-serif" font-size="8.4" text-anchor="middle" fill="#262626" stroke="#262626" stroke-width="0.22">8</text><text transform="translate(478.60 120.80) scale(0.97 1)" font-family="'Liberation Sans', Arial, sans-serif" font-size="8.4" text-anchor="middle" fill="#262626" stroke="#262626" stroke-width="0.22">10</text><text transform="translate(433.55 131.00) scale(1.05 1)" font-family="'Liberation Sans', Arial, sans-serif" font-size="8.4" text-anchor="middle" fill="#262626" stroke="#262626" stroke-width="0.22">Delay <tspan font-style="italic">τ</tspan> (ps)</text><text transform="translate(363.50 61.40) rotate(-90) scale(1.0 0.82)" font-family="'Liberation Sans', Arial, sans-serif" font-size="9.2" text-anchor="middle" fill="#262626" stroke="#262626" stroke-width="0.22">Energy (eV)</text><rect x="488.6" y="14.7" width="10" height="95.7" fill="url(#jet)" stroke="#3c3c3c" stroke-width="0.5"/><text transform="translate(501.70 18.00) scale(0.86 1)" font-family="'Liberation Sans', Arial, sans-serif" font-size="8.2" fill="#262626" stroke="#262626" stroke-width="0.22">0.15</text><text transform="translate(501.70 43.41) scale(0.86 1)" font-family="'Liberation Sans', Arial, sans-serif" font-size="8.2" fill="#262626" stroke="#262626" stroke-width="0.22">0.07</text><text transform="translate(501.70 65.65) scale(0.86 1)" font-family="'Liberation Sans', Arial, sans-serif" font-size="8.2" fill="#262626" stroke="#262626" stroke-width="0.22">0</text><text transform="translate(501.70 87.89) scale(0.86 1)" font-family="'Liberation Sans', Arial, sans-serif" font-size="8.2" fill="#262626" stroke="#262626" stroke-width="0.22">-0.07</text><text transform="translate(501.70 113.30) scale(0.86 1)" font-family="'Liberation Sans', Arial, sans-serif" font-size="8.2" fill="#262626" stroke="#262626" stroke-width="0.22">-0.15</text><text transform="translate(516.50 63.50) rotate(-90) scale(1.0 0.9)" font-family="'Liberation Sans', Arial, sans-serif" font-size="7.4" text-anchor="middle" fill="#262626" stroke="#262626" stroke-width="0.22">ΔR/R</text><text transform="translate(351.50 11.10) scale(1.05 1)" font-family="'Liberation Sans', Arial, sans-serif" font-size="12.3" fill="#333" stroke="#333" stroke-width="0.22">(c)</text><rect x="220.0" y="140.7" width="95.7" height="96.9" fill="none" stroke="#3c3c3c" stroke-width="0.7"/><text transform="translate(268.05 149.00) scale(0.92 1)" font-family="'Liberation Sans', Arial, sans-serif" font-size="8.5" font-weight="bold" text-anchor="middle" fill="#000" stroke="#000" stroke-width="0.22">Electrons</text><text transform="translate(217.00 144.40) scale(0.9 1)" font-family="'Liberation Sans', Arial, sans-serif" font-size="8.4" text-anchor="end" fill="#262626" stroke="#262626" stroke-width="0.22">31.5</text><text transform="translate(217.00 159.40) scale(0.9 1)" font-family="'Liberation Sans', Arial, sans-serif" font-size="8.4" text-anchor="end" fill="#262626" stroke="#262626" stroke-width="0.22">31</text><text transform="translate(217.00 174.40) scale(0.9 1)" font-family="'Liberation Sans', Arial, sans-serif" font-size="8.4" text-anchor="end" fill="#262626" stroke="#262626" stroke-width="0.22">30.5</text><text transform="translate(217.00 189.40) scale(0.9 1)" font-family="'Liberation Sans', Arial, sans-serif" font-size="8.4" text-anchor="end" fill="#262626" stroke="#262626" stroke-width="0.22">30</text><text transform="translate(217.00 204.40) scale(0.9 1)" font-family="'Liberation Sans', Arial, sans-serif" font-size="8.4" text-anchor="end" fill="#262626" stroke="#262626" stroke-width="0.22">29.5</text><text transform="translate(217.00 219.40) scale(0.9 1)" font-family="'Liberation Sans', Arial, sans-serif" font-size="8.4" text-anchor="end" fill="#262626" stroke="#262626" stroke-width="0.22">29</text><text transform="translate(217.00 234.40) scale(0.9 1)" font-family="'Liberation Sans', Arial, sans-serif" font-size="8.4" text-anchor="end" fill="#262626" stroke="#262626" stroke-width="0.22">28.5</text><text transform="translate(225.50 247.70) scale(0.97 1)" font-family="'Liberation Sans', Arial, sans-serif" font-size="8.4" text-anchor="middle" fill="#262626" stroke="#262626" stroke-width="0.22">0</text><text transform="translate(243.00 247.70) scale(0.97 1)" font-family="'Liberation Sans', Arial, sans-serif" font-size="8.4" text-anchor="middle" fill="#262626" stroke="#262626" stroke-width="0.22">2</text><text transform="translate(260.50 247.70) scale(0.97 1)" font-family="'Liberation Sans', Arial, sans-serif" font-size="8.4" text-anchor="middle" fill="#262626" stroke="#262626" stroke-width="0.22">4</text><text transform="translate(278.00 247.70) scale(0.97 1)" font-family="'Liberation Sans', Arial, sans-serif" font-size="8.4" text-anchor="middle" fill="#262626" stroke="#262626" stroke-width="0.22">6</text><text transform="translate(295.50 247.70) scale(0.97 1)" font-family="'Liberation Sans', Arial, sans-serif" font-size="8.4" text-anchor="middle" fill="#262626" stroke="#262626" stroke-width="0.22">8</text><text transform="translate(313.00 247.70) scale(0.97 1)" font-family="'Liberation Sans', Arial, sans-serif" font-size="8.4" text-anchor="middle" fill="#262626" stroke="#262626" stroke-width="0.22">10</text><text transform="translate(267.85 257.90) scale(1.05 1)" font-family="'Liberation Sans', Arial, sans-serif" font-size="8.4" text-anchor="middle" fill="#262626" stroke="#262626" stroke-width="0.22">Delay <tspan font-style="italic">τ</tspan> (ps)</text><text transform="translate(197.90 187.90) rotate(-90) scale(1.0 0.82)" font-family="'Liberation Sans', Arial, sans-serif" font-size="9.2" text-anchor="middle" fill="#262626" stroke="#262626" stroke-width="0.22">Energy (eV)</text><rect x="322.7" y="141.2" width="10" height="96.1" fill="url(#jet)" stroke="#3c3c3c" stroke-width="0.5"/><text transform="translate(335.80 144.50) scale(0.86 1)" font-family="'Liberation Sans', Arial, sans-serif" font-size="8.2" fill="#262626" stroke="#262626" stroke-width="0.22">0.15</text><text transform="translate(335.80 170.02) scale(0.86 1)" font-family="'Liberation Sans', Arial, sans-serif" font-size="8.2" fill="#262626" stroke="#262626" stroke-width="0.22">0.07</text><text transform="translate(335.80 192.35) scale(0.86 1)" font-family="'Liberation Sans', Arial, sans-serif" font-size="8.2" fill="#262626" stroke="#262626" stroke-width="0.22">0</text><text transform="translate(335.80 214.68) scale(0.86 1)" font-family="'Liberation Sans', Arial, sans-serif" font-size="8.2" fill="#262626" stroke="#262626" stroke-width="0.22">-0.07</text><text transform="translate(335.80 240.20) scale(0.86 1)" font-family="'Liberation Sans', Arial, sans-serif" font-size="8.2" fill="#262626" stroke="#262626" stroke-width="0.22">-0.15</text><text transform="translate(350.60 190.00) rotate(-90) scale(1.0 0.9)" font-family="'Liberation Sans', Arial, sans-serif" font-size="7.4" text-anchor="middle" fill="#262626" stroke="#262626" stroke-width="0.22">ΔR/R</text><text transform="translate(181.80 136.50) scale(1.05 1)" font-family="'Liberation Sans', Arial, sans-serif" font-size="12.3" fill="#333" stroke="#333" stroke-width="0.22">(d)</text><rect x="386.0" y="140.7" width="95.5" height="96.9" fill="none" stroke="#3c3c3c" stroke-width="0.7"/><text transform="translate(433.95 149.00) scale(0.92 1)" font-family="'Liberation Sans', Arial, sans-serif" font-size="8.5" font-weight="bold" text-anchor="middle" fill="#000" stroke="#000" stroke-width="0.22">Shift</text><text transform="translate(383.00 144.40) scale(0.9 1)" font-family="'Liberation Sans', Arial, sans-serif" font-size="8.4" text-anchor="end" fill="#262626" stroke="#262626" stroke-width="0.22">31.5</text><text transform="translate(383.00 159.40) scale(0.9 1)" font-family="'Liberation Sans', Arial, sans-serif" font-size="8.4" text-anchor="end" fill="#262626" stroke="#262626" stroke-width="0.22">31</text><text transform="translate(383.00 174.40) scale(0.9 1)" font-family="'Liberation Sans', Arial, sans-serif" font-size="8.4" text-anchor="end" fill="#262626" stroke="#262626" stroke-width="0.22">30.5</text><text transform="translate(383.00 189.40) scale(0.9 1)" font-family="'Liberation Sans', Arial, sans-serif" font-size="8.4" text-anchor="end" fill="#262626" stroke="#262626" stroke-width="0.22">30</text><text transform="translate(383.00 204.40) scale(0.9 1)" font-family="'Liberation Sans', Arial, sans-serif" font-size="8.4" text-anchor="end" fill="#262626" stroke="#262626" stroke-width="0.22">29.5</text><text transform="translate(383.00 219.40) scale(0.9 1)" font-family="'Liberation Sans', Arial, sans-serif" font-size="8.4" text-anchor="end" fill="#262626" stroke="#262626" stroke-width="0.22">29</text><text transform="translate(383.00 234.40) scale(0.9 1)" font-family="'Liberation Sans', Arial, sans-serif" font-size="8.4" text-anchor="end" fill="#262626" stroke="#262626" stroke-width="0.22">28.5</text><text transform="translate(391.50 247.70) scale(0.97 1)" font-family="'Liberation Sans', Arial, sans-serif" font-size="8.4" text-anchor="middle" fill="#262626" stroke="#262626" stroke-width="0.22">0</text><text transform="translate(409.00 247.70) scale(0.97 1)" font-family="'Liberation Sans', Arial, sans-serif" font-size="8.4" text-anchor="middle" fill="#262626" stroke="#262626" stroke-width="0.22">2</text><text transform="translate(426.50 247.70) scale(0.97 1)" font-family="'Liberation Sans', Arial, sans-serif" font-size="8.4" text-anchor="middle" fill="#262626" stroke="#262626" stroke-width="0.22">4</text><text transform="translate(444.00 247.70) scale(0.97 1)" font-family="'Liberation Sans', Arial, sans-serif" font-size="8.4" text-anchor="middle" fill="#262626" stroke="#262626" stroke-width="0.22">6</text><text transform="translate(461.50 247.70) scale(0.97 1)" font-family="'Liberation Sans', Arial, sans-serif" font-size="8.4" text-anchor="middle" fill="#262626" stroke="#262626" stroke-width="0.22">8</text><text transform="translate(479.00 247.70) scale(0.97 1)" font-family="'Liberation Sans', Arial, sans-serif" font-size="8.4" text-anchor="middle" fill="#262626" stroke="#262626" stroke-width="0.22">10</text><text transform="translate(433.75 257.90) scale(1.05 1)" font-family="'Liberation Sans', Arial, sans-serif" font-size="8.4" text-anchor="middle" fill="#262626" stroke="#262626" stroke-width="0.22">Delay <tspan font-style="italic">τ</tspan> (ps)</text><text transform="translate(363.90 187.90) rotate(-90) scale(1.0 0.82)" font-family="'Liberation Sans', Arial, sans-serif" font-size="9.2" text-anchor="middle" fill="#262626" stroke="#262626" stroke-width="0.22">Energy (eV)</text><rect x="489.0" y="141.2" width="10" height="96.1" fill="url(#jet)" stroke="#3c3c3c" stroke-width="0.5"/><text transform="translate(502.10 144.50) scale(0.86 1)" font-family="'Liberation Sans', Arial, sans-serif" font-size="8.2" fill="#262626" stroke="#262626" stroke-width="0.22">0.15</text><text transform="translate(502.10 170.02) scale(0.86 1)" font-family="'Liberation Sans', Arial, sans-serif" font-size="8.2" fill="#262626" stroke="#262626" stroke-width="0.22">0.07</text><text transform="translate(502.10 192.35) scale(0.86 1)" font-family="'Liberation Sans', Arial, sans-serif" font-size="8.2" fill="#262626" stroke="#262626" stroke-width="0.22">0</text><text transform="translate(502.10 214.68) scale(0.86 1)" font-family="'Liberation Sans', Arial, sans-serif" font-size="8.2" fill="#262626" stroke="#262626" stroke-width="0.22">-0.07</text><text transform="translate(502.10 240.20) scale(0.86 1)" font-family="'Liberation Sans', Arial, sans-serif" font-size="8.2" fill="#262626" stroke="#262626" stroke-width="0.22">-0.15</text><text transform="translate(516.90 190.00) rotate(-90) scale(1.0 0.9)" font-family="'Liberation Sans', Arial, sans-serif" font-size="7.4" text-anchor="middle" fill="#262626" stroke="#262626" stroke-width="0.22">ΔR/R</text><text transform="translate(351.50 136.80) scale(1.05 1)" font-family="'Liberation Sans', Arial, sans-serif" font-size="12.3" fill="#333" stroke="#333" stroke-width="0.22">(e)</text>
</svg>
</body></html>
